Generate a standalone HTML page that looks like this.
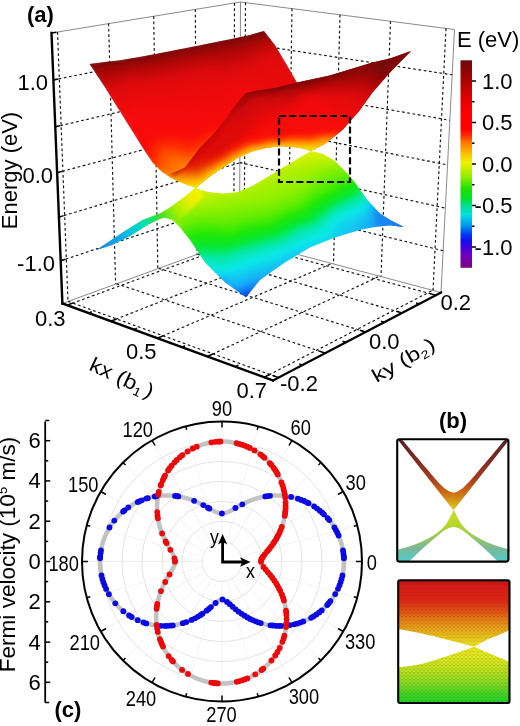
<!DOCTYPE html>
<html><head><meta charset="utf-8"><title>Figure</title>
<style>
html,body{margin:0;padding:0;background:#fff;}
svg{display:block;}
text{font-family:"Liberation Sans",sans-serif;fill:#000;}
.edge{stroke:#8a8a8a;stroke-width:1;fill:none;}
.dash{stroke:#111;stroke-width:1.15;stroke-dasharray:2.7 2.6;fill:none;}
.ax{stroke:#000;stroke-width:2.4;stroke-linecap:square;fill:none;}
.tk{stroke:#000;stroke-width:1.5;fill:none;}
.t21{font-size:22px;}
.t20{font-size:21px;}
.b{font-weight:bold;}

</style></head>
<body>
<svg width="520" height="726" viewBox="0 0 520 726">
<rect width="520" height="726" fill="#fff"/>
<g id="box">
<line x1="51.5" y1="33.0" x2="240.5" y2="2.0" class="edge" />
<line x1="240.5" y1="2.0" x2="454.5" y2="29.5" class="edge" />
<line x1="454.5" y1="29.5" x2="441.0" y2="292.5" class="edge" />
<line x1="441.0" y1="292.5" x2="239.5" y2="239.0" class="edge" />
<line x1="239.5" y1="239.0" x2="62.4" y2="303.5" class="edge" />
<line x1="240.5" y1="2.0" x2="239.5" y2="239.0" class="edge" />
<line x1="57.5" y1="32.0" x2="68.0" y2="301.5" class="dash" />
<line x1="108.6" y1="23.6" x2="115.6" y2="284.1" class="dash" />
<line x1="153.7" y1="16.2" x2="157.8" y2="268.8" class="dash" />
<line x1="195.3" y1="9.4" x2="196.9" y2="254.5" class="dash" />
<line x1="234.5" y1="3.0" x2="233.8" y2="241.1" class="dash" />
<line x1="53.4" y1="79.9" x2="240.3" y2="42.8" class="dash" />
<line x1="55.3" y1="126.8" x2="240.2" y2="83.7" class="dash" />
<line x1="57.1" y1="172.7" x2="240.0" y2="123.9" class="dash" />
<line x1="58.9" y1="217.1" x2="239.8" y2="162.8" class="dash" />
<line x1="60.7" y1="260.8" x2="239.7" y2="201.3" class="dash" />
<line x1="245.5" y1="2.6" x2="244.2" y2="240.3" class="dash" />
<line x1="292.0" y1="8.6" x2="288.2" y2="251.9" class="dash" />
<line x1="340.0" y1="14.8" x2="333.5" y2="264.0" class="dash" />
<line x1="390.5" y1="21.3" x2="381.0" y2="276.6" class="dash" />
<line x1="446.0" y1="28.4" x2="433.0" y2="290.4" class="dash" />
<line x1="240.3" y1="42.6" x2="452.2" y2="74.8" class="dash" />
<line x1="240.2" y1="83.5" x2="449.8" y2="120.3" class="dash" />
<line x1="240.0" y1="123.7" x2="447.5" y2="164.9" class="dash" />
<line x1="239.8" y1="162.6" x2="445.3" y2="208.1" class="dash" />
<line x1="239.7" y1="201.1" x2="443.1" y2="250.7" class="dash" />
<line x1="67.1" y1="305.2" x2="244.1" y2="240.2" class="dash" />
<line x1="110.9" y1="321.2" x2="287.0" y2="251.6" class="dash" />
<line x1="157.4" y1="338.2" x2="331.8" y2="263.5" class="dash" />
<line x1="207.5" y1="356.5" x2="379.5" y2="276.2" class="dash" />
<line x1="264.2" y1="377.3" x2="432.8" y2="290.3" class="dash" />
<line x1="68.1" y1="301.4" x2="278.6" y2="377.6" class="dash" />
<line x1="116.5" y1="283.8" x2="325.3" y2="353.1" class="dash" />
<line x1="158.8" y1="268.4" x2="365.6" y2="332.0" class="dash" />
<line x1="197.6" y1="254.2" x2="402.1" y2="312.9" class="dash" />
<line x1="233.9" y1="241.0" x2="435.9" y2="295.2" class="dash" />
</g>
<defs>
<clipPath id="cLow"><polygon points="96.5,250.0 122.5,232.5 142.5,220.0 160.0,213.5 170.0,207.5 183.0,198.0 190.0,192.5 195.0,188.0 203.0,190.5 208.8,192.0 223.3,193.4 237.7,192.0 252.0,186.0 266.5,177.5 281.0,168.8 295.4,160.2 303.0,155.5 311.0,151.0 322.5,153.5 335.0,161.0 347.5,173.5 355.0,182.5 367.5,200.0 380.0,213.5 390.0,220.0 403.8,227.0 390.0,225.3 375.0,227.0 360.0,230.0 335.0,237.5 310.0,247.5 285.0,262.5 260.0,280.0 246.0,297.5 225.0,282.5 205.0,262.5 190.0,240.0 180.0,227.5 172.5,220.0 165.0,217.5 160.0,218.8 147.5,225.0 130.0,236.0 112.0,245.0"/></clipPath>
<clipPath id="cUp"><polygon points="89.5,64.0 105.0,62.0 118.5,60.4 138.0,57.2 157.0,53.8 176.0,50.0 195.4,46.2 215.0,42.3 233.8,38.5 250.0,35.0 264.0,31.0 275.0,45.0 287.5,66.0 297.0,82.5 329.8,75.5 372.5,62.5 390.0,58.5 411.0,51.0 390.0,72.5 372.5,92.5 360.0,110.0 342.5,130.0 325.0,144.0 311.0,151.0 303.0,148.5 295.4,147.2 281.0,146.3 266.5,148.1 252.1,151.5 237.7,157.9 223.3,167.4 208.8,177.5 202.0,183.0 196.0,188.0 187.5,185.0 175.0,180.0 162.5,172.5 152.5,162.5 142.5,147.5 130.0,127.5 117.5,107.5 105.0,87.5"/></clipPath>
<clipPath id="cFront"><polygon points="297.0,82.5 420.0,45.0 420.0,200.0 160.0,200.0 160.0,178.0 167.5,175.0 185.0,167.5 200.0,147.5 212.5,135.0 225.0,120.0 237.5,102.5 246.0,93.0 257.5,90.5 275.0,88.0"/></clipPath>
<filter id="bl1_5" x="-50%" y="-50%" width="200%" height="200%" color-interpolation-filters="sRGB"><feGaussianBlur stdDeviation="1.5"/></filter>
<filter id="bl2" x="-50%" y="-50%" width="200%" height="200%" color-interpolation-filters="sRGB"><feGaussianBlur stdDeviation="2"/></filter>
<filter id="bl3" x="-50%" y="-50%" width="200%" height="200%" color-interpolation-filters="sRGB"><feGaussianBlur stdDeviation="3"/></filter>
<filter id="bl4" x="-50%" y="-50%" width="200%" height="200%" color-interpolation-filters="sRGB"><feGaussianBlur stdDeviation="4"/></filter>
<filter id="bl5" x="-50%" y="-50%" width="200%" height="200%" color-interpolation-filters="sRGB"><feGaussianBlur stdDeviation="5"/></filter>
<filter id="bl8" x="-50%" y="-50%" width="200%" height="200%" color-interpolation-filters="sRGB"><feGaussianBlur stdDeviation="8"/></filter>
<linearGradient id="gLow" gradientUnits="userSpaceOnUse" x1="194" y1="188" x2="228.4" y2="303">
<stop offset="0" stop-color="#f2f200"/>
<stop offset="0.06" stop-color="#e4f200"/>
<stop offset="0.13" stop-color="#b8f000"/>
<stop offset="0.21" stop-color="#70ea00"/>
<stop offset="0.29" stop-color="#20e010"/>
<stop offset="0.40" stop-color="#00e070"/>
<stop offset="0.53" stop-color="#00e0e0"/>
<stop offset="0.68" stop-color="#10b4f0"/>
<stop offset="0.82" stop-color="#1088f0"/>
<stop offset="1" stop-color="#1060e8"/>
</linearGradient>
<linearGradient id="gWing" gradientUnits="userSpaceOnUse" x1="97" y1="250" x2="196" y2="188">
<stop offset="0" stop-color="#2080f0"/>
<stop offset="0.25" stop-color="#10b0f0"/>
<stop offset="0.45" stop-color="#00e0c0"/>
<stop offset="0.6" stop-color="#30e030"/>
<stop offset="0.75" stop-color="#a0f000"/>
<stop offset="0.9" stop-color="#e8f000"/>
<stop offset="1" stop-color="#f2f200"/>
</linearGradient>
<linearGradient id="gBack" gradientUnits="userSpaceOnUse" x1="176" y1="47" x2="200.6" y2="174.7">
<stop offset="0" stop-color="#800606"/>
<stop offset="0.07" stop-color="#a80a0a"/>
<stop offset="0.18" stop-color="#d81010"/>
<stop offset="0.3" stop-color="#ee1212"/>
<stop offset="0.8" stop-color="#f41414"/>
<stop offset="0.9" stop-color="#f84010"/>
<stop offset="1" stop-color="#fc8010"/>
</linearGradient>
<linearGradient id="gFront" gradientUnits="userSpaceOnUse" x1="300" y1="79" x2="319.3" y2="154.7">
<stop offset="0" stop-color="#7c0606"/>
<stop offset="0.08" stop-color="#a00a0a"/>
<stop offset="0.2" stop-color="#d40e0e"/>
<stop offset="0.32" stop-color="#ee1212"/>
<stop offset="0.62" stop-color="#f41414"/>
<stop offset="0.76" stop-color="#f84a10"/>
<stop offset="0.88" stop-color="#fc9410"/>
<stop offset="0.96" stop-color="#fcd020"/>
<stop offset="1" stop-color="#f8f020"/>
</linearGradient>
</defs>
<g id="lower" clip-path="url(#cLow)">
<g filter="url(#bl2)">
<rect x="309" y="148" width="9.5" height="3.5" fill="#eaf000"/>
<rect x="303" y="151" width="15.5" height="3.5" fill="#dff000"/>
<rect x="318" y="151" width="9.5" height="3.5" fill="#ddf000"/>
<rect x="297" y="154" width="9.5" height="3.5" fill="#d8f000"/>
<rect x="306" y="154" width="27.5" height="3.5" fill="#d2f000"/>
<rect x="291" y="157" width="9.5" height="3.5" fill="#d1f000"/>
<rect x="300" y="157" width="9.5" height="3.5" fill="#ccf000"/>
<rect x="309" y="157" width="9.5" height="3.5" fill="#c7f000"/>
<rect x="318" y="157" width="18.5" height="3.5" fill="#c6f000"/>
<rect x="288" y="160" width="6.5" height="3.5" fill="#ccf000"/>
<rect x="294" y="160" width="6.5" height="3.5" fill="#c8f000"/>
<rect x="300" y="160" width="6.5" height="3.5" fill="#c4f000"/>
<rect x="306" y="160" width="6.5" height="3.5" fill="#c0f000"/>
<rect x="312" y="160" width="9.5" height="3.5" fill="#baf000"/>
<rect x="321" y="160" width="15.5" height="3.5" fill="#b8f000"/>
<rect x="336" y="160" width="3.5" height="3.5" fill="#adf000"/>
<rect x="282" y="163" width="6.5" height="3.5" fill="#c7f000"/>
<rect x="288" y="163" width="9.5" height="3.5" fill="#c2f000"/>
<rect x="297" y="163" width="6.5" height="3.5" fill="#bef000"/>
<rect x="303" y="163" width="6.5" height="3.5" fill="#b9f000"/>
<rect x="309" y="163" width="6.5" height="3.5" fill="#b4f000"/>
<rect x="315" y="163" width="6.5" height="3.5" fill="#aef000"/>
<rect x="321" y="163" width="12.5" height="3.5" fill="#a9f000"/>
<rect x="333" y="163" width="3.5" height="3.5" fill="#a3f000"/>
<rect x="336" y="163" width="3.5" height="3.5" fill="#9af000"/>
<rect x="339" y="163" width="3.5" height="3.5" fill="#92f000"/>
<rect x="276" y="166" width="6.5" height="3.5" fill="#c4f000"/>
<rect x="282" y="166" width="9.5" height="3.5" fill="#bdf000"/>
<rect x="291" y="166" width="6.5" height="3.5" fill="#baf000"/>
<rect x="297" y="166" width="6.5" height="3.5" fill="#b6f000"/>
<rect x="303" y="166" width="6.5" height="3.5" fill="#b1f000"/>
<rect x="309" y="166" width="6.5" height="3.5" fill="#aaf000"/>
<rect x="315" y="166" width="6.5" height="3.5" fill="#a3f000"/>
<rect x="321" y="166" width="6.5" height="3.5" fill="#9df000"/>
<rect x="327" y="166" width="6.5" height="3.5" fill="#99f000"/>
<rect x="333" y="166" width="3.5" height="3.5" fill="#93f000"/>
<rect x="336" y="166" width="3.5" height="3.5" fill="#8bf000"/>
<rect x="339" y="166" width="6.5" height="3.5" fill="#83ef01"/>
<rect x="273" y="169" width="6.5" height="3.5" fill="#c0f000"/>
<rect x="279" y="169" width="6.5" height="3.5" fill="#baf000"/>
<rect x="285" y="169" width="9.5" height="3.5" fill="#b5f000"/>
<rect x="294" y="169" width="6.5" height="3.5" fill="#b1f000"/>
<rect x="300" y="169" width="6.5" height="3.5" fill="#acf000"/>
<rect x="306" y="169" width="6.5" height="3.5" fill="#a5f000"/>
<rect x="312" y="169" width="3.5" height="3.5" fill="#9ef000"/>
<rect x="315" y="169" width="3.5" height="3.5" fill="#9af000"/>
<rect x="318" y="169" width="3.5" height="3.5" fill="#95f000"/>
<rect x="321" y="169" width="3.5" height="3.5" fill="#91f000"/>
<rect x="324" y="169" width="6.5" height="3.5" fill="#8df000"/>
<rect x="330" y="169" width="3.5" height="3.5" fill="#88ef00"/>
<rect x="333" y="169" width="3.5" height="3.5" fill="#83ef01"/>
<rect x="336" y="169" width="3.5" height="3.5" fill="#7def01"/>
<rect x="339" y="169" width="9.5" height="3.5" fill="#76ee01"/>
<rect x="267" y="172" width="6.5" height="3.5" fill="#bff000"/>
<rect x="273" y="172" width="6.5" height="3.5" fill="#b9f000"/>
<rect x="279" y="172" width="6.5" height="3.5" fill="#b4f000"/>
<rect x="285" y="172" width="6.5" height="3.5" fill="#b0f000"/>
<rect x="291" y="172" width="6.5" height="3.5" fill="#acf000"/>
<rect x="297" y="172" width="6.5" height="3.5" fill="#a8f000"/>
<rect x="303" y="172" width="6.5" height="3.5" fill="#a1f000"/>
<rect x="309" y="172" width="3.5" height="3.5" fill="#9af000"/>
<rect x="312" y="172" width="3.5" height="3.5" fill="#96f000"/>
<rect x="315" y="172" width="3.5" height="3.5" fill="#91f000"/>
<rect x="318" y="172" width="3.5" height="3.5" fill="#8bf000"/>
<rect x="321" y="172" width="3.5" height="3.5" fill="#85ef01"/>
<rect x="324" y="172" width="6.5" height="3.5" fill="#80ef01"/>
<rect x="330" y="172" width="3.5" height="3.5" fill="#7aee01"/>
<rect x="333" y="172" width="3.5" height="3.5" fill="#76ee01"/>
<rect x="336" y="172" width="6.5" height="3.5" fill="#71ee02"/>
<rect x="342" y="172" width="6.5" height="3.5" fill="#6cee02"/>
<rect x="348" y="172" width="3.5" height="3.5" fill="#65ed02"/>
<rect x="261" y="175" width="6.5" height="3.5" fill="#bef000"/>
<rect x="267" y="175" width="6.5" height="3.5" fill="#b8f000"/>
<rect x="273" y="175" width="6.5" height="3.5" fill="#b3f000"/>
<rect x="279" y="175" width="6.5" height="3.5" fill="#aff000"/>
<rect x="285" y="175" width="6.5" height="3.5" fill="#abf000"/>
<rect x="291" y="175" width="6.5" height="3.5" fill="#a6f000"/>
<rect x="297" y="175" width="6.5" height="3.5" fill="#a1f000"/>
<rect x="303" y="175" width="3.5" height="3.5" fill="#9bf000"/>
<rect x="306" y="175" width="3.5" height="3.5" fill="#97f000"/>
<rect x="309" y="175" width="3.5" height="3.5" fill="#93f000"/>
<rect x="312" y="175" width="3.5" height="3.5" fill="#8ef000"/>
<rect x="315" y="175" width="3.5" height="3.5" fill="#87ef00"/>
<rect x="318" y="175" width="3.5" height="3.5" fill="#81ef01"/>
<rect x="321" y="175" width="3.5" height="3.5" fill="#7bef01"/>
<rect x="324" y="175" width="3.5" height="3.5" fill="#76ee01"/>
<rect x="327" y="175" width="3.5" height="3.5" fill="#72ee02"/>
<rect x="330" y="175" width="3.5" height="3.5" fill="#6eee02"/>
<rect x="333" y="175" width="3.5" height="3.5" fill="#6aed02"/>
<rect x="336" y="175" width="6.5" height="3.5" fill="#66ed02"/>
<rect x="342" y="175" width="6.5" height="3.5" fill="#60ed02"/>
<rect x="348" y="175" width="3.5" height="3.5" fill="#57ec03"/>
<rect x="351" y="175" width="3.5" height="3.5" fill="#4eeb03"/>
<rect x="258" y="178" width="6.5" height="3.5" fill="#baf000"/>
<rect x="264" y="178" width="6.5" height="3.5" fill="#b5f000"/>
<rect x="270" y="178" width="6.5" height="3.5" fill="#b0f000"/>
<rect x="276" y="178" width="6.5" height="3.5" fill="#abf000"/>
<rect x="282" y="178" width="6.5" height="3.5" fill="#a7f000"/>
<rect x="288" y="178" width="6.5" height="3.5" fill="#a3f000"/>
<rect x="294" y="178" width="6.5" height="3.5" fill="#9ff000"/>
<rect x="300" y="178" width="6.5" height="3.5" fill="#98f000"/>
<rect x="306" y="178" width="3.5" height="3.5" fill="#91f000"/>
<rect x="309" y="178" width="3.5" height="3.5" fill="#8bf000"/>
<rect x="312" y="178" width="3.5" height="3.5" fill="#85ef01"/>
<rect x="315" y="178" width="3.5" height="3.5" fill="#7eef01"/>
<rect x="318" y="178" width="3.5" height="3.5" fill="#78ee01"/>
<rect x="321" y="178" width="3.5" height="3.5" fill="#72ee02"/>
<rect x="324" y="178" width="3.5" height="3.5" fill="#6dee02"/>
<rect x="327" y="178" width="3.5" height="3.5" fill="#68ed02"/>
<rect x="330" y="178" width="3.5" height="3.5" fill="#63ed02"/>
<rect x="333" y="178" width="3.5" height="3.5" fill="#5fed03"/>
<rect x="336" y="178" width="3.5" height="3.5" fill="#5aec03"/>
<rect x="339" y="178" width="3.5" height="3.5" fill="#55ec03"/>
<rect x="342" y="178" width="3.5" height="3.5" fill="#51ec03"/>
<rect x="345" y="178" width="3.5" height="3.5" fill="#4ceb04"/>
<rect x="348" y="178" width="3.5" height="3.5" fill="#45eb04"/>
<rect x="351" y="178" width="3.5" height="3.5" fill="#3cea04"/>
<rect x="354" y="178" width="3.5" height="3.5" fill="#2fe905"/>
<rect x="252" y="181" width="6.5" height="3.5" fill="#b8f000"/>
<rect x="258" y="181" width="6.5" height="3.5" fill="#b3f000"/>
<rect x="264" y="181" width="6.5" height="3.5" fill="#aff000"/>
<rect x="270" y="181" width="6.5" height="3.5" fill="#abf000"/>
<rect x="276" y="181" width="6.5" height="3.5" fill="#a6f000"/>
<rect x="282" y="181" width="6.5" height="3.5" fill="#a2f000"/>
<rect x="288" y="181" width="6.5" height="3.5" fill="#9ef000"/>
<rect x="294" y="181" width="6.5" height="3.5" fill="#99f000"/>
<rect x="300" y="181" width="3.5" height="3.5" fill="#93f000"/>
<rect x="303" y="181" width="3.5" height="3.5" fill="#8ff000"/>
<rect x="306" y="181" width="3.5" height="3.5" fill="#89ef00"/>
<rect x="309" y="181" width="3.5" height="3.5" fill="#83ef01"/>
<rect x="312" y="181" width="3.5" height="3.5" fill="#7cef01"/>
<rect x="315" y="181" width="3.5" height="3.5" fill="#76ee01"/>
<rect x="318" y="181" width="3.5" height="3.5" fill="#6fee02"/>
<rect x="321" y="181" width="3.5" height="3.5" fill="#69ed02"/>
<rect x="324" y="181" width="3.5" height="3.5" fill="#64ed02"/>
<rect x="327" y="181" width="3.5" height="3.5" fill="#5eed03"/>
<rect x="330" y="181" width="3.5" height="3.5" fill="#58ec03"/>
<rect x="333" y="181" width="3.5" height="3.5" fill="#52ec03"/>
<rect x="336" y="181" width="3.5" height="3.5" fill="#4ceb04"/>
<rect x="339" y="181" width="3.5" height="3.5" fill="#46eb04"/>
<rect x="342" y="181" width="3.5" height="3.5" fill="#3fea04"/>
<rect x="345" y="181" width="3.5" height="3.5" fill="#38ea05"/>
<rect x="348" y="181" width="3.5" height="3.5" fill="#30e905"/>
<rect x="351" y="181" width="3.5" height="3.5" fill="#26e905"/>
<rect x="354" y="181" width="3.5" height="3.5" fill="#1be807"/>
<rect x="357" y="181" width="3.5" height="3.5" fill="#17e810"/>
<rect x="192" y="184" width="6.5" height="3.5" fill="#edf000"/>
<rect x="246" y="184" width="6.5" height="3.5" fill="#b7f000"/>
<rect x="252" y="184" width="6.5" height="3.5" fill="#b2f000"/>
<rect x="258" y="184" width="6.5" height="3.5" fill="#adf000"/>
<rect x="264" y="184" width="6.5" height="3.5" fill="#a9f000"/>
<rect x="270" y="184" width="6.5" height="3.5" fill="#a5f000"/>
<rect x="276" y="184" width="9.5" height="3.5" fill="#9ff000"/>
<rect x="285" y="184" width="6.5" height="3.5" fill="#9cf000"/>
<rect x="291" y="184" width="6.5" height="3.5" fill="#97f000"/>
<rect x="297" y="184" width="3.5" height="3.5" fill="#91f000"/>
<rect x="300" y="184" width="3.5" height="3.5" fill="#8cf000"/>
<rect x="303" y="184" width="3.5" height="3.5" fill="#87ef00"/>
<rect x="306" y="184" width="3.5" height="3.5" fill="#80ef01"/>
<rect x="309" y="184" width="3.5" height="3.5" fill="#7aee01"/>
<rect x="312" y="184" width="3.5" height="3.5" fill="#73ee01"/>
<rect x="315" y="184" width="3.5" height="3.5" fill="#6cee02"/>
<rect x="318" y="184" width="3.5" height="3.5" fill="#66ed02"/>
<rect x="321" y="184" width="3.5" height="3.5" fill="#5fed03"/>
<rect x="324" y="184" width="3.5" height="3.5" fill="#59ec03"/>
<rect x="327" y="184" width="3.5" height="3.5" fill="#53ec03"/>
<rect x="330" y="184" width="3.5" height="3.5" fill="#4ceb03"/>
<rect x="333" y="184" width="3.5" height="3.5" fill="#45eb04"/>
<rect x="336" y="184" width="3.5" height="3.5" fill="#3dea04"/>
<rect x="339" y="184" width="3.5" height="3.5" fill="#34ea05"/>
<rect x="342" y="184" width="3.5" height="3.5" fill="#2be905"/>
<rect x="345" y="184" width="3.5" height="3.5" fill="#22e806"/>
<rect x="348" y="184" width="3.5" height="3.5" fill="#1be808"/>
<rect x="351" y="184" width="3.5" height="3.5" fill="#18e80e"/>
<rect x="354" y="184" width="3.5" height="3.5" fill="#14e816"/>
<rect x="357" y="184" width="3.5" height="3.5" fill="#10e81f"/>
<rect x="189" y="187" width="6.5" height="3.5" fill="#e7f000"/>
<rect x="195" y="187" width="6.5" height="3.5" fill="#e0f000"/>
<rect x="201" y="187" width="3.5" height="3.5" fill="#d9f000"/>
<rect x="204" y="187" width="3.5" height="3.5" fill="#d5f000"/>
<rect x="237" y="187" width="6.5" height="3.5" fill="#b9f000"/>
<rect x="243" y="187" width="6.5" height="3.5" fill="#b3f000"/>
<rect x="249" y="187" width="6.5" height="3.5" fill="#aef000"/>
<rect x="255" y="187" width="6.5" height="3.5" fill="#aaf000"/>
<rect x="261" y="187" width="6.5" height="3.5" fill="#a6f000"/>
<rect x="267" y="187" width="6.5" height="3.5" fill="#a2f000"/>
<rect x="273" y="187" width="9.5" height="3.5" fill="#9cf000"/>
<rect x="282" y="187" width="6.5" height="3.5" fill="#99f000"/>
<rect x="288" y="187" width="6.5" height="3.5" fill="#94f000"/>
<rect x="294" y="187" width="3.5" height="3.5" fill="#8ef000"/>
<rect x="297" y="187" width="3.5" height="3.5" fill="#8af000"/>
<rect x="300" y="187" width="3.5" height="3.5" fill="#84ef01"/>
<rect x="303" y="187" width="3.5" height="3.5" fill="#7eef01"/>
<rect x="306" y="187" width="3.5" height="3.5" fill="#78ee01"/>
<rect x="309" y="187" width="3.5" height="3.5" fill="#71ee02"/>
<rect x="312" y="187" width="3.5" height="3.5" fill="#69ed02"/>
<rect x="315" y="187" width="3.5" height="3.5" fill="#62ed02"/>
<rect x="318" y="187" width="3.5" height="3.5" fill="#5bec03"/>
<rect x="321" y="187" width="3.5" height="3.5" fill="#54ec03"/>
<rect x="324" y="187" width="3.5" height="3.5" fill="#4deb03"/>
<rect x="327" y="187" width="3.5" height="3.5" fill="#46eb04"/>
<rect x="330" y="187" width="3.5" height="3.5" fill="#3fea04"/>
<rect x="333" y="187" width="3.5" height="3.5" fill="#35ea05"/>
<rect x="336" y="187" width="3.5" height="3.5" fill="#2be905"/>
<rect x="339" y="187" width="3.5" height="3.5" fill="#20e806"/>
<rect x="342" y="187" width="3.5" height="3.5" fill="#1ae80a"/>
<rect x="345" y="187" width="3.5" height="3.5" fill="#17e810"/>
<rect x="348" y="187" width="3.5" height="3.5" fill="#14e816"/>
<rect x="351" y="187" width="3.5" height="3.5" fill="#11e81d"/>
<rect x="354" y="187" width="3.5" height="3.5" fill="#0de825"/>
<rect x="357" y="187" width="3.5" height="3.5" fill="#09e82e"/>
<rect x="360" y="187" width="3.5" height="3.5" fill="#04e837"/>
<rect x="186" y="190" width="6.5" height="3.5" fill="#e1f000"/>
<rect x="192" y="190" width="3.5" height="3.5" fill="#daf000"/>
<rect x="195" y="190" width="6.5" height="3.5" fill="#d6f000"/>
<rect x="201" y="190" width="6.5" height="3.5" fill="#cff000"/>
<rect x="207" y="190" width="6.5" height="3.5" fill="#c8f000"/>
<rect x="213" y="190" width="6.5" height="3.5" fill="#c2f000"/>
<rect x="219" y="190" width="9.5" height="3.5" fill="#bcf000"/>
<rect x="228" y="190" width="6.5" height="3.5" fill="#b8f000"/>
<rect x="234" y="190" width="6.5" height="3.5" fill="#b4f000"/>
<rect x="240" y="190" width="6.5" height="3.5" fill="#aff000"/>
<rect x="246" y="190" width="6.5" height="3.5" fill="#aaf000"/>
<rect x="252" y="190" width="6.5" height="3.5" fill="#a6f000"/>
<rect x="258" y="190" width="6.5" height="3.5" fill="#a2f000"/>
<rect x="264" y="190" width="9.5" height="3.5" fill="#9df000"/>
<rect x="273" y="190" width="6.5" height="3.5" fill="#99f000"/>
<rect x="279" y="190" width="6.5" height="3.5" fill="#95f000"/>
<rect x="285" y="190" width="6.5" height="3.5" fill="#91f000"/>
<rect x="291" y="190" width="3.5" height="3.5" fill="#8bf000"/>
<rect x="294" y="190" width="3.5" height="3.5" fill="#87ef00"/>
<rect x="297" y="190" width="3.5" height="3.5" fill="#82ef01"/>
<rect x="300" y="190" width="3.5" height="3.5" fill="#7cef01"/>
<rect x="303" y="190" width="3.5" height="3.5" fill="#75ee01"/>
<rect x="306" y="190" width="3.5" height="3.5" fill="#6eee02"/>
<rect x="309" y="190" width="3.5" height="3.5" fill="#67ed02"/>
<rect x="312" y="190" width="3.5" height="3.5" fill="#5eed03"/>
<rect x="315" y="190" width="3.5" height="3.5" fill="#56ec03"/>
<rect x="318" y="190" width="3.5" height="3.5" fill="#4eeb03"/>
<rect x="321" y="190" width="3.5" height="3.5" fill="#47eb04"/>
<rect x="324" y="190" width="3.5" height="3.5" fill="#3fea04"/>
<rect x="327" y="190" width="3.5" height="3.5" fill="#37ea05"/>
<rect x="330" y="190" width="3.5" height="3.5" fill="#2ee905"/>
<rect x="333" y="190" width="3.5" height="3.5" fill="#23e806"/>
<rect x="336" y="190" width="3.5" height="3.5" fill="#1ae809"/>
<rect x="339" y="190" width="3.5" height="3.5" fill="#17e810"/>
<rect x="342" y="190" width="3.5" height="3.5" fill="#14e817"/>
<rect x="345" y="190" width="3.5" height="3.5" fill="#10e81e"/>
<rect x="348" y="190" width="3.5" height="3.5" fill="#0de825"/>
<rect x="351" y="190" width="3.5" height="3.5" fill="#09e82d"/>
<rect x="354" y="190" width="3.5" height="3.5" fill="#06e835"/>
<rect x="357" y="190" width="3.5" height="3.5" fill="#04e848"/>
<rect x="360" y="190" width="3.5" height="3.5" fill="#04e862"/>
<rect x="363" y="190" width="3.5" height="3.5" fill="#04e87a"/>
<rect x="183" y="193" width="6.5" height="3.5" fill="#daf000"/>
<rect x="189" y="193" width="3.5" height="3.5" fill="#d4f000"/>
<rect x="192" y="193" width="6.5" height="3.5" fill="#d0f000"/>
<rect x="198" y="193" width="6.5" height="3.5" fill="#c9f000"/>
<rect x="204" y="193" width="6.5" height="3.5" fill="#c2f000"/>
<rect x="210" y="193" width="6.5" height="3.5" fill="#bcf000"/>
<rect x="216" y="193" width="6.5" height="3.5" fill="#b7f000"/>
<rect x="222" y="193" width="9.5" height="3.5" fill="#b1f000"/>
<rect x="231" y="193" width="6.5" height="3.5" fill="#aef000"/>
<rect x="237" y="193" width="6.5" height="3.5" fill="#aaf000"/>
<rect x="243" y="193" width="6.5" height="3.5" fill="#a6f000"/>
<rect x="249" y="193" width="6.5" height="3.5" fill="#a2f000"/>
<rect x="255" y="193" width="9.5" height="3.5" fill="#9cf000"/>
<rect x="264" y="193" width="9.5" height="3.5" fill="#97f000"/>
<rect x="273" y="193" width="6.5" height="3.5" fill="#94f000"/>
<rect x="279" y="193" width="6.5" height="3.5" fill="#90f000"/>
<rect x="285" y="193" width="6.5" height="3.5" fill="#8af000"/>
<rect x="291" y="193" width="3.5" height="3.5" fill="#83ef01"/>
<rect x="294" y="193" width="3.5" height="3.5" fill="#7eef01"/>
<rect x="297" y="193" width="3.5" height="3.5" fill="#79ee01"/>
<rect x="300" y="193" width="3.5" height="3.5" fill="#73ee02"/>
<rect x="303" y="193" width="3.5" height="3.5" fill="#6cee02"/>
<rect x="306" y="193" width="3.5" height="3.5" fill="#64ed02"/>
<rect x="309" y="193" width="3.5" height="3.5" fill="#5bec03"/>
<rect x="312" y="193" width="3.5" height="3.5" fill="#52ec03"/>
<rect x="315" y="193" width="3.5" height="3.5" fill="#49eb04"/>
<rect x="318" y="193" width="3.5" height="3.5" fill="#3fea04"/>
<rect x="321" y="193" width="3.5" height="3.5" fill="#36ea05"/>
<rect x="324" y="193" width="3.5" height="3.5" fill="#2de905"/>
<rect x="327" y="193" width="3.5" height="3.5" fill="#24e906"/>
<rect x="330" y="193" width="3.5" height="3.5" fill="#1be807"/>
<rect x="333" y="193" width="3.5" height="3.5" fill="#18e80e"/>
<rect x="336" y="193" width="3.5" height="3.5" fill="#14e816"/>
<rect x="339" y="193" width="3.5" height="3.5" fill="#10e81e"/>
<rect x="342" y="193" width="3.5" height="3.5" fill="#0de826"/>
<rect x="345" y="193" width="3.5" height="3.5" fill="#09e82d"/>
<rect x="348" y="193" width="3.5" height="3.5" fill="#06e835"/>
<rect x="351" y="193" width="3.5" height="3.5" fill="#04e844"/>
<rect x="354" y="193" width="3.5" height="3.5" fill="#04e85b"/>
<rect x="357" y="193" width="3.5" height="3.5" fill="#04e873"/>
<rect x="360" y="193" width="3.5" height="3.5" fill="#04e88b"/>
<rect x="363" y="193" width="3.5" height="3.5" fill="#04e89e"/>
<rect x="180" y="196" width="6.5" height="3.5" fill="#d0f000"/>
<rect x="186" y="196" width="6.5" height="3.5" fill="#ccf000"/>
<rect x="192" y="196" width="3.5" height="3.5" fill="#c6f000"/>
<rect x="195" y="196" width="6.5" height="3.5" fill="#c2f000"/>
<rect x="201" y="196" width="6.5" height="3.5" fill="#bcf000"/>
<rect x="207" y="196" width="6.5" height="3.5" fill="#b6f000"/>
<rect x="213" y="196" width="6.5" height="3.5" fill="#b1f000"/>
<rect x="219" y="196" width="6.5" height="3.5" fill="#adf000"/>
<rect x="225" y="196" width="9.5" height="3.5" fill="#a7f000"/>
<rect x="234" y="196" width="6.5" height="3.5" fill="#a4f000"/>
<rect x="240" y="196" width="9.5" height="3.5" fill="#9ff000"/>
<rect x="249" y="196" width="9.5" height="3.5" fill="#9af000"/>
<rect x="258" y="196" width="9.5" height="3.5" fill="#95f000"/>
<rect x="267" y="196" width="6.5" height="3.5" fill="#92f000"/>
<rect x="273" y="196" width="6.5" height="3.5" fill="#8ef000"/>
<rect x="279" y="196" width="6.5" height="3.5" fill="#88ef00"/>
<rect x="285" y="196" width="3.5" height="3.5" fill="#82ef01"/>
<rect x="288" y="196" width="3.5" height="3.5" fill="#7eef01"/>
<rect x="291" y="196" width="3.5" height="3.5" fill="#7aee01"/>
<rect x="294" y="196" width="3.5" height="3.5" fill="#75ee01"/>
<rect x="297" y="196" width="3.5" height="3.5" fill="#70ee02"/>
<rect x="300" y="196" width="3.5" height="3.5" fill="#69ed02"/>
<rect x="303" y="196" width="3.5" height="3.5" fill="#61ed02"/>
<rect x="306" y="196" width="3.5" height="3.5" fill="#58ec03"/>
<rect x="309" y="196" width="3.5" height="3.5" fill="#4eeb03"/>
<rect x="312" y="196" width="3.5" height="3.5" fill="#44eb04"/>
<rect x="315" y="196" width="3.5" height="3.5" fill="#39ea04"/>
<rect x="318" y="196" width="3.5" height="3.5" fill="#2ee905"/>
<rect x="321" y="196" width="3.5" height="3.5" fill="#23e906"/>
<rect x="324" y="196" width="3.5" height="3.5" fill="#1be808"/>
<rect x="327" y="196" width="3.5" height="3.5" fill="#18e80e"/>
<rect x="330" y="196" width="3.5" height="3.5" fill="#15e815"/>
<rect x="333" y="196" width="3.5" height="3.5" fill="#11e81d"/>
<rect x="336" y="196" width="3.5" height="3.5" fill="#0de825"/>
<rect x="339" y="196" width="3.5" height="3.5" fill="#09e82e"/>
<rect x="342" y="196" width="3.5" height="3.5" fill="#05e835"/>
<rect x="345" y="196" width="3.5" height="3.5" fill="#04e846"/>
<rect x="348" y="196" width="3.5" height="3.5" fill="#04e85a"/>
<rect x="351" y="196" width="3.5" height="3.5" fill="#04e86f"/>
<rect x="354" y="196" width="3.5" height="3.5" fill="#04e884"/>
<rect x="357" y="196" width="3.5" height="3.5" fill="#04e899"/>
<rect x="360" y="196" width="3.5" height="3.5" fill="#05e8a6"/>
<rect x="363" y="196" width="3.5" height="3.5" fill="#06e8b2"/>
<rect x="366" y="196" width="3.5" height="3.5" fill="#07e8bd"/>
<rect x="174" y="199" width="12.5" height="3.5" fill="#c5f000"/>
<rect x="186" y="199" width="6.5" height="3.5" fill="#c0f000"/>
<rect x="192" y="199" width="3.5" height="3.5" fill="#bbf000"/>
<rect x="195" y="199" width="6.5" height="3.5" fill="#b7f000"/>
<rect x="201" y="199" width="6.5" height="3.5" fill="#b2f000"/>
<rect x="207" y="199" width="6.5" height="3.5" fill="#adf000"/>
<rect x="213" y="199" width="6.5" height="3.5" fill="#a8f000"/>
<rect x="219" y="199" width="9.5" height="3.5" fill="#a3f000"/>
<rect x="228" y="199" width="9.5" height="3.5" fill="#9df000"/>
<rect x="237" y="199" width="12.5" height="3.5" fill="#99f000"/>
<rect x="249" y="199" width="9.5" height="3.5" fill="#94f000"/>
<rect x="258" y="199" width="6.5" height="3.5" fill="#91f000"/>
<rect x="264" y="199" width="6.5" height="3.5" fill="#8df000"/>
<rect x="270" y="199" width="6.5" height="3.5" fill="#88ef00"/>
<rect x="276" y="199" width="3.5" height="3.5" fill="#83ef01"/>
<rect x="279" y="199" width="6.5" height="3.5" fill="#7fef01"/>
<rect x="285" y="199" width="3.5" height="3.5" fill="#78ee01"/>
<rect x="288" y="199" width="3.5" height="3.5" fill="#74ee01"/>
<rect x="291" y="199" width="3.5" height="3.5" fill="#70ee02"/>
<rect x="294" y="199" width="3.5" height="3.5" fill="#6bed02"/>
<rect x="297" y="199" width="3.5" height="3.5" fill="#65ed02"/>
<rect x="300" y="199" width="3.5" height="3.5" fill="#5eed03"/>
<rect x="303" y="199" width="3.5" height="3.5" fill="#55ec03"/>
<rect x="306" y="199" width="3.5" height="3.5" fill="#4beb04"/>
<rect x="309" y="199" width="3.5" height="3.5" fill="#40ea04"/>
<rect x="312" y="199" width="3.5" height="3.5" fill="#34ea05"/>
<rect x="315" y="199" width="3.5" height="3.5" fill="#28e905"/>
<rect x="318" y="199" width="3.5" height="3.5" fill="#1ce807"/>
<rect x="321" y="199" width="3.5" height="3.5" fill="#18e80e"/>
<rect x="324" y="199" width="3.5" height="3.5" fill="#15e815"/>
<rect x="327" y="199" width="3.5" height="3.5" fill="#11e81c"/>
<rect x="330" y="199" width="3.5" height="3.5" fill="#0ee824"/>
<rect x="333" y="199" width="3.5" height="3.5" fill="#09e82d"/>
<rect x="336" y="199" width="3.5" height="3.5" fill="#05e835"/>
<rect x="339" y="199" width="3.5" height="3.5" fill="#04e849"/>
<rect x="342" y="199" width="3.5" height="3.5" fill="#04e85e"/>
<rect x="345" y="199" width="3.5" height="3.5" fill="#04e872"/>
<rect x="348" y="199" width="3.5" height="3.5" fill="#04e885"/>
<rect x="351" y="199" width="3.5" height="3.5" fill="#04e897"/>
<rect x="354" y="199" width="3.5" height="3.5" fill="#05e8a4"/>
<rect x="357" y="199" width="3.5" height="3.5" fill="#06e8af"/>
<rect x="360" y="199" width="3.5" height="3.5" fill="#07e8bb"/>
<rect x="363" y="199" width="3.5" height="3.5" fill="#07e8c6"/>
<rect x="366" y="199" width="3.5" height="3.5" fill="#08e8cf"/>
<rect x="369" y="199" width="3.5" height="3.5" fill="#09e8d9"/>
<rect x="171" y="202" width="12.5" height="3.5" fill="#b9f000"/>
<rect x="183" y="202" width="6.5" height="3.5" fill="#b6f000"/>
<rect x="189" y="202" width="6.5" height="3.5" fill="#b2f000"/>
<rect x="195" y="202" width="6.5" height="3.5" fill="#adf000"/>
<rect x="201" y="202" width="6.5" height="3.5" fill="#a8f000"/>
<rect x="207" y="202" width="9.5" height="3.5" fill="#a2f000"/>
<rect x="216" y="202" width="9.5" height="3.5" fill="#9cf000"/>
<rect x="225" y="202" width="6.5" height="3.5" fill="#99f000"/>
<rect x="231" y="202" width="12.5" height="3.5" fill="#94f000"/>
<rect x="243" y="202" width="9.5" height="3.5" fill="#90f000"/>
<rect x="252" y="202" width="9.5" height="3.5" fill="#8cf000"/>
<rect x="261" y="202" width="6.5" height="3.5" fill="#88ef00"/>
<rect x="267" y="202" width="6.5" height="3.5" fill="#83ef01"/>
<rect x="273" y="202" width="3.5" height="3.5" fill="#7def01"/>
<rect x="276" y="202" width="3.5" height="3.5" fill="#79ee01"/>
<rect x="279" y="202" width="3.5" height="3.5" fill="#75ee01"/>
<rect x="282" y="202" width="3.5" height="3.5" fill="#71ee02"/>
<rect x="285" y="202" width="3.5" height="3.5" fill="#6dee02"/>
<rect x="288" y="202" width="3.5" height="3.5" fill="#69ed02"/>
<rect x="291" y="202" width="3.5" height="3.5" fill="#64ed02"/>
<rect x="294" y="202" width="3.5" height="3.5" fill="#5fed03"/>
<rect x="297" y="202" width="3.5" height="3.5" fill="#59ec03"/>
<rect x="300" y="202" width="3.5" height="3.5" fill="#51ec03"/>
<rect x="303" y="202" width="3.5" height="3.5" fill="#48eb04"/>
<rect x="306" y="202" width="3.5" height="3.5" fill="#3dea04"/>
<rect x="309" y="202" width="3.5" height="3.5" fill="#30e905"/>
<rect x="312" y="202" width="3.5" height="3.5" fill="#22e806"/>
<rect x="315" y="202" width="3.5" height="3.5" fill="#1ae80a"/>
<rect x="318" y="202" width="3.5" height="3.5" fill="#16e812"/>
<rect x="321" y="202" width="3.5" height="3.5" fill="#12e81a"/>
<rect x="324" y="202" width="3.5" height="3.5" fill="#0fe822"/>
<rect x="327" y="202" width="3.5" height="3.5" fill="#0ae82b"/>
<rect x="330" y="202" width="3.5" height="3.5" fill="#06e833"/>
<rect x="333" y="202" width="3.5" height="3.5" fill="#04e845"/>
<rect x="336" y="202" width="3.5" height="3.5" fill="#04e85f"/>
<rect x="339" y="202" width="3.5" height="3.5" fill="#04e877"/>
<rect x="342" y="202" width="3.5" height="3.5" fill="#04e88b"/>
<rect x="345" y="202" width="3.5" height="3.5" fill="#04e89b"/>
<rect x="348" y="202" width="3.5" height="3.5" fill="#05e8a5"/>
<rect x="351" y="202" width="3.5" height="3.5" fill="#06e8af"/>
<rect x="354" y="202" width="3.5" height="3.5" fill="#06e8ba"/>
<rect x="357" y="202" width="3.5" height="3.5" fill="#07e8c4"/>
<rect x="360" y="202" width="3.5" height="3.5" fill="#08e8ce"/>
<rect x="363" y="202" width="3.5" height="3.5" fill="#09e8d8"/>
<rect x="366" y="202" width="3.5" height="3.5" fill="#09e8e2"/>
<rect x="369" y="202" width="3.5" height="3.5" fill="#0ae7ea"/>
<rect x="372" y="202" width="3.5" height="3.5" fill="#0cdfec"/>
<rect x="165" y="205" width="12.5" height="3.5" fill="#b0f000"/>
<rect x="177" y="205" width="9.5" height="3.5" fill="#abf000"/>
<rect x="186" y="205" width="6.5" height="3.5" fill="#a8f000"/>
<rect x="192" y="205" width="6.5" height="3.5" fill="#a4f000"/>
<rect x="198" y="205" width="6.5" height="3.5" fill="#a0f000"/>
<rect x="204" y="205" width="9.5" height="3.5" fill="#9af000"/>
<rect x="213" y="205" width="9.5" height="3.5" fill="#96f000"/>
<rect x="222" y="205" width="9.5" height="3.5" fill="#92f000"/>
<rect x="231" y="205" width="9.5" height="3.5" fill="#8bf000"/>
<rect x="240" y="205" width="12.5" height="3.5" fill="#88ef00"/>
<rect x="252" y="205" width="9.5" height="3.5" fill="#83ef01"/>
<rect x="261" y="205" width="6.5" height="3.5" fill="#7fef01"/>
<rect x="267" y="205" width="6.5" height="3.5" fill="#7aee01"/>
<rect x="273" y="205" width="3.5" height="3.5" fill="#73ee01"/>
<rect x="276" y="205" width="3.5" height="3.5" fill="#6fee02"/>
<rect x="279" y="205" width="3.5" height="3.5" fill="#6aed02"/>
<rect x="282" y="205" width="3.5" height="3.5" fill="#65ed02"/>
<rect x="285" y="205" width="3.5" height="3.5" fill="#60ed02"/>
<rect x="288" y="205" width="3.5" height="3.5" fill="#5bec03"/>
<rect x="291" y="205" width="3.5" height="3.5" fill="#56ec03"/>
<rect x="294" y="205" width="3.5" height="3.5" fill="#51ec03"/>
<rect x="297" y="205" width="3.5" height="3.5" fill="#4aeb04"/>
<rect x="300" y="205" width="3.5" height="3.5" fill="#42eb04"/>
<rect x="303" y="205" width="3.5" height="3.5" fill="#38ea05"/>
<rect x="306" y="205" width="3.5" height="3.5" fill="#2ce905"/>
<rect x="309" y="205" width="3.5" height="3.5" fill="#1ee806"/>
<rect x="312" y="205" width="3.5" height="3.5" fill="#19e80d"/>
<rect x="315" y="205" width="3.5" height="3.5" fill="#15e815"/>
<rect x="318" y="205" width="3.5" height="3.5" fill="#11e81e"/>
<rect x="321" y="205" width="3.5" height="3.5" fill="#0ce827"/>
<rect x="324" y="205" width="3.5" height="3.5" fill="#08e830"/>
<rect x="327" y="205" width="3.5" height="3.5" fill="#04e83b"/>
<rect x="330" y="205" width="3.5" height="3.5" fill="#04e856"/>
<rect x="333" y="205" width="3.5" height="3.5" fill="#04e871"/>
<rect x="336" y="205" width="3.5" height="3.5" fill="#04e88b"/>
<rect x="339" y="205" width="3.5" height="3.5" fill="#04e89e"/>
<rect x="342" y="205" width="3.5" height="3.5" fill="#05e8a9"/>
<rect x="345" y="205" width="3.5" height="3.5" fill="#06e8b3"/>
<rect x="348" y="205" width="3.5" height="3.5" fill="#07e8bc"/>
<rect x="351" y="205" width="3.5" height="3.5" fill="#07e8c5"/>
<rect x="354" y="205" width="3.5" height="3.5" fill="#08e8ce"/>
<rect x="357" y="205" width="3.5" height="3.5" fill="#09e8d7"/>
<rect x="360" y="205" width="3.5" height="3.5" fill="#09e8e0"/>
<rect x="363" y="205" width="3.5" height="3.5" fill="#0ae8ea"/>
<rect x="366" y="205" width="3.5" height="3.5" fill="#0ce1ec"/>
<rect x="369" y="205" width="3.5" height="3.5" fill="#0ddaed"/>
<rect x="372" y="205" width="3.5" height="3.5" fill="#0fd1ef"/>
<rect x="375" y="205" width="3.5" height="3.5" fill="#11c8f1"/>
<rect x="162" y="208" width="12.5" height="3.5" fill="#a7f000"/>
<rect x="174" y="208" width="6.5" height="3.5" fill="#a3f000"/>
<rect x="180" y="208" width="9.5" height="3.5" fill="#9df000"/>
<rect x="189" y="208" width="6.5" height="3.5" fill="#9bf000"/>
<rect x="195" y="208" width="9.5" height="3.5" fill="#95f000"/>
<rect x="204" y="208" width="9.5" height="3.5" fill="#91f000"/>
<rect x="213" y="208" width="9.5" height="3.5" fill="#8ef000"/>
<rect x="222" y="208" width="6.5" height="3.5" fill="#8bf000"/>
<rect x="228" y="208" width="6.5" height="3.5" fill="#86ef00"/>
<rect x="234" y="208" width="9.5" height="3.5" fill="#81ef01"/>
<rect x="243" y="208" width="12.5" height="3.5" fill="#7def01"/>
<rect x="255" y="208" width="6.5" height="3.5" fill="#7aee01"/>
<rect x="261" y="208" width="6.5" height="3.5" fill="#76ee01"/>
<rect x="267" y="208" width="3.5" height="3.5" fill="#71ee02"/>
<rect x="270" y="208" width="3.5" height="3.5" fill="#6dee02"/>
<rect x="273" y="208" width="3.5" height="3.5" fill="#68ed02"/>
<rect x="276" y="208" width="3.5" height="3.5" fill="#63ed02"/>
<rect x="279" y="208" width="3.5" height="3.5" fill="#5ded03"/>
<rect x="282" y="208" width="3.5" height="3.5" fill="#58ec03"/>
<rect x="285" y="208" width="3.5" height="3.5" fill="#52ec03"/>
<rect x="288" y="208" width="3.5" height="3.5" fill="#4ceb04"/>
<rect x="291" y="208" width="3.5" height="3.5" fill="#46eb04"/>
<rect x="294" y="208" width="3.5" height="3.5" fill="#40ea04"/>
<rect x="297" y="208" width="3.5" height="3.5" fill="#39ea04"/>
<rect x="300" y="208" width="3.5" height="3.5" fill="#32e905"/>
<rect x="303" y="208" width="3.5" height="3.5" fill="#27e905"/>
<rect x="306" y="208" width="3.5" height="3.5" fill="#1be807"/>
<rect x="309" y="208" width="3.5" height="3.5" fill="#17e810"/>
<rect x="312" y="208" width="3.5" height="3.5" fill="#13e818"/>
<rect x="315" y="208" width="3.5" height="3.5" fill="#0fe821"/>
<rect x="318" y="208" width="3.5" height="3.5" fill="#0be82a"/>
<rect x="321" y="208" width="3.5" height="3.5" fill="#06e834"/>
<rect x="324" y="208" width="3.5" height="3.5" fill="#04e847"/>
<rect x="327" y="208" width="3.5" height="3.5" fill="#04e863"/>
<rect x="330" y="208" width="3.5" height="3.5" fill="#04e87f"/>
<rect x="333" y="208" width="3.5" height="3.5" fill="#04e899"/>
<rect x="336" y="208" width="3.5" height="3.5" fill="#05e8a8"/>
<rect x="339" y="208" width="3.5" height="3.5" fill="#06e8b5"/>
<rect x="342" y="208" width="3.5" height="3.5" fill="#07e8c0"/>
<rect x="345" y="208" width="3.5" height="3.5" fill="#08e8c8"/>
<rect x="348" y="208" width="3.5" height="3.5" fill="#08e8d0"/>
<rect x="351" y="208" width="3.5" height="3.5" fill="#09e8d8"/>
<rect x="354" y="208" width="3.5" height="3.5" fill="#09e8e0"/>
<rect x="357" y="208" width="3.5" height="3.5" fill="#0ae8e8"/>
<rect x="360" y="208" width="3.5" height="3.5" fill="#0be3eb"/>
<rect x="363" y="208" width="3.5" height="3.5" fill="#0ddded"/>
<rect x="366" y="208" width="3.5" height="3.5" fill="#0ed5ee"/>
<rect x="369" y="208" width="3.5" height="3.5" fill="#10cef0"/>
<rect x="372" y="208" width="3.5" height="3.5" fill="#12c5f2"/>
<rect x="375" y="208" width="3.5" height="3.5" fill="#14bbf4"/>
<rect x="378" y="208" width="3.5" height="3.5" fill="#16b2f6"/>
<rect x="153" y="211" width="6.5" height="3.5" fill="#a6f000"/>
<rect x="159" y="211" width="12.5" height="3.5" fill="#a1f000"/>
<rect x="171" y="211" width="3.5" height="3.5" fill="#9ef000"/>
<rect x="174" y="211" width="3.5" height="3.5" fill="#9af000"/>
<rect x="177" y="211" width="9.5" height="3.5" fill="#94f000"/>
<rect x="186" y="211" width="6.5" height="3.5" fill="#92f000"/>
<rect x="192" y="211" width="6.5" height="3.5" fill="#8ef000"/>
<rect x="198" y="211" width="9.5" height="3.5" fill="#88ef00"/>
<rect x="207" y="211" width="12.5" height="3.5" fill="#85ef01"/>
<rect x="219" y="211" width="9.5" height="3.5" fill="#81ef01"/>
<rect x="228" y="211" width="6.5" height="3.5" fill="#7eef01"/>
<rect x="234" y="211" width="9.5" height="3.5" fill="#78ee01"/>
<rect x="243" y="211" width="9.5" height="3.5" fill="#73ee01"/>
<rect x="252" y="211" width="9.5" height="3.5" fill="#6fee02"/>
<rect x="261" y="211" width="6.5" height="3.5" fill="#6ced02"/>
<rect x="267" y="211" width="3.5" height="3.5" fill="#66ed02"/>
<rect x="270" y="211" width="3.5" height="3.5" fill="#61ed02"/>
<rect x="273" y="211" width="3.5" height="3.5" fill="#5cec03"/>
<rect x="276" y="211" width="3.5" height="3.5" fill="#56ec03"/>
<rect x="279" y="211" width="3.5" height="3.5" fill="#4fec03"/>
<rect x="282" y="211" width="3.5" height="3.5" fill="#48eb04"/>
<rect x="285" y="211" width="3.5" height="3.5" fill="#41eb04"/>
<rect x="288" y="211" width="3.5" height="3.5" fill="#3aea04"/>
<rect x="291" y="211" width="3.5" height="3.5" fill="#33ea05"/>
<rect x="294" y="211" width="3.5" height="3.5" fill="#2ce905"/>
<rect x="297" y="211" width="3.5" height="3.5" fill="#25e906"/>
<rect x="300" y="211" width="3.5" height="3.5" fill="#1de806"/>
<rect x="303" y="211" width="3.5" height="3.5" fill="#19e80b"/>
<rect x="306" y="211" width="3.5" height="3.5" fill="#16e813"/>
<rect x="309" y="211" width="3.5" height="3.5" fill="#12e81b"/>
<rect x="312" y="211" width="3.5" height="3.5" fill="#0de824"/>
<rect x="315" y="211" width="3.5" height="3.5" fill="#09e82d"/>
<rect x="318" y="211" width="3.5" height="3.5" fill="#05e837"/>
<rect x="321" y="211" width="3.5" height="3.5" fill="#04e851"/>
<rect x="324" y="211" width="3.5" height="3.5" fill="#04e86d"/>
<rect x="327" y="211" width="3.5" height="3.5" fill="#04e889"/>
<rect x="330" y="211" width="3.5" height="3.5" fill="#05e8a0"/>
<rect x="333" y="211" width="3.5" height="3.5" fill="#06e8b0"/>
<rect x="336" y="211" width="3.5" height="3.5" fill="#07e8be"/>
<rect x="339" y="211" width="3.5" height="3.5" fill="#08e8ca"/>
<rect x="342" y="211" width="3.5" height="3.5" fill="#08e8d3"/>
<rect x="345" y="211" width="3.5" height="3.5" fill="#09e8db"/>
<rect x="348" y="211" width="3.5" height="3.5" fill="#09e8e2"/>
<rect x="351" y="211" width="3.5" height="3.5" fill="#0ae8e9"/>
<rect x="354" y="211" width="3.5" height="3.5" fill="#0be4eb"/>
<rect x="357" y="211" width="3.5" height="3.5" fill="#0cdfec"/>
<rect x="360" y="211" width="3.5" height="3.5" fill="#0dd9ed"/>
<rect x="363" y="211" width="3.5" height="3.5" fill="#0fd2ef"/>
<rect x="366" y="211" width="3.5" height="3.5" fill="#10cbf0"/>
<rect x="369" y="211" width="3.5" height="3.5" fill="#12c3f2"/>
<rect x="372" y="211" width="3.5" height="3.5" fill="#14baf4"/>
<rect x="375" y="211" width="3.5" height="3.5" fill="#16b1f6"/>
<rect x="378" y="211" width="3.5" height="3.5" fill="#18a6f8"/>
<rect x="381" y="211" width="3.5" height="3.5" fill="#1499f7"/>
<rect x="147" y="214" width="9.5" height="3.5" fill="#a0f000"/>
<rect x="156" y="214" width="15.5" height="3.5" fill="#9cf000"/>
<rect x="171" y="214" width="3.5" height="3.5" fill="#99f000"/>
<rect x="174" y="214" width="3.5" height="3.5" fill="#94f000"/>
<rect x="177" y="214" width="3.5" height="3.5" fill="#8ef000"/>
<rect x="180" y="214" width="6.5" height="3.5" fill="#8af000"/>
<rect x="186" y="214" width="6.5" height="3.5" fill="#86ef01"/>
<rect x="192" y="214" width="6.5" height="3.5" fill="#81ef01"/>
<rect x="198" y="214" width="15.5" height="3.5" fill="#7aef01"/>
<rect x="213" y="214" width="15.5" height="3.5" fill="#78ee01"/>
<rect x="228" y="214" width="6.5" height="3.5" fill="#75ee01"/>
<rect x="234" y="214" width="6.5" height="3.5" fill="#70ee02"/>
<rect x="240" y="214" width="6.5" height="3.5" fill="#6cee02"/>
<rect x="246" y="214" width="9.5" height="3.5" fill="#67ed02"/>
<rect x="255" y="214" width="9.5" height="3.5" fill="#62ed02"/>
<rect x="264" y="214" width="3.5" height="3.5" fill="#5dec03"/>
<rect x="267" y="214" width="3.5" height="3.5" fill="#59ec03"/>
<rect x="270" y="214" width="3.5" height="3.5" fill="#54ec03"/>
<rect x="273" y="214" width="3.5" height="3.5" fill="#4eeb03"/>
<rect x="276" y="214" width="3.5" height="3.5" fill="#47eb04"/>
<rect x="279" y="214" width="3.5" height="3.5" fill="#3fea04"/>
<rect x="282" y="214" width="3.5" height="3.5" fill="#36ea05"/>
<rect x="285" y="214" width="3.5" height="3.5" fill="#2ee905"/>
<rect x="288" y="214" width="3.5" height="3.5" fill="#25e906"/>
<rect x="291" y="214" width="3.5" height="3.5" fill="#1de806"/>
<rect x="294" y="214" width="3.5" height="3.5" fill="#1ae80a"/>
<rect x="297" y="214" width="3.5" height="3.5" fill="#18e80e"/>
<rect x="300" y="214" width="3.5" height="3.5" fill="#16e813"/>
<rect x="303" y="214" width="3.5" height="3.5" fill="#13e819"/>
<rect x="306" y="214" width="3.5" height="3.5" fill="#0fe820"/>
<rect x="309" y="214" width="3.5" height="3.5" fill="#0be829"/>
<rect x="312" y="214" width="3.5" height="3.5" fill="#07e831"/>
<rect x="315" y="214" width="3.5" height="3.5" fill="#04e83e"/>
<rect x="318" y="214" width="3.5" height="3.5" fill="#04e859"/>
<rect x="321" y="214" width="3.5" height="3.5" fill="#04e874"/>
<rect x="324" y="214" width="3.5" height="3.5" fill="#04e890"/>
<rect x="327" y="214" width="3.5" height="3.5" fill="#05e8a5"/>
<rect x="330" y="214" width="3.5" height="3.5" fill="#06e8b5"/>
<rect x="333" y="214" width="3.5" height="3.5" fill="#07e8c4"/>
<rect x="336" y="214" width="3.5" height="3.5" fill="#08e8d1"/>
<rect x="339" y="214" width="3.5" height="3.5" fill="#09e8dc"/>
<rect x="342" y="214" width="3.5" height="3.5" fill="#0ae8e4"/>
<rect x="345" y="214" width="3.5" height="3.5" fill="#0ae7ea"/>
<rect x="348" y="214" width="3.5" height="3.5" fill="#0be3eb"/>
<rect x="351" y="214" width="3.5" height="3.5" fill="#0cdfec"/>
<rect x="354" y="214" width="3.5" height="3.5" fill="#0ddaed"/>
<rect x="357" y="214" width="3.5" height="3.5" fill="#0ed5ee"/>
<rect x="360" y="214" width="3.5" height="3.5" fill="#0fd0ef"/>
<rect x="363" y="214" width="3.5" height="3.5" fill="#11caf1"/>
<rect x="366" y="214" width="3.5" height="3.5" fill="#12c3f2"/>
<rect x="369" y="214" width="3.5" height="3.5" fill="#14bbf4"/>
<rect x="372" y="214" width="3.5" height="3.5" fill="#16b3f6"/>
<rect x="375" y="214" width="3.5" height="3.5" fill="#18a9f8"/>
<rect x="378" y="214" width="3.5" height="3.5" fill="#159af7"/>
<rect x="381" y="214" width="3.5" height="3.5" fill="#128cf6"/>
<rect x="384" y="214" width="3.5" height="3.5" fill="#0f80f5"/>
<rect x="387" y="214" width="3.5" height="3.5" fill="#0c76f4"/>
<rect x="138" y="217" width="9.5" height="3.5" fill="#9bf000"/>
<rect x="147" y="217" width="27.5" height="3.5" fill="#96f000"/>
<rect x="174" y="217" width="3.5" height="3.5" fill="#91f000"/>
<rect x="177" y="217" width="3.5" height="3.5" fill="#89f000"/>
<rect x="180" y="217" width="3.5" height="3.5" fill="#83ef01"/>
<rect x="183" y="217" width="3.5" height="3.5" fill="#7eef01"/>
<rect x="186" y="217" width="6.5" height="3.5" fill="#7aef01"/>
<rect x="192" y="217" width="6.5" height="3.5" fill="#74ee01"/>
<rect x="198" y="217" width="30.5" height="3.5" fill="#6eee02"/>
<rect x="228" y="217" width="6.5" height="3.5" fill="#6bed02"/>
<rect x="234" y="217" width="6.5" height="3.5" fill="#67ed02"/>
<rect x="240" y="217" width="6.5" height="3.5" fill="#61ed02"/>
<rect x="246" y="217" width="6.5" height="3.5" fill="#5cec03"/>
<rect x="252" y="217" width="6.5" height="3.5" fill="#58ec03"/>
<rect x="258" y="217" width="6.5" height="3.5" fill="#54ec03"/>
<rect x="264" y="217" width="3.5" height="3.5" fill="#50ec03"/>
<rect x="267" y="217" width="3.5" height="3.5" fill="#4ceb04"/>
<rect x="270" y="217" width="3.5" height="3.5" fill="#46eb04"/>
<rect x="273" y="217" width="3.5" height="3.5" fill="#3fea04"/>
<rect x="276" y="217" width="3.5" height="3.5" fill="#36ea05"/>
<rect x="279" y="217" width="3.5" height="3.5" fill="#2ce905"/>
<rect x="282" y="217" width="3.5" height="3.5" fill="#22e806"/>
<rect x="285" y="217" width="3.5" height="3.5" fill="#1be808"/>
<rect x="288" y="217" width="3.5" height="3.5" fill="#18e80d"/>
<rect x="291" y="217" width="3.5" height="3.5" fill="#16e813"/>
<rect x="294" y="217" width="3.5" height="3.5" fill="#14e818"/>
<rect x="297" y="217" width="3.5" height="3.5" fill="#11e81d"/>
<rect x="300" y="217" width="3.5" height="3.5" fill="#0fe822"/>
<rect x="303" y="217" width="3.5" height="3.5" fill="#0ce828"/>
<rect x="306" y="217" width="3.5" height="3.5" fill="#08e82f"/>
<rect x="309" y="217" width="3.5" height="3.5" fill="#05e836"/>
<rect x="312" y="217" width="3.5" height="3.5" fill="#04e84a"/>
<rect x="315" y="217" width="3.5" height="3.5" fill="#04e862"/>
<rect x="318" y="217" width="3.5" height="3.5" fill="#04e87b"/>
<rect x="321" y="217" width="3.5" height="3.5" fill="#04e896"/>
<rect x="324" y="217" width="3.5" height="3.5" fill="#05e8a7"/>
<rect x="327" y="217" width="3.5" height="3.5" fill="#06e8b8"/>
<rect x="330" y="217" width="3.5" height="3.5" fill="#08e8c8"/>
<rect x="333" y="217" width="3.5" height="3.5" fill="#09e8d7"/>
<rect x="336" y="217" width="3.5" height="3.5" fill="#09e8e2"/>
<rect x="339" y="217" width="3.5" height="3.5" fill="#0ae7ea"/>
<rect x="342" y="217" width="3.5" height="3.5" fill="#0be2eb"/>
<rect x="345" y="217" width="3.5" height="3.5" fill="#0cdeec"/>
<rect x="348" y="217" width="3.5" height="3.5" fill="#0ddaed"/>
<rect x="351" y="217" width="3.5" height="3.5" fill="#0ed6ee"/>
<rect x="354" y="217" width="3.5" height="3.5" fill="#0fd2ef"/>
<rect x="357" y="217" width="3.5" height="3.5" fill="#10cef0"/>
<rect x="360" y="217" width="3.5" height="3.5" fill="#11c9f1"/>
<rect x="363" y="217" width="3.5" height="3.5" fill="#12c3f2"/>
<rect x="366" y="217" width="3.5" height="3.5" fill="#13bdf3"/>
<rect x="369" y="217" width="3.5" height="3.5" fill="#15b6f5"/>
<rect x="372" y="217" width="3.5" height="3.5" fill="#17adf7"/>
<rect x="375" y="217" width="3.5" height="3.5" fill="#17a2f8"/>
<rect x="378" y="217" width="3.5" height="3.5" fill="#1393f6"/>
<rect x="381" y="217" width="3.5" height="3.5" fill="#1085f5"/>
<rect x="384" y="217" width="3.5" height="3.5" fill="#0d79f4"/>
<rect x="387" y="217" width="3.5" height="3.5" fill="#0a6df3"/>
<rect x="390" y="217" width="3.5" height="3.5" fill="#0864f3"/>
<rect x="135" y="220" width="12.5" height="3.5" fill="#93f000"/>
<rect x="147" y="220" width="15.5" height="3.5" fill="#8ff000"/>
<rect x="168" y="220" width="6.5" height="3.5" fill="#94f000"/>
<rect x="174" y="220" width="3.5" height="3.5" fill="#8cf000"/>
<rect x="177" y="220" width="3.5" height="3.5" fill="#83ef01"/>
<rect x="180" y="220" width="3.5" height="3.5" fill="#7bef01"/>
<rect x="183" y="220" width="3.5" height="3.5" fill="#75ee01"/>
<rect x="186" y="220" width="3.5" height="3.5" fill="#6fee02"/>
<rect x="189" y="220" width="6.5" height="3.5" fill="#6bed02"/>
<rect x="195" y="220" width="9.5" height="3.5" fill="#63ed02"/>
<rect x="204" y="220" width="30.5" height="3.5" fill="#63ed02"/>
<rect x="234" y="220" width="3.5" height="3.5" fill="#5cec03"/>
<rect x="237" y="220" width="6.5" height="3.5" fill="#58ec03"/>
<rect x="243" y="220" width="6.5" height="3.5" fill="#51ec03"/>
<rect x="249" y="220" width="6.5" height="3.5" fill="#4beb04"/>
<rect x="255" y="220" width="6.5" height="3.5" fill="#47eb04"/>
<rect x="261" y="220" width="6.5" height="3.5" fill="#43eb04"/>
<rect x="267" y="220" width="3.5" height="3.5" fill="#3cea04"/>
<rect x="270" y="220" width="3.5" height="3.5" fill="#36ea05"/>
<rect x="273" y="220" width="3.5" height="3.5" fill="#2de905"/>
<rect x="276" y="220" width="3.5" height="3.5" fill="#23e806"/>
<rect x="279" y="220" width="3.5" height="3.5" fill="#1be808"/>
<rect x="282" y="220" width="3.5" height="3.5" fill="#18e80e"/>
<rect x="285" y="220" width="3.5" height="3.5" fill="#15e814"/>
<rect x="288" y="220" width="3.5" height="3.5" fill="#12e81b"/>
<rect x="291" y="220" width="3.5" height="3.5" fill="#0fe821"/>
<rect x="294" y="220" width="3.5" height="3.5" fill="#0ce826"/>
<rect x="297" y="220" width="3.5" height="3.5" fill="#0ae82c"/>
<rect x="300" y="220" width="3.5" height="3.5" fill="#07e832"/>
<rect x="303" y="220" width="3.5" height="3.5" fill="#04e837"/>
<rect x="306" y="220" width="3.5" height="3.5" fill="#04e848"/>
<rect x="309" y="220" width="3.5" height="3.5" fill="#04e85b"/>
<rect x="312" y="220" width="3.5" height="3.5" fill="#04e86f"/>
<rect x="315" y="220" width="3.5" height="3.5" fill="#04e885"/>
<rect x="318" y="220" width="3.5" height="3.5" fill="#04e89b"/>
<rect x="321" y="220" width="3.5" height="3.5" fill="#05e8aa"/>
<rect x="324" y="220" width="3.5" height="3.5" fill="#06e8b9"/>
<rect x="327" y="220" width="3.5" height="3.5" fill="#08e8c9"/>
<rect x="330" y="220" width="3.5" height="3.5" fill="#09e8d8"/>
<rect x="333" y="220" width="3.5" height="3.5" fill="#0ae8e6"/>
<rect x="336" y="220" width="3.5" height="3.5" fill="#0be4eb"/>
<rect x="339" y="220" width="3.5" height="3.5" fill="#0cdfec"/>
<rect x="342" y="220" width="3.5" height="3.5" fill="#0ddaed"/>
<rect x="345" y="220" width="6.5" height="3.5" fill="#0ed6ee"/>
<rect x="351" y="220" width="3.5" height="3.5" fill="#0fcfef"/>
<rect x="354" y="220" width="3.5" height="3.5" fill="#10cbf0"/>
<rect x="357" y="220" width="3.5" height="3.5" fill="#11c7f1"/>
<rect x="360" y="220" width="3.5" height="3.5" fill="#12c3f2"/>
<rect x="363" y="220" width="3.5" height="3.5" fill="#13bef3"/>
<rect x="366" y="220" width="3.5" height="3.5" fill="#15b8f5"/>
<rect x="369" y="220" width="3.5" height="3.5" fill="#16b1f6"/>
<rect x="372" y="220" width="3.5" height="3.5" fill="#18aaf8"/>
<rect x="375" y="220" width="3.5" height="3.5" fill="#169ef7"/>
<rect x="378" y="220" width="3.5" height="3.5" fill="#1290f6"/>
<rect x="381" y="220" width="3.5" height="3.5" fill="#0f82f5"/>
<rect x="384" y="220" width="3.5" height="3.5" fill="#0c76f4"/>
<rect x="387" y="220" width="3.5" height="3.5" fill="#0a6bf3"/>
<rect x="390" y="220" width="3.5" height="3.5" fill="#0861f3"/>
<rect x="393" y="220" width="3.5" height="3.5" fill="#0558f2"/>
<rect x="396" y="220" width="3.5" height="3.5" fill="#034ff1"/>
<rect x="129" y="223" width="9.5" height="3.5" fill="#8af000"/>
<rect x="138" y="223" width="18.5" height="3.5" fill="#85ef01"/>
<rect x="174" y="223" width="3.5" height="3.5" fill="#82ef01"/>
<rect x="177" y="223" width="3.5" height="3.5" fill="#7aee01"/>
<rect x="180" y="223" width="3.5" height="3.5" fill="#72ee02"/>
<rect x="183" y="223" width="3.5" height="3.5" fill="#6aed02"/>
<rect x="186" y="223" width="3.5" height="3.5" fill="#64ed02"/>
<rect x="189" y="223" width="3.5" height="3.5" fill="#5fed03"/>
<rect x="192" y="223" width="6.5" height="3.5" fill="#5aec03"/>
<rect x="198" y="223" width="36.5" height="3.5" fill="#55ec03"/>
<rect x="234" y="223" width="3.5" height="3.5" fill="#50ec03"/>
<rect x="237" y="223" width="3.5" height="3.5" fill="#4ceb04"/>
<rect x="240" y="223" width="3.5" height="3.5" fill="#47eb04"/>
<rect x="243" y="223" width="3.5" height="3.5" fill="#43eb04"/>
<rect x="246" y="223" width="6.5" height="3.5" fill="#3eea04"/>
<rect x="252" y="223" width="6.5" height="3.5" fill="#38ea05"/>
<rect x="258" y="223" width="6.5" height="3.5" fill="#33ea05"/>
<rect x="264" y="223" width="6.5" height="3.5" fill="#2de905"/>
<rect x="270" y="223" width="3.5" height="3.5" fill="#23e806"/>
<rect x="273" y="223" width="3.5" height="3.5" fill="#1be808"/>
<rect x="276" y="223" width="3.5" height="3.5" fill="#18e80e"/>
<rect x="279" y="223" width="3.5" height="3.5" fill="#15e814"/>
<rect x="282" y="223" width="3.5" height="3.5" fill="#12e81b"/>
<rect x="285" y="223" width="3.5" height="3.5" fill="#0fe821"/>
<rect x="288" y="223" width="3.5" height="3.5" fill="#0ce828"/>
<rect x="291" y="223" width="3.5" height="3.5" fill="#08e82f"/>
<rect x="294" y="223" width="3.5" height="3.5" fill="#05e835"/>
<rect x="297" y="223" width="3.5" height="3.5" fill="#04e843"/>
<rect x="300" y="223" width="3.5" height="3.5" fill="#04e853"/>
<rect x="303" y="223" width="3.5" height="3.5" fill="#04e862"/>
<rect x="306" y="223" width="3.5" height="3.5" fill="#04e871"/>
<rect x="309" y="223" width="3.5" height="3.5" fill="#04e881"/>
<rect x="312" y="223" width="3.5" height="3.5" fill="#04e893"/>
<rect x="315" y="223" width="3.5" height="3.5" fill="#05e8a1"/>
<rect x="318" y="223" width="3.5" height="3.5" fill="#06e8ad"/>
<rect x="321" y="223" width="3.5" height="3.5" fill="#07e8bb"/>
<rect x="324" y="223" width="3.5" height="3.5" fill="#08e8c8"/>
<rect x="327" y="223" width="3.5" height="3.5" fill="#09e8d6"/>
<rect x="330" y="223" width="3.5" height="3.5" fill="#0ae8e4"/>
<rect x="333" y="223" width="3.5" height="3.5" fill="#0be4eb"/>
<rect x="336" y="223" width="3.5" height="3.5" fill="#0cddec"/>
<rect x="339" y="223" width="3.5" height="3.5" fill="#0dd8ed"/>
<rect x="342" y="223" width="3.5" height="3.5" fill="#0ed4ee"/>
<rect x="345" y="223" width="6.5" height="3.5" fill="#0fd0ef"/>
<rect x="351" y="223" width="6.5" height="3.5" fill="#11c9f1"/>
<rect x="357" y="223" width="3.5" height="3.5" fill="#12c2f2"/>
<rect x="360" y="223" width="3.5" height="3.5" fill="#13bef3"/>
<rect x="363" y="223" width="3.5" height="3.5" fill="#14b9f4"/>
<rect x="366" y="223" width="3.5" height="3.5" fill="#15b4f5"/>
<rect x="369" y="223" width="3.5" height="3.5" fill="#17aef7"/>
<rect x="372" y="223" width="3.5" height="3.5" fill="#18a8f8"/>
<rect x="375" y="223" width="3.5" height="3.5" fill="#159bf7"/>
<rect x="378" y="223" width="3.5" height="3.5" fill="#128ef6"/>
<rect x="381" y="223" width="3.5" height="3.5" fill="#0f81f5"/>
<rect x="384" y="223" width="3.5" height="3.5" fill="#0c75f4"/>
<rect x="387" y="223" width="3.5" height="3.5" fill="#0a6bf3"/>
<rect x="390" y="223" width="3.5" height="3.5" fill="#0760f2"/>
<rect x="393" y="223" width="3.5" height="3.5" fill="#0554f2"/>
<rect x="396" y="223" width="3.5" height="3.5" fill="#0249f1"/>
<rect x="399" y="223" width="3.5" height="3.5" fill="#003ff0"/>
<rect x="402" y="223" width="3.5" height="3.5" fill="#0239f0"/>
<rect x="126" y="226" width="9.5" height="3.5" fill="#7eef01"/>
<rect x="135" y="226" width="15.5" height="3.5" fill="#79ee01"/>
<rect x="177" y="226" width="3.5" height="3.5" fill="#6dee02"/>
<rect x="180" y="226" width="3.5" height="3.5" fill="#65ed02"/>
<rect x="183" y="226" width="3.5" height="3.5" fill="#5eed03"/>
<rect x="186" y="226" width="3.5" height="3.5" fill="#57ec03"/>
<rect x="189" y="226" width="3.5" height="3.5" fill="#51ec03"/>
<rect x="192" y="226" width="6.5" height="3.5" fill="#4ceb04"/>
<rect x="198" y="226" width="21.5" height="3.5" fill="#45eb04"/>
<rect x="219" y="226" width="15.5" height="3.5" fill="#4beb04"/>
<rect x="234" y="226" width="3.5" height="3.5" fill="#42eb04"/>
<rect x="237" y="226" width="3.5" height="3.5" fill="#3dea04"/>
<rect x="240" y="226" width="3.5" height="3.5" fill="#37ea05"/>
<rect x="243" y="226" width="3.5" height="3.5" fill="#32ea05"/>
<rect x="246" y="226" width="3.5" height="3.5" fill="#2de905"/>
<rect x="249" y="226" width="3.5" height="3.5" fill="#28e905"/>
<rect x="252" y="226" width="6.5" height="3.5" fill="#24e906"/>
<rect x="258" y="226" width="9.5" height="3.5" fill="#1ce807"/>
<rect x="267" y="226" width="3.5" height="3.5" fill="#1ae80b"/>
<rect x="270" y="226" width="3.5" height="3.5" fill="#18e80f"/>
<rect x="273" y="226" width="3.5" height="3.5" fill="#15e814"/>
<rect x="276" y="226" width="3.5" height="3.5" fill="#12e81a"/>
<rect x="279" y="226" width="3.5" height="3.5" fill="#0fe821"/>
<rect x="282" y="226" width="3.5" height="3.5" fill="#0ce828"/>
<rect x="285" y="226" width="3.5" height="3.5" fill="#08e82f"/>
<rect x="288" y="226" width="3.5" height="3.5" fill="#05e836"/>
<rect x="291" y="226" width="3.5" height="3.5" fill="#04e847"/>
<rect x="294" y="226" width="3.5" height="3.5" fill="#04e85b"/>
<rect x="297" y="226" width="3.5" height="3.5" fill="#04e86e"/>
<rect x="300" y="226" width="3.5" height="3.5" fill="#04e87e"/>
<rect x="303" y="226" width="3.5" height="3.5" fill="#04e88b"/>
<rect x="306" y="226" width="3.5" height="3.5" fill="#04e898"/>
<rect x="309" y="226" width="3.5" height="3.5" fill="#05e8a0"/>
<rect x="312" y="226" width="3.5" height="3.5" fill="#05e8aa"/>
<rect x="315" y="226" width="3.5" height="3.5" fill="#06e8b4"/>
<rect x="318" y="226" width="3.5" height="3.5" fill="#07e8be"/>
<rect x="321" y="226" width="3.5" height="3.5" fill="#08e8ca"/>
<rect x="324" y="226" width="3.5" height="3.5" fill="#08e8d5"/>
<rect x="327" y="226" width="3.5" height="3.5" fill="#09e8e1"/>
<rect x="330" y="226" width="3.5" height="3.5" fill="#0ae6ea"/>
<rect x="333" y="226" width="3.5" height="3.5" fill="#0cdfec"/>
<rect x="336" y="226" width="3.5" height="3.5" fill="#0dd9ed"/>
<rect x="339" y="226" width="3.5" height="3.5" fill="#0ed4ee"/>
<rect x="342" y="226" width="6.5" height="3.5" fill="#0fcfef"/>
<rect x="348" y="226" width="6.5" height="3.5" fill="#11c8f1"/>
<rect x="354" y="226" width="6.5" height="3.5" fill="#12c1f2"/>
<rect x="360" y="226" width="3.5" height="3.5" fill="#14baf4"/>
<rect x="363" y="226" width="3.5" height="3.5" fill="#15b5f5"/>
<rect x="366" y="226" width="3.5" height="3.5" fill="#16b0f6"/>
<rect x="369" y="226" width="3.5" height="3.5" fill="#17abf7"/>
<rect x="372" y="226" width="3.5" height="3.5" fill="#17a3f8"/>
<rect x="375" y="226" width="3.5" height="3.5" fill="#1498f7"/>
<rect x="378" y="226" width="3.5" height="3.5" fill="#118bf6"/>
<rect x="381" y="226" width="3.5" height="3.5" fill="#0e7ff5"/>
<rect x="384" y="226" width="3.5" height="3.5" fill="#0c73f4"/>
<rect x="387" y="226" width="3.5" height="3.5" fill="#0969f3"/>
<rect x="390" y="226" width="3.5" height="3.5" fill="#075df2"/>
<rect x="393" y="226" width="3.5" height="3.5" fill="#0450f1"/>
<rect x="396" y="226" width="3.5" height="3.5" fill="#0144f0"/>
<rect x="399" y="226" width="3.5" height="3.5" fill="#023bf0"/>
<rect x="402" y="226" width="3.5" height="3.5" fill="#0434f0"/>
<rect x="405" y="226" width="3.5" height="3.5" fill="#062ef0"/>
<rect x="120" y="229" width="9.5" height="3.5" fill="#73ee02"/>
<rect x="129" y="229" width="9.5" height="3.5" fill="#6eee02"/>
<rect x="138" y="229" width="6.5" height="3.5" fill="#6bed02"/>
<rect x="180" y="229" width="3.5" height="3.5" fill="#56ec03"/>
<rect x="183" y="229" width="3.5" height="3.5" fill="#4feb03"/>
<rect x="186" y="229" width="3.5" height="3.5" fill="#48eb04"/>
<rect x="189" y="229" width="3.5" height="3.5" fill="#42eb04"/>
<rect x="192" y="229" width="3.5" height="3.5" fill="#3dea04"/>
<rect x="195" y="229" width="6.5" height="3.5" fill="#39ea05"/>
<rect x="201" y="229" width="15.5" height="3.5" fill="#35ea05"/>
<rect x="216" y="229" width="6.5" height="3.5" fill="#39ea04"/>
<rect x="222" y="229" width="9.5" height="3.5" fill="#3eea04"/>
<rect x="231" y="229" width="3.5" height="3.5" fill="#39ea05"/>
<rect x="234" y="229" width="3.5" height="3.5" fill="#33ea05"/>
<rect x="237" y="229" width="3.5" height="3.5" fill="#2ce905"/>
<rect x="240" y="229" width="3.5" height="3.5" fill="#25e906"/>
<rect x="243" y="229" width="3.5" height="3.5" fill="#1fe806"/>
<rect x="246" y="229" width="6.5" height="3.5" fill="#1be808"/>
<rect x="252" y="229" width="6.5" height="3.5" fill="#19e80d"/>
<rect x="258" y="229" width="6.5" height="3.5" fill="#16e812"/>
<rect x="264" y="229" width="6.5" height="3.5" fill="#14e816"/>
<rect x="270" y="229" width="3.5" height="3.5" fill="#11e81d"/>
<rect x="273" y="229" width="3.5" height="3.5" fill="#0ee822"/>
<rect x="276" y="229" width="3.5" height="3.5" fill="#0ce828"/>
<rect x="279" y="229" width="3.5" height="3.5" fill="#08e82f"/>
<rect x="282" y="229" width="3.5" height="3.5" fill="#05e835"/>
<rect x="285" y="229" width="3.5" height="3.5" fill="#04e845"/>
<rect x="288" y="229" width="3.5" height="3.5" fill="#04e859"/>
<rect x="291" y="229" width="3.5" height="3.5" fill="#04e86e"/>
<rect x="294" y="229" width="3.5" height="3.5" fill="#04e882"/>
<rect x="297" y="229" width="3.5" height="3.5" fill="#04e895"/>
<rect x="300" y="229" width="3.5" height="3.5" fill="#05e8a0"/>
<rect x="303" y="229" width="3.5" height="3.5" fill="#05e8a7"/>
<rect x="306" y="229" width="3.5" height="3.5" fill="#06e8ae"/>
<rect x="309" y="229" width="3.5" height="3.5" fill="#06e8b5"/>
<rect x="312" y="229" width="3.5" height="3.5" fill="#07e8bc"/>
<rect x="315" y="229" width="3.5" height="3.5" fill="#07e8c5"/>
<rect x="318" y="229" width="3.5" height="3.5" fill="#08e8ce"/>
<rect x="321" y="229" width="3.5" height="3.5" fill="#09e8d7"/>
<rect x="324" y="229" width="3.5" height="3.5" fill="#09e8e0"/>
<rect x="327" y="229" width="3.5" height="3.5" fill="#0ae8ea"/>
<rect x="330" y="229" width="3.5" height="3.5" fill="#0be2eb"/>
<rect x="333" y="229" width="3.5" height="3.5" fill="#0ddbed"/>
<rect x="336" y="229" width="3.5" height="3.5" fill="#0ed6ee"/>
<rect x="339" y="229" width="3.5" height="3.5" fill="#0fd1ef"/>
<rect x="342" y="229" width="3.5" height="3.5" fill="#10ccf0"/>
<rect x="345" y="229" width="3.5" height="3.5" fill="#11c8f1"/>
<rect x="348" y="229" width="3.5" height="3.5" fill="#12c4f2"/>
<rect x="351" y="229" width="6.5" height="3.5" fill="#13c0f3"/>
<rect x="357" y="229" width="3.5" height="3.5" fill="#14b9f4"/>
<rect x="360" y="229" width="3.5" height="3.5" fill="#15b5f5"/>
<rect x="363" y="229" width="3.5" height="3.5" fill="#16b1f6"/>
<rect x="366" y="229" width="3.5" height="3.5" fill="#17acf7"/>
<rect x="369" y="229" width="3.5" height="3.5" fill="#18a6f8"/>
<rect x="117" y="232" width="9.5" height="3.5" fill="#65ed02"/>
<rect x="126" y="232" width="9.5" height="3.5" fill="#60ed02"/>
<rect x="135" y="232" width="6.5" height="3.5" fill="#5eed03"/>
<rect x="180" y="232" width="3.5" height="3.5" fill="#45eb04"/>
<rect x="183" y="232" width="3.5" height="3.5" fill="#3eea04"/>
<rect x="186" y="232" width="3.5" height="3.5" fill="#37ea05"/>
<rect x="189" y="232" width="3.5" height="3.5" fill="#31e905"/>
<rect x="192" y="232" width="3.5" height="3.5" fill="#2ce905"/>
<rect x="195" y="232" width="6.5" height="3.5" fill="#28e905"/>
<rect x="201" y="232" width="15.5" height="3.5" fill="#23e806"/>
<rect x="216" y="232" width="6.5" height="3.5" fill="#28e905"/>
<rect x="222" y="232" width="9.5" height="3.5" fill="#2de905"/>
<rect x="231" y="232" width="3.5" height="3.5" fill="#28e905"/>
<rect x="234" y="232" width="3.5" height="3.5" fill="#21e806"/>
<rect x="237" y="232" width="3.5" height="3.5" fill="#1be808"/>
<rect x="240" y="232" width="3.5" height="3.5" fill="#19e80c"/>
<rect x="243" y="232" width="3.5" height="3.5" fill="#17e810"/>
<rect x="246" y="232" width="6.5" height="3.5" fill="#16e814"/>
<rect x="252" y="232" width="6.5" height="3.5" fill="#13e81a"/>
<rect x="258" y="232" width="6.5" height="3.5" fill="#10e81f"/>
<rect x="264" y="232" width="6.5" height="3.5" fill="#0de825"/>
<rect x="270" y="232" width="3.5" height="3.5" fill="#0ae82c"/>
<rect x="273" y="232" width="3.5" height="3.5" fill="#07e831"/>
<rect x="276" y="232" width="3.5" height="3.5" fill="#05e837"/>
<rect x="279" y="232" width="3.5" height="3.5" fill="#04e845"/>
<rect x="282" y="232" width="3.5" height="3.5" fill="#04e857"/>
<rect x="285" y="232" width="3.5" height="3.5" fill="#04e86a"/>
<rect x="288" y="232" width="3.5" height="3.5" fill="#04e87e"/>
<rect x="291" y="232" width="3.5" height="3.5" fill="#04e892"/>
<rect x="294" y="232" width="3.5" height="3.5" fill="#05e8a0"/>
<rect x="297" y="232" width="3.5" height="3.5" fill="#05e8ab"/>
<rect x="300" y="232" width="3.5" height="3.5" fill="#06e8b4"/>
<rect x="303" y="232" width="3.5" height="3.5" fill="#07e8bb"/>
<rect x="306" y="232" width="3.5" height="3.5" fill="#07e8c1"/>
<rect x="309" y="232" width="3.5" height="3.5" fill="#07e8c7"/>
<rect x="312" y="232" width="3.5" height="3.5" fill="#08e8cd"/>
<rect x="315" y="232" width="3.5" height="3.5" fill="#08e8d4"/>
<rect x="318" y="232" width="3.5" height="3.5" fill="#09e8db"/>
<rect x="321" y="232" width="3.5" height="3.5" fill="#09e8e3"/>
<rect x="324" y="232" width="3.5" height="3.5" fill="#0ae8ea"/>
<rect x="327" y="232" width="3.5" height="3.5" fill="#0be3eb"/>
<rect x="330" y="232" width="3.5" height="3.5" fill="#0cddec"/>
<rect x="333" y="232" width="3.5" height="3.5" fill="#0dd8ed"/>
<rect x="336" y="232" width="3.5" height="3.5" fill="#0fd3ef"/>
<rect x="339" y="232" width="3.5" height="3.5" fill="#10cef0"/>
<rect x="342" y="232" width="3.5" height="3.5" fill="#11c9f1"/>
<rect x="345" y="232" width="3.5" height="3.5" fill="#12c4f2"/>
<rect x="348" y="232" width="3.5" height="3.5" fill="#13c0f3"/>
<rect x="351" y="232" width="3.5" height="3.5" fill="#14bcf4"/>
<rect x="354" y="232" width="6.5" height="3.5" fill="#14b8f4"/>
<rect x="111" y="235" width="6.5" height="3.5" fill="#5cec03"/>
<rect x="117" y="235" width="6.5" height="3.5" fill="#58ec03"/>
<rect x="123" y="235" width="9.5" height="3.5" fill="#53ec03"/>
<rect x="132" y="235" width="3.5" height="3.5" fill="#50ec03"/>
<rect x="183" y="235" width="3.5" height="3.5" fill="#2be905"/>
<rect x="186" y="235" width="3.5" height="3.5" fill="#24e906"/>
<rect x="189" y="235" width="6.5" height="3.5" fill="#1ee806"/>
<rect x="195" y="235" width="39.5" height="3.5" fill="#1ae80b"/>
<rect x="234" y="235" width="3.5" height="3.5" fill="#18e80f"/>
<rect x="237" y="235" width="3.5" height="3.5" fill="#15e814"/>
<rect x="240" y="235" width="3.5" height="3.5" fill="#13e818"/>
<rect x="243" y="235" width="3.5" height="3.5" fill="#11e81c"/>
<rect x="246" y="235" width="3.5" height="3.5" fill="#0fe820"/>
<rect x="249" y="235" width="6.5" height="3.5" fill="#0ee824"/>
<rect x="255" y="235" width="6.5" height="3.5" fill="#0be82a"/>
<rect x="261" y="235" width="3.5" height="3.5" fill="#08e830"/>
<rect x="264" y="235" width="3.5" height="3.5" fill="#06e834"/>
<rect x="267" y="235" width="3.5" height="3.5" fill="#04e838"/>
<rect x="270" y="235" width="3.5" height="3.5" fill="#04e843"/>
<rect x="273" y="235" width="3.5" height="3.5" fill="#04e84f"/>
<rect x="276" y="235" width="3.5" height="3.5" fill="#04e85d"/>
<rect x="279" y="235" width="3.5" height="3.5" fill="#04e86d"/>
<rect x="282" y="235" width="3.5" height="3.5" fill="#04e87d"/>
<rect x="285" y="235" width="3.5" height="3.5" fill="#04e88f"/>
<rect x="288" y="235" width="3.5" height="3.5" fill="#04e89d"/>
<rect x="291" y="235" width="3.5" height="3.5" fill="#05e8a9"/>
<rect x="294" y="235" width="3.5" height="3.5" fill="#06e8b3"/>
<rect x="297" y="235" width="3.5" height="3.5" fill="#07e8bd"/>
<rect x="300" y="235" width="3.5" height="3.5" fill="#07e8c5"/>
<rect x="303" y="235" width="3.5" height="3.5" fill="#08e8cc"/>
<rect x="306" y="235" width="3.5" height="3.5" fill="#08e8d2"/>
<rect x="309" y="235" width="3.5" height="3.5" fill="#09e8d7"/>
<rect x="312" y="235" width="3.5" height="3.5" fill="#09e8dd"/>
<rect x="315" y="235" width="3.5" height="3.5" fill="#09e8e2"/>
<rect x="318" y="235" width="6.5" height="3.5" fill="#0ae8e8"/>
<rect x="324" y="235" width="3.5" height="3.5" fill="#0ce1ec"/>
<rect x="327" y="235" width="3.5" height="3.5" fill="#0cddec"/>
<rect x="330" y="235" width="3.5" height="3.5" fill="#0dd9ed"/>
<rect x="333" y="235" width="3.5" height="3.5" fill="#0ed5ee"/>
<rect x="336" y="235" width="3.5" height="3.5" fill="#0fd0ef"/>
<rect x="339" y="235" width="3.5" height="3.5" fill="#11caf1"/>
<rect x="342" y="235" width="3.5" height="3.5" fill="#12c5f2"/>
<rect x="345" y="235" width="3.5" height="3.5" fill="#13c0f3"/>
<rect x="108" y="238" width="6.5" height="3.5" fill="#4fec03"/>
<rect x="114" y="238" width="6.5" height="3.5" fill="#4beb04"/>
<rect x="120" y="238" width="6.5" height="3.5" fill="#47eb04"/>
<rect x="126" y="238" width="3.5" height="3.5" fill="#43eb04"/>
<rect x="186" y="238" width="6.5" height="3.5" fill="#19e80c"/>
<rect x="192" y="238" width="6.5" height="3.5" fill="#16e812"/>
<rect x="198" y="238" width="36.5" height="3.5" fill="#14e816"/>
<rect x="234" y="238" width="3.5" height="3.5" fill="#11e81c"/>
<rect x="237" y="238" width="3.5" height="3.5" fill="#0fe821"/>
<rect x="240" y="238" width="3.5" height="3.5" fill="#0de826"/>
<rect x="243" y="238" width="3.5" height="3.5" fill="#0be82a"/>
<rect x="246" y="238" width="6.5" height="3.5" fill="#09e82e"/>
<rect x="252" y="238" width="6.5" height="3.5" fill="#06e835"/>
<rect x="258" y="238" width="3.5" height="3.5" fill="#04e842"/>
<rect x="261" y="238" width="3.5" height="3.5" fill="#04e84c"/>
<rect x="264" y="238" width="3.5" height="3.5" fill="#04e857"/>
<rect x="267" y="238" width="3.5" height="3.5" fill="#04e863"/>
<rect x="270" y="238" width="3.5" height="3.5" fill="#04e86e"/>
<rect x="273" y="238" width="3.5" height="3.5" fill="#04e879"/>
<rect x="276" y="238" width="3.5" height="3.5" fill="#04e885"/>
<rect x="279" y="238" width="3.5" height="3.5" fill="#04e893"/>
<rect x="282" y="238" width="3.5" height="3.5" fill="#04e89e"/>
<rect x="285" y="238" width="3.5" height="3.5" fill="#05e8a8"/>
<rect x="288" y="238" width="3.5" height="3.5" fill="#06e8b2"/>
<rect x="291" y="238" width="3.5" height="3.5" fill="#07e8bc"/>
<rect x="294" y="238" width="3.5" height="3.5" fill="#07e8c5"/>
<rect x="297" y="238" width="3.5" height="3.5" fill="#08e8ce"/>
<rect x="300" y="238" width="3.5" height="3.5" fill="#08e8d5"/>
<rect x="303" y="238" width="3.5" height="3.5" fill="#09e8db"/>
<rect x="306" y="238" width="3.5" height="3.5" fill="#09e8e1"/>
<rect x="309" y="238" width="3.5" height="3.5" fill="#0ae8e6"/>
<rect x="312" y="238" width="3.5" height="3.5" fill="#0ae8ea"/>
<rect x="315" y="238" width="6.5" height="3.5" fill="#0be4eb"/>
<rect x="321" y="238" width="6.5" height="3.5" fill="#0cddec"/>
<rect x="327" y="238" width="3.5" height="3.5" fill="#0ed7ee"/>
<rect x="330" y="238" width="6.5" height="3.5" fill="#0fd3ef"/>
<rect x="336" y="238" width="3.5" height="3.5" fill="#10cbf0"/>
<rect x="102" y="241" width="6.5" height="3.5" fill="#44eb04"/>
<rect x="108" y="241" width="6.5" height="3.5" fill="#3fea04"/>
<rect x="114" y="241" width="6.5" height="3.5" fill="#3bea04"/>
<rect x="120" y="241" width="3.5" height="3.5" fill="#37ea05"/>
<rect x="189" y="241" width="6.5" height="3.5" fill="#12e81a"/>
<rect x="195" y="241" width="9.5" height="3.5" fill="#0fe821"/>
<rect x="204" y="241" width="30.5" height="3.5" fill="#0fe821"/>
<rect x="234" y="241" width="3.5" height="3.5" fill="#0be82a"/>
<rect x="237" y="241" width="3.5" height="3.5" fill="#08e82f"/>
<rect x="240" y="241" width="3.5" height="3.5" fill="#06e834"/>
<rect x="243" y="241" width="3.5" height="3.5" fill="#04e838"/>
<rect x="246" y="241" width="3.5" height="3.5" fill="#04e843"/>
<rect x="249" y="241" width="3.5" height="3.5" fill="#04e84d"/>
<rect x="252" y="241" width="3.5" height="3.5" fill="#04e856"/>
<rect x="255" y="241" width="3.5" height="3.5" fill="#04e860"/>
<rect x="258" y="241" width="3.5" height="3.5" fill="#04e86a"/>
<rect x="261" y="241" width="3.5" height="3.5" fill="#04e875"/>
<rect x="264" y="241" width="3.5" height="3.5" fill="#04e880"/>
<rect x="267" y="241" width="3.5" height="3.5" fill="#04e88c"/>
<rect x="270" y="241" width="3.5" height="3.5" fill="#04e897"/>
<rect x="273" y="241" width="3.5" height="3.5" fill="#04e89d"/>
<rect x="276" y="241" width="3.5" height="3.5" fill="#05e8a4"/>
<rect x="279" y="241" width="3.5" height="3.5" fill="#05e8ab"/>
<rect x="282" y="241" width="3.5" height="3.5" fill="#06e8b3"/>
<rect x="285" y="241" width="3.5" height="3.5" fill="#07e8bc"/>
<rect x="288" y="241" width="3.5" height="3.5" fill="#07e8c4"/>
<rect x="291" y="241" width="3.5" height="3.5" fill="#08e8cd"/>
<rect x="294" y="241" width="3.5" height="3.5" fill="#09e8d6"/>
<rect x="297" y="241" width="3.5" height="3.5" fill="#09e8dd"/>
<rect x="300" y="241" width="3.5" height="3.5" fill="#0ae8e4"/>
<rect x="303" y="241" width="6.5" height="3.5" fill="#0ae8ea"/>
<rect x="309" y="241" width="6.5" height="3.5" fill="#0be1eb"/>
<rect x="315" y="241" width="6.5" height="3.5" fill="#0ddbed"/>
<rect x="321" y="241" width="6.5" height="3.5" fill="#0ed5ee"/>
<rect x="327" y="241" width="3.5" height="3.5" fill="#0fd0ef"/>
<rect x="99" y="244" width="6.5" height="3.5" fill="#37ea05"/>
<rect x="105" y="244" width="6.5" height="3.5" fill="#32ea05"/>
<rect x="111" y="244" width="6.5" height="3.5" fill="#2de905"/>
<rect x="189" y="244" width="6.5" height="3.5" fill="#0de826"/>
<rect x="195" y="244" width="9.5" height="3.5" fill="#09e82d"/>
<rect x="204" y="244" width="27.5" height="3.5" fill="#09e82e"/>
<rect x="231" y="244" width="3.5" height="3.5" fill="#06e835"/>
<rect x="234" y="244" width="3.5" height="3.5" fill="#04e83b"/>
<rect x="237" y="244" width="3.5" height="3.5" fill="#04e849"/>
<rect x="240" y="244" width="3.5" height="3.5" fill="#04e855"/>
<rect x="243" y="244" width="3.5" height="3.5" fill="#04e860"/>
<rect x="246" y="244" width="3.5" height="3.5" fill="#04e86a"/>
<rect x="249" y="244" width="3.5" height="3.5" fill="#04e874"/>
<rect x="252" y="244" width="3.5" height="3.5" fill="#04e87d"/>
<rect x="255" y="244" width="3.5" height="3.5" fill="#04e887"/>
<rect x="258" y="244" width="3.5" height="3.5" fill="#04e890"/>
<rect x="261" y="244" width="3.5" height="3.5" fill="#04e89a"/>
<rect x="264" y="244" width="3.5" height="3.5" fill="#05e8a0"/>
<rect x="267" y="244" width="3.5" height="3.5" fill="#05e8a7"/>
<rect x="270" y="244" width="3.5" height="3.5" fill="#06e8ad"/>
<rect x="273" y="244" width="3.5" height="3.5" fill="#06e8b3"/>
<rect x="276" y="244" width="3.5" height="3.5" fill="#06e8b9"/>
<rect x="279" y="244" width="3.5" height="3.5" fill="#07e8bf"/>
<rect x="282" y="244" width="3.5" height="3.5" fill="#07e8c6"/>
<rect x="285" y="244" width="3.5" height="3.5" fill="#08e8ce"/>
<rect x="288" y="244" width="3.5" height="3.5" fill="#09e8d6"/>
<rect x="291" y="244" width="3.5" height="3.5" fill="#09e8de"/>
<rect x="294" y="244" width="3.5" height="3.5" fill="#0ae8e5"/>
<rect x="297" y="244" width="3.5" height="3.5" fill="#0ae7ea"/>
<rect x="300" y="244" width="6.5" height="3.5" fill="#0be2eb"/>
<rect x="306" y="244" width="6.5" height="3.5" fill="#0ddbed"/>
<rect x="312" y="244" width="6.5" height="3.5" fill="#0ed5ee"/>
<rect x="318" y="244" width="6.5" height="3.5" fill="#0fd0ef"/>
<rect x="93" y="247" width="6.5" height="3.5" fill="#2ce905"/>
<rect x="99" y="247" width="6.5" height="3.5" fill="#27e905"/>
<rect x="105" y="247" width="6.5" height="3.5" fill="#22e806"/>
<rect x="192" y="247" width="6.5" height="3.5" fill="#06e835"/>
<rect x="198" y="247" width="3.5" height="3.5" fill="#04e83b"/>
<rect x="201" y="247" width="24.5" height="3.5" fill="#04e842"/>
<rect x="225" y="247" width="3.5" height="3.5" fill="#04e845"/>
<rect x="228" y="247" width="3.5" height="3.5" fill="#04e84c"/>
<rect x="231" y="247" width="3.5" height="3.5" fill="#04e857"/>
<rect x="234" y="247" width="3.5" height="3.5" fill="#04e864"/>
<rect x="237" y="247" width="3.5" height="3.5" fill="#04e872"/>
<rect x="240" y="247" width="3.5" height="3.5" fill="#04e87e"/>
<rect x="243" y="247" width="3.5" height="3.5" fill="#04e888"/>
<rect x="246" y="247" width="3.5" height="3.5" fill="#04e890"/>
<rect x="249" y="247" width="3.5" height="3.5" fill="#04e899"/>
<rect x="252" y="247" width="3.5" height="3.5" fill="#04e89e"/>
<rect x="255" y="247" width="3.5" height="3.5" fill="#05e8a4"/>
<rect x="258" y="247" width="3.5" height="3.5" fill="#05e8a9"/>
<rect x="261" y="247" width="3.5" height="3.5" fill="#06e8af"/>
<rect x="264" y="247" width="3.5" height="3.5" fill="#06e8b5"/>
<rect x="267" y="247" width="3.5" height="3.5" fill="#07e8bb"/>
<rect x="270" y="247" width="3.5" height="3.5" fill="#07e8c1"/>
<rect x="273" y="247" width="3.5" height="3.5" fill="#07e8c6"/>
<rect x="276" y="247" width="3.5" height="3.5" fill="#08e8cc"/>
<rect x="279" y="247" width="3.5" height="3.5" fill="#08e8d2"/>
<rect x="282" y="247" width="3.5" height="3.5" fill="#09e8d8"/>
<rect x="285" y="247" width="3.5" height="3.5" fill="#09e8df"/>
<rect x="288" y="247" width="3.5" height="3.5" fill="#0ae8e6"/>
<rect x="291" y="247" width="3.5" height="3.5" fill="#0be6eb"/>
<rect x="294" y="247" width="3.5" height="3.5" fill="#0ce1ec"/>
<rect x="297" y="247" width="3.5" height="3.5" fill="#0cddec"/>
<rect x="300" y="247" width="3.5" height="3.5" fill="#0dd9ed"/>
<rect x="303" y="247" width="6.5" height="3.5" fill="#0ed5ee"/>
<rect x="309" y="247" width="6.5" height="3.5" fill="#0fcfef"/>
<rect x="93" y="250" width="9.5" height="3.5" fill="#1be807"/>
<rect x="195" y="250" width="3.5" height="3.5" fill="#04e858"/>
<rect x="198" y="250" width="3.5" height="3.5" fill="#04e85e"/>
<rect x="201" y="250" width="24.5" height="3.5" fill="#04e866"/>
<rect x="225" y="250" width="3.5" height="3.5" fill="#04e86a"/>
<rect x="228" y="250" width="3.5" height="3.5" fill="#04e872"/>
<rect x="231" y="250" width="3.5" height="3.5" fill="#04e87c"/>
<rect x="234" y="250" width="3.5" height="3.5" fill="#04e88a"/>
<rect x="237" y="250" width="3.5" height="3.5" fill="#04e897"/>
<rect x="240" y="250" width="3.5" height="3.5" fill="#04e89f"/>
<rect x="243" y="250" width="3.5" height="3.5" fill="#05e8a4"/>
<rect x="246" y="250" width="3.5" height="3.5" fill="#05e8a9"/>
<rect x="249" y="250" width="3.5" height="3.5" fill="#06e8ae"/>
<rect x="252" y="250" width="3.5" height="3.5" fill="#06e8b3"/>
<rect x="255" y="250" width="3.5" height="3.5" fill="#06e8b8"/>
<rect x="258" y="250" width="3.5" height="3.5" fill="#07e8be"/>
<rect x="261" y="250" width="3.5" height="3.5" fill="#07e8c3"/>
<rect x="264" y="250" width="3.5" height="3.5" fill="#08e8c8"/>
<rect x="267" y="250" width="3.5" height="3.5" fill="#08e8cd"/>
<rect x="270" y="250" width="3.5" height="3.5" fill="#08e8d2"/>
<rect x="273" y="250" width="3.5" height="3.5" fill="#09e8d7"/>
<rect x="276" y="250" width="3.5" height="3.5" fill="#09e8dd"/>
<rect x="279" y="250" width="3.5" height="3.5" fill="#09e8e2"/>
<rect x="282" y="250" width="6.5" height="3.5" fill="#0ae8e8"/>
<rect x="288" y="250" width="3.5" height="3.5" fill="#0ce0ec"/>
<rect x="291" y="250" width="3.5" height="3.5" fill="#0ddbed"/>
<rect x="294" y="250" width="3.5" height="3.5" fill="#0ed7ee"/>
<rect x="297" y="250" width="3.5" height="3.5" fill="#0fd3ef"/>
<rect x="300" y="250" width="6.5" height="3.5" fill="#0fcfef"/>
<rect x="306" y="250" width="3.5" height="3.5" fill="#11c9f1"/>
<rect x="195" y="253" width="3.5" height="3.5" fill="#04e87b"/>
<rect x="198" y="253" width="3.5" height="3.5" fill="#04e881"/>
<rect x="201" y="253" width="24.5" height="3.5" fill="#04e888"/>
<rect x="225" y="253" width="3.5" height="3.5" fill="#04e88c"/>
<rect x="228" y="253" width="3.5" height="3.5" fill="#04e894"/>
<rect x="231" y="253" width="3.5" height="3.5" fill="#04e89c"/>
<rect x="234" y="253" width="3.5" height="3.5" fill="#05e8a4"/>
<rect x="237" y="253" width="3.5" height="3.5" fill="#05e8ab"/>
<rect x="240" y="253" width="3.5" height="3.5" fill="#06e8b2"/>
<rect x="243" y="253" width="3.5" height="3.5" fill="#06e8b8"/>
<rect x="246" y="253" width="3.5" height="3.5" fill="#07e8bd"/>
<rect x="249" y="253" width="3.5" height="3.5" fill="#07e8c1"/>
<rect x="252" y="253" width="3.5" height="3.5" fill="#07e8c6"/>
<rect x="255" y="253" width="3.5" height="3.5" fill="#08e8cb"/>
<rect x="258" y="253" width="3.5" height="3.5" fill="#08e8d0"/>
<rect x="261" y="253" width="3.5" height="3.5" fill="#08e8d5"/>
<rect x="264" y="253" width="3.5" height="3.5" fill="#09e8d9"/>
<rect x="267" y="253" width="3.5" height="3.5" fill="#09e8de"/>
<rect x="270" y="253" width="3.5" height="3.5" fill="#09e8e2"/>
<rect x="273" y="253" width="6.5" height="3.5" fill="#0ae8e7"/>
<rect x="279" y="253" width="3.5" height="3.5" fill="#0be3eb"/>
<rect x="282" y="253" width="3.5" height="3.5" fill="#0cdeec"/>
<rect x="285" y="253" width="3.5" height="3.5" fill="#0ddaed"/>
<rect x="288" y="253" width="3.5" height="3.5" fill="#0ed6ee"/>
<rect x="291" y="253" width="3.5" height="3.5" fill="#0fd1ef"/>
<rect x="294" y="253" width="6.5" height="3.5" fill="#10cdf0"/>
<rect x="300" y="253" width="3.5" height="3.5" fill="#11c6f1"/>
<rect x="198" y="256" width="6.5" height="3.5" fill="#05e89f"/>
<rect x="204" y="256" width="12.5" height="3.5" fill="#05e8a4"/>
<rect x="216" y="256" width="9.5" height="3.5" fill="#05e89f"/>
<rect x="225" y="256" width="3.5" height="3.5" fill="#05e8a4"/>
<rect x="228" y="256" width="3.5" height="3.5" fill="#05e8a9"/>
<rect x="231" y="256" width="3.5" height="3.5" fill="#06e8af"/>
<rect x="234" y="256" width="3.5" height="3.5" fill="#06e8b6"/>
<rect x="237" y="256" width="3.5" height="3.5" fill="#07e8bd"/>
<rect x="240" y="256" width="3.5" height="3.5" fill="#07e8c3"/>
<rect x="243" y="256" width="3.5" height="3.5" fill="#08e8c9"/>
<rect x="246" y="256" width="3.5" height="3.5" fill="#08e8ce"/>
<rect x="249" y="256" width="3.5" height="3.5" fill="#08e8d3"/>
<rect x="252" y="256" width="3.5" height="3.5" fill="#09e8d8"/>
<rect x="255" y="256" width="3.5" height="3.5" fill="#09e8dd"/>
<rect x="258" y="256" width="3.5" height="3.5" fill="#09e8e1"/>
<rect x="261" y="256" width="3.5" height="3.5" fill="#0ae8e5"/>
<rect x="264" y="256" width="6.5" height="3.5" fill="#0ae8e9"/>
<rect x="270" y="256" width="6.5" height="3.5" fill="#0be3eb"/>
<rect x="276" y="256" width="3.5" height="3.5" fill="#0cddec"/>
<rect x="279" y="256" width="3.5" height="3.5" fill="#0dd9ed"/>
<rect x="282" y="256" width="3.5" height="3.5" fill="#0ed4ee"/>
<rect x="285" y="256" width="3.5" height="3.5" fill="#0fd0ef"/>
<rect x="288" y="256" width="3.5" height="3.5" fill="#10ccf0"/>
<rect x="291" y="256" width="3.5" height="3.5" fill="#11c8f1"/>
<rect x="294" y="256" width="3.5" height="3.5" fill="#12c4f2"/>
<rect x="297" y="256" width="3.5" height="3.5" fill="#13c0f3"/>
<rect x="201" y="259" width="12.5" height="3.5" fill="#06e8b8"/>
<rect x="213" y="259" width="12.5" height="3.5" fill="#06e8b1"/>
<rect x="225" y="259" width="3.5" height="3.5" fill="#06e8b6"/>
<rect x="228" y="259" width="3.5" height="3.5" fill="#07e8ba"/>
<rect x="231" y="259" width="3.5" height="3.5" fill="#07e8c0"/>
<rect x="234" y="259" width="3.5" height="3.5" fill="#07e8c6"/>
<rect x="237" y="259" width="3.5" height="3.5" fill="#08e8cc"/>
<rect x="240" y="259" width="3.5" height="3.5" fill="#08e8d3"/>
<rect x="243" y="259" width="3.5" height="3.5" fill="#09e8d8"/>
<rect x="246" y="259" width="3.5" height="3.5" fill="#09e8dd"/>
<rect x="249" y="259" width="3.5" height="3.5" fill="#09e8e3"/>
<rect x="252" y="259" width="6.5" height="3.5" fill="#0ae8e7"/>
<rect x="258" y="259" width="6.5" height="3.5" fill="#0be3eb"/>
<rect x="264" y="259" width="6.5" height="3.5" fill="#0cdeec"/>
<rect x="270" y="259" width="6.5" height="3.5" fill="#0ddaed"/>
<rect x="276" y="259" width="3.5" height="3.5" fill="#0fd3ef"/>
<rect x="279" y="259" width="3.5" height="3.5" fill="#0fcfef"/>
<rect x="282" y="259" width="3.5" height="3.5" fill="#10cbf0"/>
<rect x="285" y="259" width="3.5" height="3.5" fill="#11c7f1"/>
<rect x="288" y="259" width="3.5" height="3.5" fill="#12c3f2"/>
<rect x="291" y="259" width="3.5" height="3.5" fill="#13bff3"/>
<rect x="201" y="262" width="9.5" height="3.5" fill="#08e8cb"/>
<rect x="210" y="262" width="6.5" height="3.5" fill="#07e8c6"/>
<rect x="216" y="262" width="9.5" height="3.5" fill="#07e8c1"/>
<rect x="225" y="262" width="3.5" height="3.5" fill="#07e8c7"/>
<rect x="228" y="262" width="3.5" height="3.5" fill="#08e8cb"/>
<rect x="231" y="262" width="3.5" height="3.5" fill="#08e8d0"/>
<rect x="234" y="262" width="3.5" height="3.5" fill="#09e8d6"/>
<rect x="237" y="262" width="3.5" height="3.5" fill="#09e8db"/>
<rect x="240" y="262" width="3.5" height="3.5" fill="#09e8e1"/>
<rect x="243" y="262" width="3.5" height="3.5" fill="#0ae8e6"/>
<rect x="246" y="262" width="3.5" height="3.5" fill="#0ae7ea"/>
<rect x="249" y="262" width="6.5" height="3.5" fill="#0be3eb"/>
<rect x="255" y="262" width="6.5" height="3.5" fill="#0ddced"/>
<rect x="261" y="262" width="6.5" height="3.5" fill="#0ed7ee"/>
<rect x="267" y="262" width="6.5" height="3.5" fill="#0fd3ef"/>
<rect x="273" y="262" width="3.5" height="3.5" fill="#10cef0"/>
<rect x="276" y="262" width="3.5" height="3.5" fill="#11caf1"/>
<rect x="279" y="262" width="3.5" height="3.5" fill="#11c6f1"/>
<rect x="282" y="262" width="3.5" height="3.5" fill="#12c2f2"/>
<rect x="285" y="262" width="3.5" height="3.5" fill="#13bdf3"/>
<rect x="204" y="265" width="6.5" height="3.5" fill="#09e8db"/>
<rect x="210" y="265" width="3.5" height="3.5" fill="#09e8d6"/>
<rect x="213" y="265" width="12.5" height="3.5" fill="#08e8d0"/>
<rect x="225" y="265" width="3.5" height="3.5" fill="#09e8d7"/>
<rect x="228" y="265" width="3.5" height="3.5" fill="#09e8dc"/>
<rect x="231" y="265" width="3.5" height="3.5" fill="#09e8e0"/>
<rect x="234" y="265" width="3.5" height="3.5" fill="#0ae8e4"/>
<rect x="237" y="265" width="6.5" height="3.5" fill="#0ae8e9"/>
<rect x="243" y="265" width="3.5" height="3.5" fill="#0ce1ec"/>
<rect x="246" y="265" width="6.5" height="3.5" fill="#0cddec"/>
<rect x="252" y="265" width="6.5" height="3.5" fill="#0ed6ee"/>
<rect x="258" y="265" width="6.5" height="3.5" fill="#0fd0ef"/>
<rect x="264" y="265" width="6.5" height="3.5" fill="#10cbf0"/>
<rect x="270" y="265" width="6.5" height="3.5" fill="#11c7f1"/>
<rect x="276" y="265" width="3.5" height="3.5" fill="#12c1f2"/>
<rect x="279" y="265" width="3.5" height="3.5" fill="#13bdf3"/>
<rect x="282" y="265" width="3.5" height="3.5" fill="#14b9f4"/>
<rect x="207" y="268" width="6.5" height="3.5" fill="#0ae8ea"/>
<rect x="213" y="268" width="12.5" height="3.5" fill="#09e8e1"/>
<rect x="225" y="268" width="6.5" height="3.5" fill="#0ae8e9"/>
<rect x="231" y="268" width="6.5" height="3.5" fill="#0be4eb"/>
<rect x="237" y="268" width="3.5" height="3.5" fill="#0cdfec"/>
<rect x="240" y="268" width="6.5" height="3.5" fill="#0ddbed"/>
<rect x="246" y="268" width="3.5" height="3.5" fill="#0ed4ee"/>
<rect x="249" y="268" width="6.5" height="3.5" fill="#0fd0ef"/>
<rect x="255" y="268" width="6.5" height="3.5" fill="#11c9f1"/>
<rect x="261" y="268" width="6.5" height="3.5" fill="#12c4f2"/>
<rect x="267" y="268" width="6.5" height="3.5" fill="#13c0f3"/>
<rect x="273" y="268" width="3.5" height="3.5" fill="#14bbf4"/>
<rect x="276" y="268" width="3.5" height="3.5" fill="#15b7f5"/>
<rect x="210" y="271" width="21.5" height="3.5" fill="#0cdfec"/>
<rect x="231" y="271" width="6.5" height="3.5" fill="#0dd9ed"/>
<rect x="237" y="271" width="6.5" height="3.5" fill="#0ed5ee"/>
<rect x="243" y="271" width="3.5" height="3.5" fill="#10cff0"/>
<rect x="246" y="271" width="3.5" height="3.5" fill="#10cbf0"/>
<rect x="249" y="271" width="3.5" height="3.5" fill="#11c7f1"/>
<rect x="252" y="271" width="6.5" height="3.5" fill="#12c3f2"/>
<rect x="258" y="271" width="6.5" height="3.5" fill="#13bdf3"/>
<rect x="264" y="271" width="6.5" height="3.5" fill="#15b8f5"/>
<rect x="270" y="271" width="6.5" height="3.5" fill="#16b3f6"/>
<rect x="213" y="274" width="27.5" height="3.5" fill="#10ccf0"/>
<rect x="240" y="274" width="6.5" height="3.5" fill="#11c9f1"/>
<rect x="246" y="274" width="3.5" height="3.5" fill="#12c2f2"/>
<rect x="249" y="274" width="3.5" height="3.5" fill="#13bef3"/>
<rect x="252" y="274" width="3.5" height="3.5" fill="#14baf4"/>
<rect x="255" y="274" width="6.5" height="3.5" fill="#15b6f5"/>
<rect x="261" y="274" width="6.5" height="3.5" fill="#16b0f6"/>
<rect x="267" y="274" width="6.5" height="3.5" fill="#17abf7"/>
<rect x="216" y="277" width="15.5" height="3.5" fill="#14bcf4"/>
<rect x="231" y="277" width="9.5" height="3.5" fill="#12c5f2"/>
<rect x="240" y="277" width="3.5" height="3.5" fill="#13c0f3"/>
<rect x="243" y="277" width="3.5" height="3.5" fill="#14bcf4"/>
<rect x="246" y="277" width="3.5" height="3.5" fill="#15b8f5"/>
<rect x="249" y="277" width="3.5" height="3.5" fill="#15b4f5"/>
<rect x="252" y="277" width="3.5" height="3.5" fill="#16b0f6"/>
<rect x="255" y="277" width="6.5" height="3.5" fill="#17acf7"/>
<rect x="261" y="277" width="3.5" height="3.5" fill="#17a4f8"/>
<rect x="264" y="277" width="3.5" height="3.5" fill="#169ff7"/>
<rect x="219" y="280" width="9.5" height="3.5" fill="#17acf7"/>
<rect x="228" y="280" width="3.5" height="3.5" fill="#15b6f5"/>
<rect x="231" y="280" width="9.5" height="3.5" fill="#14bcf4"/>
<rect x="240" y="280" width="3.5" height="3.5" fill="#15b6f5"/>
<rect x="243" y="280" width="3.5" height="3.5" fill="#16b2f6"/>
<rect x="246" y="280" width="3.5" height="3.5" fill="#17aef7"/>
<rect x="249" y="280" width="3.5" height="3.5" fill="#18a9f8"/>
<rect x="252" y="280" width="3.5" height="3.5" fill="#17a3f8"/>
<rect x="255" y="280" width="3.5" height="3.5" fill="#159cf7"/>
<rect x="258" y="280" width="3.5" height="3.5" fill="#1496f7"/>
<rect x="261" y="280" width="3.5" height="3.5" fill="#1290f6"/>
<rect x="222" y="283" width="3.5" height="3.5" fill="#1599f7"/>
<rect x="225" y="283" width="3.5" height="3.5" fill="#17a2f8"/>
<rect x="228" y="283" width="3.5" height="3.5" fill="#17adf7"/>
<rect x="231" y="283" width="9.5" height="3.5" fill="#16b3f6"/>
<rect x="240" y="283" width="3.5" height="3.5" fill="#17acf7"/>
<rect x="243" y="283" width="3.5" height="3.5" fill="#18a6f8"/>
<rect x="246" y="283" width="3.5" height="3.5" fill="#169ef7"/>
<rect x="249" y="283" width="3.5" height="3.5" fill="#1496f7"/>
<rect x="252" y="283" width="3.5" height="3.5" fill="#128ef6"/>
<rect x="255" y="283" width="3.5" height="3.5" fill="#1087f5"/>
<rect x="258" y="283" width="3.5" height="3.5" fill="#0f81f5"/>
<rect x="228" y="286" width="3.5" height="3.5" fill="#169ef7"/>
<rect x="231" y="286" width="6.5" height="3.5" fill="#18a7f8"/>
<rect x="237" y="286" width="3.5" height="3.5" fill="#16a1f7"/>
<rect x="240" y="286" width="3.5" height="3.5" fill="#1599f7"/>
<rect x="243" y="286" width="3.5" height="3.5" fill="#1290f6"/>
<rect x="246" y="286" width="3.5" height="3.5" fill="#1087f5"/>
<rect x="249" y="286" width="3.5" height="3.5" fill="#0f7ff5"/>
<rect x="252" y="286" width="3.5" height="3.5" fill="#0d78f4"/>
<rect x="255" y="286" width="3.5" height="3.5" fill="#0b72f4"/>
<rect x="231" y="289" width="6.5" height="3.5" fill="#128ef6"/>
<rect x="237" y="289" width="3.5" height="3.5" fill="#1188f6"/>
<rect x="240" y="289" width="3.5" height="3.5" fill="#0f80f5"/>
<rect x="243" y="289" width="3.5" height="3.5" fill="#0d78f4"/>
<rect x="246" y="289" width="3.5" height="3.5" fill="#0b6ff4"/>
<rect x="249" y="289" width="3.5" height="3.5" fill="#0968f3"/>
<rect x="252" y="289" width="3.5" height="3.5" fill="#0861f3"/>
<rect x="234" y="292" width="3.5" height="3.5" fill="#0b72f4"/>
<rect x="237" y="292" width="3.5" height="3.5" fill="#0a6df3"/>
<rect x="240" y="292" width="3.5" height="3.5" fill="#0966f3"/>
<rect x="243" y="292" width="3.5" height="3.5" fill="#075ef2"/>
<rect x="246" y="292" width="3.5" height="3.5" fill="#0556f2"/>
<rect x="249" y="292" width="3.5" height="3.5" fill="#044ff1"/>
<rect x="240" y="295" width="3.5" height="3.5" fill="#024bf1"/>
<rect x="243" y="295" width="3.5" height="3.5" fill="#0143f0"/>
<rect x="246" y="295" width="6.5" height="3.5" fill="#013df0"/>
<rect x="243" y="298" width="3.5" height="3.5" fill="#0532f0"/>
<rect x="246" y="298" width="3.5" height="3.5" fill="#062ef0"/>
</g>
<polygon points="90.0,250.0 122.5,230.0 142.5,218.0 160.0,211.0 170.0,205.0 183.0,196.0 190.0,190.0 196.0,186.0 204.0,196.0 186.0,214.0 176.0,221.0 165.0,220.0 160.0,221.0 147.5,228.0 130.0,239.0 100.0,256.0" fill="url(#gWing)" filter="url(#bl1_5)"/>
<polygon points="372,200 410,222 410,234 378,232" fill="#1888f0" filter="url(#bl5)"/>
<polygon points="388,214 412,226 396,231" fill="#2078ee" filter="url(#bl3)"/>
</g>
<g id="upper" clip-path="url(#cUp)">
<g filter="url(#bl2)">
<rect x="257" y="28" width="6.5" height="3.5" fill="#6d0a0a"/>
<rect x="263" y="28" width="3.5" height="3.5" fill="#710a0a"/>
<rect x="248" y="31" width="6.5" height="3.5" fill="#730909"/>
<rect x="254" y="31" width="6.5" height="3.5" fill="#790909"/>
<rect x="260" y="31" width="6.5" height="3.5" fill="#7d0909"/>
<rect x="266" y="31" width="3.5" height="3.5" fill="#830909"/>
<rect x="233" y="34" width="6.5" height="3.5" fill="#720a0a"/>
<rect x="239" y="34" width="6.5" height="3.5" fill="#770909"/>
<rect x="245" y="34" width="3.5" height="3.5" fill="#7d0909"/>
<rect x="248" y="34" width="6.5" height="3.5" fill="#810909"/>
<rect x="254" y="34" width="6.5" height="3.5" fill="#870808"/>
<rect x="260" y="34" width="6.5" height="3.5" fill="#8d0808"/>
<rect x="266" y="34" width="6.5" height="3.5" fill="#920808"/>
<rect x="218" y="37" width="6.5" height="3.5" fill="#740909"/>
<rect x="224" y="37" width="6.5" height="3.5" fill="#780909"/>
<rect x="230" y="37" width="6.5" height="3.5" fill="#7c0909"/>
<rect x="236" y="37" width="6.5" height="3.5" fill="#810909"/>
<rect x="242" y="37" width="3.5" height="3.5" fill="#870808"/>
<rect x="245" y="37" width="6.5" height="3.5" fill="#8b0808"/>
<rect x="251" y="37" width="6.5" height="3.5" fill="#920808"/>
<rect x="257" y="37" width="6.5" height="3.5" fill="#990707"/>
<rect x="263" y="37" width="6.5" height="3.5" fill="#9f0707"/>
<rect x="269" y="37" width="6.5" height="3.5" fill="#a40707"/>
<rect x="203" y="40" width="6.5" height="3.5" fill="#740909"/>
<rect x="209" y="40" width="6.5" height="3.5" fill="#790909"/>
<rect x="215" y="40" width="6.5" height="3.5" fill="#7e0909"/>
<rect x="221" y="40" width="6.5" height="3.5" fill="#820909"/>
<rect x="227" y="40" width="6.5" height="3.5" fill="#870808"/>
<rect x="233" y="40" width="6.5" height="3.5" fill="#8b0808"/>
<rect x="239" y="40" width="3.5" height="3.5" fill="#900808"/>
<rect x="242" y="40" width="6.5" height="3.5" fill="#940808"/>
<rect x="248" y="40" width="3.5" height="3.5" fill="#9b0707"/>
<rect x="251" y="40" width="3.5" height="3.5" fill="#9f0707"/>
<rect x="254" y="40" width="3.5" height="3.5" fill="#a30707"/>
<rect x="257" y="40" width="3.5" height="3.5" fill="#a70707"/>
<rect x="260" y="40" width="6.5" height="3.5" fill="#ab0606"/>
<rect x="266" y="40" width="9.5" height="3.5" fill="#b10606"/>
<rect x="188" y="43" width="6.5" height="3.5" fill="#750909"/>
<rect x="194" y="43" width="6.5" height="3.5" fill="#790909"/>
<rect x="200" y="43" width="6.5" height="3.5" fill="#7e0909"/>
<rect x="206" y="43" width="6.5" height="3.5" fill="#830909"/>
<rect x="212" y="43" width="6.5" height="3.5" fill="#880808"/>
<rect x="218" y="43" width="6.5" height="3.5" fill="#8c0808"/>
<rect x="224" y="43" width="6.5" height="3.5" fill="#910808"/>
<rect x="230" y="43" width="6.5" height="3.5" fill="#950808"/>
<rect x="236" y="43" width="6.5" height="3.5" fill="#9a0707"/>
<rect x="242" y="43" width="3.5" height="3.5" fill="#a00707"/>
<rect x="245" y="43" width="6.5" height="3.5" fill="#a40707"/>
<rect x="251" y="43" width="3.5" height="3.5" fill="#ac0606"/>
<rect x="254" y="43" width="6.5" height="3.5" fill="#b00606"/>
<rect x="260" y="43" width="6.5" height="3.5" fill="#b60707"/>
<rect x="266" y="43" width="12.5" height="3.5" fill="#bc0708"/>
<rect x="173" y="46" width="6.5" height="3.5" fill="#760909"/>
<rect x="179" y="46" width="6.5" height="3.5" fill="#7b0909"/>
<rect x="185" y="46" width="6.5" height="3.5" fill="#800909"/>
<rect x="191" y="46" width="6.5" height="3.5" fill="#840909"/>
<rect x="197" y="46" width="6.5" height="3.5" fill="#880808"/>
<rect x="203" y="46" width="6.5" height="3.5" fill="#8d0808"/>
<rect x="209" y="46" width="6.5" height="3.5" fill="#920808"/>
<rect x="215" y="46" width="6.5" height="3.5" fill="#960707"/>
<rect x="221" y="46" width="6.5" height="3.5" fill="#9a0707"/>
<rect x="227" y="46" width="6.5" height="3.5" fill="#9f0707"/>
<rect x="233" y="46" width="6.5" height="3.5" fill="#a30707"/>
<rect x="239" y="46" width="6.5" height="3.5" fill="#a80606"/>
<rect x="245" y="46" width="6.5" height="3.5" fill="#af0606"/>
<rect x="251" y="46" width="6.5" height="3.5" fill="#b60707"/>
<rect x="257" y="46" width="6.5" height="3.5" fill="#bd0708"/>
<rect x="263" y="46" width="9.5" height="3.5" fill="#c40809"/>
<rect x="272" y="46" width="9.5" height="3.5" fill="#c60809"/>
<rect x="413" y="46" width="3.5" height="3.5" fill="#9c0707"/>
<rect x="158" y="49" width="6.5" height="3.5" fill="#750909"/>
<rect x="164" y="49" width="6.5" height="3.5" fill="#7a0909"/>
<rect x="170" y="49" width="6.5" height="3.5" fill="#800909"/>
<rect x="176" y="49" width="6.5" height="3.5" fill="#850808"/>
<rect x="182" y="49" width="6.5" height="3.5" fill="#8a0808"/>
<rect x="188" y="49" width="6.5" height="3.5" fill="#8f0808"/>
<rect x="194" y="49" width="6.5" height="3.5" fill="#930808"/>
<rect x="200" y="49" width="6.5" height="3.5" fill="#980707"/>
<rect x="206" y="49" width="6.5" height="3.5" fill="#9c0707"/>
<rect x="212" y="49" width="6.5" height="3.5" fill="#a00707"/>
<rect x="218" y="49" width="6.5" height="3.5" fill="#a40707"/>
<rect x="224" y="49" width="6.5" height="3.5" fill="#a80606"/>
<rect x="230" y="49" width="6.5" height="3.5" fill="#ac0606"/>
<rect x="236" y="49" width="6.5" height="3.5" fill="#b00606"/>
<rect x="242" y="49" width="6.5" height="3.5" fill="#b50607"/>
<rect x="248" y="49" width="6.5" height="3.5" fill="#bb0708"/>
<rect x="254" y="49" width="6.5" height="3.5" fill="#c20808"/>
<rect x="260" y="49" width="6.5" height="3.5" fill="#c80809"/>
<rect x="266" y="49" width="15.5" height="3.5" fill="#cf090a"/>
<rect x="404" y="49" width="12.5" height="3.5" fill="#a40707"/>
<rect x="143" y="52" width="6.5" height="3.5" fill="#750909"/>
<rect x="149" y="52" width="6.5" height="3.5" fill="#7a0909"/>
<rect x="155" y="52" width="6.5" height="3.5" fill="#7f0909"/>
<rect x="161" y="52" width="6.5" height="3.5" fill="#840909"/>
<rect x="167" y="52" width="6.5" height="3.5" fill="#8a0808"/>
<rect x="173" y="52" width="6.5" height="3.5" fill="#8f0808"/>
<rect x="179" y="52" width="6.5" height="3.5" fill="#940808"/>
<rect x="185" y="52" width="6.5" height="3.5" fill="#990707"/>
<rect x="191" y="52" width="6.5" height="3.5" fill="#9e0707"/>
<rect x="197" y="52" width="6.5" height="3.5" fill="#a20707"/>
<rect x="203" y="52" width="6.5" height="3.5" fill="#a60707"/>
<rect x="209" y="52" width="9.5" height="3.5" fill="#ab0606"/>
<rect x="218" y="52" width="9.5" height="3.5" fill="#b00606"/>
<rect x="227" y="52" width="9.5" height="3.5" fill="#b50607"/>
<rect x="236" y="52" width="6.5" height="3.5" fill="#b80707"/>
<rect x="242" y="52" width="6.5" height="3.5" fill="#bd0708"/>
<rect x="248" y="52" width="6.5" height="3.5" fill="#c30809"/>
<rect x="254" y="52" width="3.5" height="3.5" fill="#c90809"/>
<rect x="257" y="52" width="6.5" height="3.5" fill="#cd090a"/>
<rect x="263" y="52" width="6.5" height="3.5" fill="#d2090b"/>
<rect x="269" y="52" width="15.5" height="3.5" fill="#d6090b"/>
<rect x="395" y="52" width="18.5" height="3.5" fill="#ac0606"/>
<rect x="125" y="55" width="6.5" height="3.5" fill="#760909"/>
<rect x="131" y="55" width="6.5" height="3.5" fill="#7a0909"/>
<rect x="137" y="55" width="6.5" height="3.5" fill="#7e0909"/>
<rect x="143" y="55" width="6.5" height="3.5" fill="#820909"/>
<rect x="149" y="55" width="6.5" height="3.5" fill="#870808"/>
<rect x="155" y="55" width="6.5" height="3.5" fill="#8b0808"/>
<rect x="161" y="55" width="6.5" height="3.5" fill="#910808"/>
<rect x="167" y="55" width="6.5" height="3.5" fill="#960707"/>
<rect x="173" y="55" width="6.5" height="3.5" fill="#9c0707"/>
<rect x="179" y="55" width="6.5" height="3.5" fill="#a10707"/>
<rect x="185" y="55" width="6.5" height="3.5" fill="#a60707"/>
<rect x="191" y="55" width="6.5" height="3.5" fill="#ab0606"/>
<rect x="197" y="55" width="9.5" height="3.5" fill="#b00606"/>
<rect x="206" y="55" width="12.5" height="3.5" fill="#b40607"/>
<rect x="218" y="55" width="9.5" height="3.5" fill="#b80707"/>
<rect x="227" y="55" width="9.5" height="3.5" fill="#bc0708"/>
<rect x="236" y="55" width="6.5" height="3.5" fill="#bf0708"/>
<rect x="242" y="55" width="6.5" height="3.5" fill="#c40809"/>
<rect x="248" y="55" width="6.5" height="3.5" fill="#ca080a"/>
<rect x="254" y="55" width="6.5" height="3.5" fill="#d0090a"/>
<rect x="260" y="55" width="6.5" height="3.5" fill="#d6090b"/>
<rect x="266" y="55" width="18.5" height="3.5" fill="#dd0a0c"/>
<rect x="386" y="55" width="24.5" height="3.5" fill="#b30606"/>
<rect x="101" y="58" width="12.5" height="3.5" fill="#770909"/>
<rect x="113" y="58" width="9.5" height="3.5" fill="#7c0909"/>
<rect x="122" y="58" width="6.5" height="3.5" fill="#800909"/>
<rect x="128" y="58" width="6.5" height="3.5" fill="#850808"/>
<rect x="134" y="58" width="6.5" height="3.5" fill="#890808"/>
<rect x="140" y="58" width="6.5" height="3.5" fill="#8d0808"/>
<rect x="146" y="58" width="6.5" height="3.5" fill="#910808"/>
<rect x="152" y="58" width="6.5" height="3.5" fill="#960707"/>
<rect x="158" y="58" width="6.5" height="3.5" fill="#9b0707"/>
<rect x="164" y="58" width="6.5" height="3.5" fill="#a00707"/>
<rect x="170" y="58" width="6.5" height="3.5" fill="#a50707"/>
<rect x="176" y="58" width="6.5" height="3.5" fill="#aa0606"/>
<rect x="182" y="58" width="6.5" height="3.5" fill="#af0606"/>
<rect x="188" y="58" width="6.5" height="3.5" fill="#b30606"/>
<rect x="194" y="58" width="9.5" height="3.5" fill="#b80707"/>
<rect x="203" y="58" width="15.5" height="3.5" fill="#bd0708"/>
<rect x="218" y="58" width="12.5" height="3.5" fill="#c00708"/>
<rect x="230" y="58" width="9.5" height="3.5" fill="#c40809"/>
<rect x="239" y="58" width="6.5" height="3.5" fill="#c90809"/>
<rect x="245" y="58" width="6.5" height="3.5" fill="#ce090a"/>
<rect x="251" y="58" width="6.5" height="3.5" fill="#d4090b"/>
<rect x="257" y="58" width="6.5" height="3.5" fill="#d90a0c"/>
<rect x="263" y="58" width="24.5" height="3.5" fill="#df0a0c"/>
<rect x="371" y="58" width="36.5" height="3.5" fill="#b90707"/>
<rect x="86" y="61" width="9.5" height="3.5" fill="#7c0909"/>
<rect x="95" y="61" width="9.5" height="3.5" fill="#800909"/>
<rect x="104" y="61" width="9.5" height="3.5" fill="#840909"/>
<rect x="113" y="61" width="6.5" height="3.5" fill="#870808"/>
<rect x="119" y="61" width="6.5" height="3.5" fill="#8b0808"/>
<rect x="125" y="61" width="6.5" height="3.5" fill="#900808"/>
<rect x="131" y="61" width="9.5" height="3.5" fill="#970707"/>
<rect x="140" y="61" width="6.5" height="3.5" fill="#9a0707"/>
<rect x="146" y="61" width="6.5" height="3.5" fill="#9e0707"/>
<rect x="152" y="61" width="6.5" height="3.5" fill="#a30707"/>
<rect x="158" y="61" width="6.5" height="3.5" fill="#a70606"/>
<rect x="164" y="61" width="6.5" height="3.5" fill="#ac0606"/>
<rect x="170" y="61" width="6.5" height="3.5" fill="#b10606"/>
<rect x="176" y="61" width="6.5" height="3.5" fill="#b50607"/>
<rect x="182" y="61" width="9.5" height="3.5" fill="#ba0707"/>
<rect x="191" y="61" width="9.5" height="3.5" fill="#c00708"/>
<rect x="200" y="61" width="12.5" height="3.5" fill="#c30809"/>
<rect x="212" y="61" width="18.5" height="3.5" fill="#c70809"/>
<rect x="230" y="61" width="9.5" height="3.5" fill="#cb080a"/>
<rect x="239" y="61" width="6.5" height="3.5" fill="#d0090a"/>
<rect x="245" y="61" width="6.5" height="3.5" fill="#d5090b"/>
<rect x="251" y="61" width="9.5" height="3.5" fill="#dc0a0c"/>
<rect x="260" y="61" width="30.5" height="3.5" fill="#e10a0c"/>
<rect x="362" y="61" width="42.5" height="3.5" fill="#c00708"/>
<rect x="86" y="64" width="6.5" height="3.5" fill="#840808"/>
<rect x="92" y="64" width="6.5" height="3.5" fill="#880808"/>
<rect x="98" y="64" width="9.5" height="3.5" fill="#8d0808"/>
<rect x="107" y="64" width="6.5" height="3.5" fill="#900808"/>
<rect x="113" y="64" width="6.5" height="3.5" fill="#940808"/>
<rect x="119" y="64" width="6.5" height="3.5" fill="#980707"/>
<rect x="125" y="64" width="6.5" height="3.5" fill="#9e0707"/>
<rect x="131" y="64" width="6.5" height="3.5" fill="#a20707"/>
<rect x="137" y="64" width="9.5" height="3.5" fill="#a70606"/>
<rect x="146" y="64" width="6.5" height="3.5" fill="#ab0606"/>
<rect x="152" y="64" width="6.5" height="3.5" fill="#af0606"/>
<rect x="158" y="64" width="6.5" height="3.5" fill="#b30606"/>
<rect x="164" y="64" width="9.5" height="3.5" fill="#b80707"/>
<rect x="173" y="64" width="6.5" height="3.5" fill="#bc0708"/>
<rect x="179" y="64" width="9.5" height="3.5" fill="#c10808"/>
<rect x="188" y="64" width="9.5" height="3.5" fill="#c70809"/>
<rect x="197" y="64" width="12.5" height="3.5" fill="#cb080a"/>
<rect x="209" y="64" width="18.5" height="3.5" fill="#ce090a"/>
<rect x="227" y="64" width="12.5" height="3.5" fill="#d2090b"/>
<rect x="239" y="64" width="6.5" height="3.5" fill="#d6090b"/>
<rect x="245" y="64" width="9.5" height="3.5" fill="#dc0a0c"/>
<rect x="254" y="64" width="15.5" height="3.5" fill="#e10a0c"/>
<rect x="269" y="64" width="21.5" height="3.5" fill="#e30a0c"/>
<rect x="353" y="64" width="48.5" height="3.5" fill="#c60809"/>
<rect x="89" y="67" width="6.5" height="3.5" fill="#910808"/>
<rect x="95" y="67" width="6.5" height="3.5" fill="#950808"/>
<rect x="101" y="67" width="9.5" height="3.5" fill="#9b0707"/>
<rect x="110" y="67" width="6.5" height="3.5" fill="#9e0707"/>
<rect x="116" y="67" width="6.5" height="3.5" fill="#a30707"/>
<rect x="122" y="67" width="6.5" height="3.5" fill="#a80606"/>
<rect x="128" y="67" width="6.5" height="3.5" fill="#ad0606"/>
<rect x="134" y="67" width="9.5" height="3.5" fill="#b20606"/>
<rect x="143" y="67" width="9.5" height="3.5" fill="#b60707"/>
<rect x="152" y="67" width="9.5" height="3.5" fill="#bb0707"/>
<rect x="161" y="67" width="6.5" height="3.5" fill="#be0708"/>
<rect x="167" y="67" width="9.5" height="3.5" fill="#c30809"/>
<rect x="176" y="67" width="9.5" height="3.5" fill="#c80809"/>
<rect x="185" y="67" width="9.5" height="3.5" fill="#cd090a"/>
<rect x="194" y="67" width="12.5" height="3.5" fill="#d1090b"/>
<rect x="206" y="67" width="21.5" height="3.5" fill="#d5090b"/>
<rect x="227" y="67" width="9.5" height="3.5" fill="#d90a0c"/>
<rect x="236" y="67" width="15.5" height="3.5" fill="#dd0a0c"/>
<rect x="251" y="67" width="15.5" height="3.5" fill="#e20a0c"/>
<rect x="266" y="67" width="27.5" height="3.5" fill="#e50a0c"/>
<rect x="341" y="67" width="21.5" height="3.5" fill="#ce090a"/>
<rect x="362" y="67" width="36.5" height="3.5" fill="#cb080a"/>
<rect x="92" y="70" width="6.5" height="3.5" fill="#9e0707"/>
<rect x="98" y="70" width="6.5" height="3.5" fill="#a20707"/>
<rect x="104" y="70" width="6.5" height="3.5" fill="#a60707"/>
<rect x="110" y="70" width="6.5" height="3.5" fill="#aa0606"/>
<rect x="116" y="70" width="6.5" height="3.5" fill="#af0606"/>
<rect x="122" y="70" width="6.5" height="3.5" fill="#b40607"/>
<rect x="128" y="70" width="9.5" height="3.5" fill="#ba0707"/>
<rect x="137" y="70" width="9.5" height="3.5" fill="#bd0708"/>
<rect x="146" y="70" width="9.5" height="3.5" fill="#c10808"/>
<rect x="155" y="70" width="9.5" height="3.5" fill="#c50809"/>
<rect x="164" y="70" width="9.5" height="3.5" fill="#ca080a"/>
<rect x="173" y="70" width="9.5" height="3.5" fill="#ce090a"/>
<rect x="182" y="70" width="9.5" height="3.5" fill="#d3090b"/>
<rect x="191" y="70" width="12.5" height="3.5" fill="#d70a0b"/>
<rect x="203" y="70" width="27.5" height="3.5" fill="#dc0a0c"/>
<rect x="230" y="70" width="18.5" height="3.5" fill="#df0a0c"/>
<rect x="248" y="70" width="24.5" height="3.5" fill="#e30a0c"/>
<rect x="272" y="70" width="21.5" height="3.5" fill="#e60a0c"/>
<rect x="332" y="70" width="24.5" height="3.5" fill="#d5090b"/>
<rect x="356" y="70" width="39.5" height="3.5" fill="#d1090a"/>
<rect x="92" y="73" width="6.5" height="3.5" fill="#a80606"/>
<rect x="98" y="73" width="6.5" height="3.5" fill="#ad0606"/>
<rect x="104" y="73" width="6.5" height="3.5" fill="#b10606"/>
<rect x="110" y="73" width="6.5" height="3.5" fill="#b50607"/>
<rect x="116" y="73" width="6.5" height="3.5" fill="#b90707"/>
<rect x="122" y="73" width="6.5" height="3.5" fill="#bd0708"/>
<rect x="128" y="73" width="9.5" height="3.5" fill="#c30809"/>
<rect x="137" y="73" width="12.5" height="3.5" fill="#c60809"/>
<rect x="149" y="73" width="9.5" height="3.5" fill="#cb080a"/>
<rect x="158" y="73" width="9.5" height="3.5" fill="#d0090a"/>
<rect x="167" y="73" width="9.5" height="3.5" fill="#d3090b"/>
<rect x="176" y="73" width="9.5" height="3.5" fill="#d70a0b"/>
<rect x="185" y="73" width="15.5" height="3.5" fill="#dc0a0c"/>
<rect x="200" y="73" width="33.5" height="3.5" fill="#df0a0c"/>
<rect x="233" y="73" width="36.5" height="3.5" fill="#e40a0c"/>
<rect x="269" y="73" width="27.5" height="3.5" fill="#e70a0c"/>
<rect x="320" y="73" width="24.5" height="3.5" fill="#dc0a0c"/>
<rect x="344" y="73" width="48.5" height="3.5" fill="#d70a0b"/>
<rect x="95" y="76" width="9.5" height="3.5" fill="#b60707"/>
<rect x="104" y="76" width="6.5" height="3.5" fill="#b90707"/>
<rect x="110" y="76" width="6.5" height="3.5" fill="#bd0708"/>
<rect x="116" y="76" width="6.5" height="3.5" fill="#c20808"/>
<rect x="122" y="76" width="6.5" height="3.5" fill="#c60809"/>
<rect x="128" y="76" width="9.5" height="3.5" fill="#cc090a"/>
<rect x="137" y="76" width="12.5" height="3.5" fill="#cf090a"/>
<rect x="149" y="76" width="9.5" height="3.5" fill="#d3090b"/>
<rect x="158" y="76" width="9.5" height="3.5" fill="#d70a0b"/>
<rect x="167" y="76" width="18.5" height="3.5" fill="#dc0a0c"/>
<rect x="185" y="76" width="27.5" height="3.5" fill="#e00a0c"/>
<rect x="212" y="76" width="24.5" height="3.5" fill="#e30a0c"/>
<rect x="236" y="76" width="63.5" height="3.5" fill="#e60a0c"/>
<rect x="305" y="76" width="33.5" height="3.5" fill="#df0a0c"/>
<rect x="338" y="76" width="51.5" height="3.5" fill="#dc0a0c"/>
<rect x="98" y="79" width="6.5" height="3.5" fill="#bd0708"/>
<rect x="104" y="79" width="6.5" height="3.5" fill="#c10808"/>
<rect x="110" y="79" width="6.5" height="3.5" fill="#c60809"/>
<rect x="116" y="79" width="6.5" height="3.5" fill="#ca080a"/>
<rect x="122" y="79" width="6.5" height="3.5" fill="#cf090a"/>
<rect x="128" y="79" width="12.5" height="3.5" fill="#d4090b"/>
<rect x="140" y="79" width="15.5" height="3.5" fill="#d80a0c"/>
<rect x="155" y="79" width="24.5" height="3.5" fill="#de0a0c"/>
<rect x="179" y="79" width="27.5" height="3.5" fill="#e20a0c"/>
<rect x="206" y="79" width="27.5" height="3.5" fill="#e50a0c"/>
<rect x="233" y="79" width="63.5" height="3.5" fill="#e70a0c"/>
<rect x="296" y="79" width="33.5" height="3.5" fill="#e20a0c"/>
<rect x="329" y="79" width="57.5" height="3.5" fill="#df0a0c"/>
<rect x="98" y="82" width="6.5" height="3.5" fill="#c50809"/>
<rect x="104" y="82" width="6.5" height="3.5" fill="#c90809"/>
<rect x="110" y="82" width="6.5" height="3.5" fill="#cd090a"/>
<rect x="116" y="82" width="6.5" height="3.5" fill="#d2090b"/>
<rect x="122" y="82" width="6.5" height="3.5" fill="#d70a0b"/>
<rect x="128" y="82" width="24.5" height="3.5" fill="#dd0a0c"/>
<rect x="152" y="82" width="27.5" height="3.5" fill="#e10a0c"/>
<rect x="179" y="82" width="33.5" height="3.5" fill="#e50a0c"/>
<rect x="212" y="82" width="21.5" height="3.5" fill="#e80a0c"/>
<rect x="233" y="82" width="30.5" height="3.5" fill="#eb0a0c"/>
<rect x="263" y="82" width="51.5" height="3.5" fill="#e70a0c"/>
<rect x="314" y="82" width="69.5" height="3.5" fill="#e20a0c"/>
<rect x="101" y="85" width="6.5" height="3.5" fill="#ce090a"/>
<rect x="107" y="85" width="6.5" height="3.5" fill="#d2090b"/>
<rect x="113" y="85" width="6.5" height="3.5" fill="#d70a0b"/>
<rect x="119" y="85" width="9.5" height="3.5" fill="#dd0a0c"/>
<rect x="128" y="85" width="33.5" height="3.5" fill="#e10a0c"/>
<rect x="161" y="85" width="30.5" height="3.5" fill="#e40a0c"/>
<rect x="191" y="85" width="33.5" height="3.5" fill="#e80a0c"/>
<rect x="224" y="85" width="45.5" height="3.5" fill="#ed0a0c"/>
<rect x="269" y="85" width="114.5" height="3.5" fill="#e50a0c"/>
<rect x="104" y="88" width="6.5" height="3.5" fill="#d70a0b"/>
<rect x="110" y="88" width="9.5" height="3.5" fill="#dd0a0c"/>
<rect x="119" y="88" width="15.5" height="3.5" fill="#e10a0c"/>
<rect x="134" y="88" width="39.5" height="3.5" fill="#e40a0c"/>
<rect x="173" y="88" width="36.5" height="3.5" fill="#e80a0c"/>
<rect x="209" y="88" width="24.5" height="3.5" fill="#ec0a0c"/>
<rect x="233" y="88" width="24.5" height="3.5" fill="#ef0a0c"/>
<rect x="257" y="88" width="48.5" height="3.5" fill="#e90a0c"/>
<rect x="305" y="88" width="75.5" height="3.5" fill="#e70a0c"/>
<rect x="104" y="91" width="9.5" height="3.5" fill="#dd0a0c"/>
<rect x="113" y="91" width="15.5" height="3.5" fill="#e20a0c"/>
<rect x="128" y="91" width="36.5" height="3.5" fill="#e60a0c"/>
<rect x="164" y="91" width="36.5" height="3.5" fill="#e90a0c"/>
<rect x="200" y="91" width="30.5" height="3.5" fill="#ed0a0c"/>
<rect x="230" y="91" width="30.5" height="3.5" fill="#f00a0c"/>
<rect x="260" y="91" width="117.5" height="3.5" fill="#e90a0c"/>
<rect x="107" y="94" width="12.5" height="3.5" fill="#e10a0c"/>
<rect x="119" y="94" width="18.5" height="3.5" fill="#e60a0c"/>
<rect x="137" y="94" width="45.5" height="3.5" fill="#e90a0c"/>
<rect x="182" y="94" width="39.5" height="3.5" fill="#ed0a0c"/>
<rect x="221" y="94" width="45.5" height="3.5" fill="#f20a0c"/>
<rect x="266" y="94" width="108.5" height="3.5" fill="#eb0a0c"/>
<rect x="107" y="97" width="15.5" height="3.5" fill="#e50a0c"/>
<rect x="122" y="97" width="24.5" height="3.5" fill="#e90a0c"/>
<rect x="146" y="97" width="51.5" height="3.5" fill="#ec0a0c"/>
<rect x="197" y="97" width="174.5" height="3.5" fill="#ed0a0c"/>
<rect x="110" y="100" width="15.5" height="3.5" fill="#e80a0c"/>
<rect x="125" y="100" width="42.5" height="3.5" fill="#ec0a0c"/>
<rect x="167" y="100" width="42.5" height="3.5" fill="#ef0a0c"/>
<rect x="209" y="100" width="162.5" height="3.5" fill="#ef0a0c"/>
<rect x="113" y="103" width="18.5" height="3.5" fill="#eb0a0c"/>
<rect x="131" y="103" width="51.5" height="3.5" fill="#ef0a0c"/>
<rect x="182" y="103" width="186.5" height="3.5" fill="#f20a0c"/>
<rect x="113" y="106" width="18.5" height="3.5" fill="#ec0a0c"/>
<rect x="131" y="106" width="66.5" height="3.5" fill="#f10a0c"/>
<rect x="197" y="106" width="168.5" height="3.5" fill="#f20a0c"/>
<rect x="116" y="109" width="15.5" height="3.5" fill="#ef0a0c"/>
<rect x="131" y="109" width="231.5" height="3.5" fill="#f40b0b"/>
<rect x="119" y="112" width="75.5" height="3.5" fill="#f30a0b"/>
<rect x="194" y="112" width="168.5" height="3.5" fill="#f40b0b"/>
<rect x="119" y="115" width="84.5" height="3.5" fill="#f40b0b"/>
<rect x="203" y="115" width="156.5" height="3.5" fill="#f40b0a"/>
<rect x="122" y="118" width="87.5" height="3.5" fill="#f40b0a"/>
<rect x="209" y="118" width="147.5" height="3.5" fill="#f50b0a"/>
<rect x="122" y="121" width="90.5" height="3.5" fill="#f50b0a"/>
<rect x="212" y="121" width="141.5" height="3.5" fill="#f60b09"/>
<rect x="125" y="124" width="90.5" height="3.5" fill="#f60b0a"/>
<rect x="215" y="124" width="135.5" height="3.5" fill="#f70c09"/>
<rect x="128" y="127" width="78.5" height="3.5" fill="#f60b09"/>
<rect x="206" y="127" width="9.5" height="3.5" fill="#f80c08"/>
<rect x="215" y="127" width="33.5" height="3.5" fill="#f90f07"/>
<rect x="248" y="127" width="90.5" height="3.5" fill="#f70c08"/>
<rect x="338" y="127" width="9.5" height="3.5" fill="#f91107"/>
<rect x="128" y="130" width="78.5" height="3.5" fill="#f70c09"/>
<rect x="206" y="130" width="3.5" height="3.5" fill="#f91107"/>
<rect x="209" y="130" width="6.5" height="3.5" fill="#fa1506"/>
<rect x="215" y="130" width="36.5" height="3.5" fill="#fb1905"/>
<rect x="251" y="130" width="18.5" height="3.5" fill="#fa1406"/>
<rect x="269" y="130" width="51.5" height="3.5" fill="#f90f07"/>
<rect x="320" y="130" width="12.5" height="3.5" fill="#fa1606"/>
<rect x="332" y="130" width="12.5" height="3.5" fill="#fb1a05"/>
<rect x="131" y="133" width="69.5" height="3.5" fill="#f80c08"/>
<rect x="200" y="133" width="3.5" height="3.5" fill="#f91107"/>
<rect x="203" y="133" width="3.5" height="3.5" fill="#fa1506"/>
<rect x="206" y="133" width="6.5" height="3.5" fill="#fb1a05"/>
<rect x="212" y="133" width="54.5" height="3.5" fill="#fc2203"/>
<rect x="266" y="133" width="54.5" height="3.5" fill="#fb1a05"/>
<rect x="320" y="133" width="12.5" height="3.5" fill="#fc2103"/>
<rect x="332" y="133" width="9.5" height="3.5" fill="#fd2502"/>
<rect x="134" y="136" width="21.5" height="3.5" fill="#f70c09"/>
<rect x="155" y="136" width="6.5" height="3.5" fill="#f91007"/>
<rect x="161" y="136" width="15.5" height="3.5" fill="#fa1406"/>
<rect x="176" y="136" width="21.5" height="3.5" fill="#f80e08"/>
<rect x="197" y="136" width="6.5" height="3.5" fill="#fa1706"/>
<rect x="203" y="136" width="3.5" height="3.5" fill="#fc1e04"/>
<rect x="206" y="136" width="3.5" height="3.5" fill="#fc2203"/>
<rect x="209" y="136" width="6.5" height="3.5" fill="#fd2602"/>
<rect x="215" y="136" width="54.5" height="3.5" fill="#fe2c01"/>
<rect x="269" y="136" width="48.5" height="3.5" fill="#fd2502"/>
<rect x="317" y="136" width="12.5" height="3.5" fill="#fe2b01"/>
<rect x="329" y="136" width="9.5" height="3.5" fill="#ff2f00"/>
<rect x="134" y="139" width="18.5" height="3.5" fill="#f70c09"/>
<rect x="152" y="139" width="3.5" height="3.5" fill="#f91306"/>
<rect x="155" y="139" width="3.5" height="3.5" fill="#fa1705"/>
<rect x="158" y="139" width="24.5" height="3.5" fill="#fb1e04"/>
<rect x="182" y="139" width="12.5" height="3.5" fill="#fa1706"/>
<rect x="194" y="139" width="6.5" height="3.5" fill="#fb1c04"/>
<rect x="200" y="139" width="3.5" height="3.5" fill="#fc2303"/>
<rect x="203" y="139" width="6.5" height="3.5" fill="#fd2702"/>
<rect x="209" y="139" width="6.5" height="3.5" fill="#ff2e00"/>
<rect x="215" y="139" width="3.5" height="3.5" fill="#ff3500"/>
<rect x="218" y="139" width="9.5" height="3.5" fill="#ff3b00"/>
<rect x="227" y="139" width="21.5" height="3.5" fill="#ff3c00"/>
<rect x="248" y="139" width="12.5" height="3.5" fill="#ff3800"/>
<rect x="260" y="139" width="15.5" height="3.5" fill="#ff3300"/>
<rect x="275" y="139" width="30.5" height="3.5" fill="#ff3000"/>
<rect x="305" y="139" width="9.5" height="3.5" fill="#ff3600"/>
<rect x="314" y="139" width="6.5" height="3.5" fill="#ff3900"/>
<rect x="320" y="139" width="6.5" height="3.5" fill="#ff3d00"/>
<rect x="326" y="139" width="6.5" height="3.5" fill="#ff4100"/>
<rect x="332" y="139" width="3.5" height="3.5" fill="#ff4500"/>
<rect x="137" y="142" width="12.5" height="3.5" fill="#f70c09"/>
<rect x="149" y="142" width="3.5" height="3.5" fill="#f91207"/>
<rect x="152" y="142" width="3.5" height="3.5" fill="#fa1805"/>
<rect x="155" y="142" width="3.5" height="3.5" fill="#fb1e04"/>
<rect x="158" y="142" width="6.5" height="3.5" fill="#fc2203"/>
<rect x="164" y="142" width="12.5" height="3.5" fill="#fd2702"/>
<rect x="176" y="142" width="6.5" height="3.5" fill="#fc2303"/>
<rect x="182" y="142" width="12.5" height="3.5" fill="#fc1f04"/>
<rect x="194" y="142" width="6.5" height="3.5" fill="#fd2503"/>
<rect x="200" y="142" width="6.5" height="3.5" fill="#fe2c01"/>
<rect x="206" y="142" width="3.5" height="3.5" fill="#ff3500"/>
<rect x="209" y="142" width="3.5" height="3.5" fill="#ff3c00"/>
<rect x="212" y="142" width="3.5" height="3.5" fill="#ff4200"/>
<rect x="215" y="142" width="3.5" height="3.5" fill="#ff4600"/>
<rect x="218" y="142" width="6.5" height="3.5" fill="#ff4a00"/>
<rect x="224" y="142" width="36.5" height="3.5" fill="#ff5000"/>
<rect x="260" y="142" width="15.5" height="3.5" fill="#ff4900"/>
<rect x="275" y="142" width="27.5" height="3.5" fill="#ff4700"/>
<rect x="302" y="142" width="9.5" height="3.5" fill="#ff4c00"/>
<rect x="311" y="142" width="9.5" height="3.5" fill="#ff5000"/>
<rect x="320" y="142" width="6.5" height="3.5" fill="#ff5400"/>
<rect x="326" y="142" width="3.5" height="3.5" fill="#ff5800"/>
<rect x="137" y="145" width="12.5" height="3.5" fill="#f70c09"/>
<rect x="149" y="145" width="3.5" height="3.5" fill="#fa1506"/>
<rect x="152" y="145" width="3.5" height="3.5" fill="#fb1c04"/>
<rect x="155" y="145" width="3.5" height="3.5" fill="#fc2303"/>
<rect x="158" y="145" width="3.5" height="3.5" fill="#fe2902"/>
<rect x="161" y="145" width="18.5" height="3.5" fill="#ff2f00"/>
<rect x="179" y="145" width="15.5" height="3.5" fill="#fd2702"/>
<rect x="194" y="145" width="6.5" height="3.5" fill="#fe2d01"/>
<rect x="200" y="145" width="3.5" height="3.5" fill="#ff3800"/>
<rect x="203" y="145" width="3.5" height="3.5" fill="#ff3f00"/>
<rect x="206" y="145" width="3.5" height="3.5" fill="#ff4600"/>
<rect x="209" y="145" width="3.5" height="3.5" fill="#ff4d00"/>
<rect x="212" y="145" width="3.5" height="3.5" fill="#ff5300"/>
<rect x="215" y="145" width="3.5" height="3.5" fill="#ff5800"/>
<rect x="218" y="145" width="6.5" height="3.5" fill="#ff5c00"/>
<rect x="224" y="145" width="9.5" height="3.5" fill="#ff6300"/>
<rect x="233" y="145" width="27.5" height="3.5" fill="#ff6400"/>
<rect x="260" y="145" width="51.5" height="3.5" fill="#ff5e00"/>
<rect x="311" y="145" width="9.5" height="3.5" fill="#ff6800"/>
<rect x="320" y="145" width="6.5" height="3.5" fill="#ff6b00"/>
<rect x="140" y="148" width="6.5" height="3.5" fill="#f70c08"/>
<rect x="146" y="148" width="3.5" height="3.5" fill="#f91107"/>
<rect x="149" y="148" width="3.5" height="3.5" fill="#fa1805"/>
<rect x="152" y="148" width="3.5" height="3.5" fill="#fc2004"/>
<rect x="155" y="148" width="3.5" height="3.5" fill="#fd2802"/>
<rect x="158" y="148" width="3.5" height="3.5" fill="#ff2f00"/>
<rect x="161" y="148" width="3.5" height="3.5" fill="#ff3700"/>
<rect x="164" y="148" width="12.5" height="3.5" fill="#ff3f00"/>
<rect x="176" y="148" width="3.5" height="3.5" fill="#ff3700"/>
<rect x="179" y="148" width="6.5" height="3.5" fill="#ff3300"/>
<rect x="185" y="148" width="6.5" height="3.5" fill="#ff2f00"/>
<rect x="191" y="148" width="3.5" height="3.5" fill="#ff3400"/>
<rect x="194" y="148" width="3.5" height="3.5" fill="#ff3a00"/>
<rect x="197" y="148" width="3.5" height="3.5" fill="#ff4100"/>
<rect x="200" y="148" width="3.5" height="3.5" fill="#ff4800"/>
<rect x="203" y="148" width="3.5" height="3.5" fill="#ff5000"/>
<rect x="206" y="148" width="3.5" height="3.5" fill="#ff5700"/>
<rect x="209" y="148" width="3.5" height="3.5" fill="#ff5e00"/>
<rect x="212" y="148" width="3.5" height="3.5" fill="#ff6400"/>
<rect x="215" y="148" width="3.5" height="3.5" fill="#ff6900"/>
<rect x="218" y="148" width="3.5" height="3.5" fill="#ff6d00"/>
<rect x="221" y="148" width="12.5" height="3.5" fill="#ff7200"/>
<rect x="233" y="148" width="48.5" height="3.5" fill="#ff7500"/>
<rect x="284" y="148" width="24.5" height="3.5" fill="#ff7400"/>
<rect x="308" y="148" width="12.5" height="3.5" fill="#ff7800"/>
<rect x="143" y="151" width="3.5" height="3.5" fill="#f90f07"/>
<rect x="146" y="151" width="3.5" height="3.5" fill="#fa1506"/>
<rect x="149" y="151" width="3.5" height="3.5" fill="#fb1c04"/>
<rect x="152" y="151" width="3.5" height="3.5" fill="#fd2403"/>
<rect x="155" y="151" width="3.5" height="3.5" fill="#fe2c01"/>
<rect x="158" y="151" width="3.5" height="3.5" fill="#ff3700"/>
<rect x="161" y="151" width="3.5" height="3.5" fill="#ff4400"/>
<rect x="164" y="151" width="15.5" height="3.5" fill="#ff4c00"/>
<rect x="179" y="151" width="6.5" height="3.5" fill="#ff4300"/>
<rect x="185" y="151" width="6.5" height="3.5" fill="#ff3e00"/>
<rect x="191" y="151" width="3.5" height="3.5" fill="#ff4400"/>
<rect x="194" y="151" width="3.5" height="3.5" fill="#ff4a00"/>
<rect x="197" y="151" width="3.5" height="3.5" fill="#ff5100"/>
<rect x="200" y="151" width="3.5" height="3.5" fill="#ff5900"/>
<rect x="203" y="151" width="3.5" height="3.5" fill="#ff6100"/>
<rect x="206" y="151" width="3.5" height="3.5" fill="#ff6800"/>
<rect x="209" y="151" width="3.5" height="3.5" fill="#ff6f00"/>
<rect x="212" y="151" width="6.5" height="3.5" fill="#ff7300"/>
<rect x="218" y="151" width="6.5" height="3.5" fill="#ff7900"/>
<rect x="224" y="151" width="9.5" height="3.5" fill="#ff7f00"/>
<rect x="233" y="151" width="27.5" height="3.5" fill="#ff8200"/>
<rect x="305" y="151" width="9.5" height="3.5" fill="#ff8500"/>
<rect x="143" y="154" width="3.5" height="3.5" fill="#fa1406"/>
<rect x="146" y="154" width="3.5" height="3.5" fill="#fb1905"/>
<rect x="149" y="154" width="3.5" height="3.5" fill="#fc1f04"/>
<rect x="152" y="154" width="3.5" height="3.5" fill="#fd2702"/>
<rect x="155" y="154" width="3.5" height="3.5" fill="#ff2f00"/>
<rect x="158" y="154" width="3.5" height="3.5" fill="#ff3e00"/>
<rect x="161" y="154" width="3.5" height="3.5" fill="#ff4c00"/>
<rect x="164" y="154" width="6.5" height="3.5" fill="#ff5300"/>
<rect x="170" y="154" width="9.5" height="3.5" fill="#ff5800"/>
<rect x="179" y="154" width="6.5" height="3.5" fill="#ff5300"/>
<rect x="185" y="154" width="6.5" height="3.5" fill="#ff4e00"/>
<rect x="191" y="154" width="3.5" height="3.5" fill="#ff5500"/>
<rect x="194" y="154" width="3.5" height="3.5" fill="#ff5b00"/>
<rect x="197" y="154" width="3.5" height="3.5" fill="#ff6300"/>
<rect x="200" y="154" width="3.5" height="3.5" fill="#ff6a00"/>
<rect x="203" y="154" width="3.5" height="3.5" fill="#ff7100"/>
<rect x="206" y="154" width="3.5" height="3.5" fill="#ff7600"/>
<rect x="209" y="154" width="3.5" height="3.5" fill="#ff7a00"/>
<rect x="212" y="154" width="6.5" height="3.5" fill="#ff7e00"/>
<rect x="218" y="154" width="6.5" height="3.5" fill="#ff8400"/>
<rect x="224" y="154" width="9.5" height="3.5" fill="#ff8a00"/>
<rect x="233" y="154" width="18.5" height="3.5" fill="#ff8e00"/>
<rect x="146" y="157" width="3.5" height="3.5" fill="#fc1f04"/>
<rect x="149" y="157" width="3.5" height="3.5" fill="#fd2403"/>
<rect x="152" y="157" width="3.5" height="3.5" fill="#fe2a01"/>
<rect x="155" y="157" width="3.5" height="3.5" fill="#ff3300"/>
<rect x="158" y="157" width="3.5" height="3.5" fill="#ff4200"/>
<rect x="161" y="157" width="3.5" height="3.5" fill="#ff4e00"/>
<rect x="164" y="157" width="3.5" height="3.5" fill="#ff5700"/>
<rect x="167" y="157" width="3.5" height="3.5" fill="#ff5c00"/>
<rect x="170" y="157" width="21.5" height="3.5" fill="#ff6100"/>
<rect x="191" y="157" width="3.5" height="3.5" fill="#ff6700"/>
<rect x="194" y="157" width="3.5" height="3.5" fill="#ff6d00"/>
<rect x="197" y="157" width="3.5" height="3.5" fill="#ff7300"/>
<rect x="200" y="157" width="3.5" height="3.5" fill="#ff7700"/>
<rect x="203" y="157" width="3.5" height="3.5" fill="#ff7c00"/>
<rect x="206" y="157" width="3.5" height="3.5" fill="#ff8100"/>
<rect x="209" y="157" width="3.5" height="3.5" fill="#ff8500"/>
<rect x="212" y="157" width="6.5" height="3.5" fill="#ff8900"/>
<rect x="218" y="157" width="6.5" height="3.5" fill="#ff8f00"/>
<rect x="224" y="157" width="9.5" height="3.5" fill="#ff9600"/>
<rect x="233" y="157" width="12.5" height="3.5" fill="#ff9a00"/>
<rect x="149" y="160" width="3.5" height="3.5" fill="#fe2a01"/>
<rect x="152" y="160" width="3.5" height="3.5" fill="#ff2f00"/>
<rect x="155" y="160" width="3.5" height="3.5" fill="#ff3900"/>
<rect x="158" y="160" width="3.5" height="3.5" fill="#ff4400"/>
<rect x="161" y="160" width="3.5" height="3.5" fill="#ff4f00"/>
<rect x="164" y="160" width="3.5" height="3.5" fill="#ff5800"/>
<rect x="167" y="160" width="3.5" height="3.5" fill="#ff6000"/>
<rect x="170" y="160" width="3.5" height="3.5" fill="#ff6700"/>
<rect x="173" y="160" width="15.5" height="3.5" fill="#ff6e00"/>
<rect x="188" y="160" width="6.5" height="3.5" fill="#ff7200"/>
<rect x="194" y="160" width="3.5" height="3.5" fill="#ff7a00"/>
<rect x="197" y="160" width="3.5" height="3.5" fill="#ff7e00"/>
<rect x="200" y="160" width="3.5" height="3.5" fill="#ff8300"/>
<rect x="203" y="160" width="3.5" height="3.5" fill="#ff8700"/>
<rect x="206" y="160" width="3.5" height="3.5" fill="#ff8c00"/>
<rect x="209" y="160" width="3.5" height="3.5" fill="#ff9000"/>
<rect x="212" y="160" width="3.5" height="3.5" fill="#ff9400"/>
<rect x="215" y="160" width="6.5" height="3.5" fill="#ff9800"/>
<rect x="221" y="160" width="6.5" height="3.5" fill="#ff9e00"/>
<rect x="227" y="160" width="9.5" height="3.5" fill="#ffa300"/>
<rect x="236" y="160" width="3.5" height="3.5" fill="#ffa600"/>
<rect x="149" y="163" width="3.5" height="3.5" fill="#ff3200"/>
<rect x="152" y="163" width="3.5" height="3.5" fill="#ff3a00"/>
<rect x="155" y="163" width="3.5" height="3.5" fill="#ff4200"/>
<rect x="158" y="163" width="3.5" height="3.5" fill="#ff4a00"/>
<rect x="161" y="163" width="3.5" height="3.5" fill="#ff5300"/>
<rect x="164" y="163" width="3.5" height="3.5" fill="#ff5b00"/>
<rect x="167" y="163" width="3.5" height="3.5" fill="#ff6200"/>
<rect x="170" y="163" width="3.5" height="3.5" fill="#ff6a00"/>
<rect x="173" y="163" width="6.5" height="3.5" fill="#ff7100"/>
<rect x="179" y="163" width="6.5" height="3.5" fill="#ff7600"/>
<rect x="185" y="163" width="6.5" height="3.5" fill="#ff7a00"/>
<rect x="191" y="163" width="3.5" height="3.5" fill="#ff8100"/>
<rect x="194" y="163" width="3.5" height="3.5" fill="#ff8500"/>
<rect x="197" y="163" width="3.5" height="3.5" fill="#ff8a00"/>
<rect x="200" y="163" width="3.5" height="3.5" fill="#ff8f00"/>
<rect x="203" y="163" width="3.5" height="3.5" fill="#ff9300"/>
<rect x="206" y="163" width="3.5" height="3.5" fill="#ff9800"/>
<rect x="209" y="163" width="3.5" height="3.5" fill="#ff9c00"/>
<rect x="212" y="163" width="3.5" height="3.5" fill="#ffa000"/>
<rect x="215" y="163" width="6.5" height="3.5" fill="#ffa400"/>
<rect x="221" y="163" width="6.5" height="3.5" fill="#ffaa00"/>
<rect x="227" y="163" width="6.5" height="3.5" fill="#ffae00"/>
<rect x="152" y="166" width="3.5" height="3.5" fill="#ff4a00"/>
<rect x="155" y="166" width="3.5" height="3.5" fill="#ff5100"/>
<rect x="158" y="166" width="3.5" height="3.5" fill="#ff5600"/>
<rect x="161" y="166" width="3.5" height="3.5" fill="#ff5d00"/>
<rect x="164" y="166" width="3.5" height="3.5" fill="#ff6300"/>
<rect x="167" y="166" width="3.5" height="3.5" fill="#ff6700"/>
<rect x="170" y="166" width="3.5" height="3.5" fill="#ff6d00"/>
<rect x="173" y="166" width="3.5" height="3.5" fill="#ff7300"/>
<rect x="176" y="166" width="3.5" height="3.5" fill="#ff7800"/>
<rect x="179" y="166" width="3.5" height="3.5" fill="#ff7c00"/>
<rect x="182" y="166" width="3.5" height="3.5" fill="#ff8000"/>
<rect x="185" y="166" width="3.5" height="3.5" fill="#ff8400"/>
<rect x="188" y="166" width="3.5" height="3.5" fill="#ff8800"/>
<rect x="191" y="166" width="3.5" height="3.5" fill="#ff8c00"/>
<rect x="194" y="166" width="3.5" height="3.5" fill="#ff9100"/>
<rect x="197" y="166" width="3.5" height="3.5" fill="#ff9600"/>
<rect x="200" y="166" width="3.5" height="3.5" fill="#ff9b00"/>
<rect x="203" y="166" width="3.5" height="3.5" fill="#ffa000"/>
<rect x="206" y="166" width="3.5" height="3.5" fill="#ffa400"/>
<rect x="209" y="166" width="3.5" height="3.5" fill="#ffa800"/>
<rect x="212" y="166" width="3.5" height="3.5" fill="#ffac00"/>
<rect x="215" y="166" width="6.5" height="3.5" fill="#ffb000"/>
<rect x="221" y="166" width="6.5" height="3.5" fill="#feb500"/>
<rect x="227" y="166" width="3.5" height="3.5" fill="#fdba00"/>
<rect x="155" y="169" width="3.5" height="3.5" fill="#ff6600"/>
<rect x="158" y="169" width="3.5" height="3.5" fill="#ff6c00"/>
<rect x="161" y="169" width="12.5" height="3.5" fill="#ff7200"/>
<rect x="173" y="169" width="3.5" height="3.5" fill="#ff7800"/>
<rect x="176" y="169" width="3.5" height="3.5" fill="#ff7f00"/>
<rect x="179" y="169" width="3.5" height="3.5" fill="#ff8500"/>
<rect x="182" y="169" width="3.5" height="3.5" fill="#ff8a00"/>
<rect x="185" y="169" width="3.5" height="3.5" fill="#ff8f00"/>
<rect x="188" y="169" width="3.5" height="3.5" fill="#ff9400"/>
<rect x="191" y="169" width="3.5" height="3.5" fill="#ff9900"/>
<rect x="194" y="169" width="3.5" height="3.5" fill="#ff9e00"/>
<rect x="197" y="169" width="3.5" height="3.5" fill="#ffa300"/>
<rect x="200" y="169" width="3.5" height="3.5" fill="#ffa800"/>
<rect x="203" y="169" width="3.5" height="3.5" fill="#ffad00"/>
<rect x="206" y="169" width="3.5" height="3.5" fill="#ffb100"/>
<rect x="209" y="169" width="6.5" height="3.5" fill="#feb500"/>
<rect x="215" y="169" width="6.5" height="3.5" fill="#fcbc00"/>
<rect x="221" y="169" width="3.5" height="3.5" fill="#fbc100"/>
<rect x="158" y="172" width="6.5" height="3.5" fill="#ff7e00"/>
<rect x="164" y="172" width="6.5" height="3.5" fill="#ff8300"/>
<rect x="170" y="172" width="3.5" height="3.5" fill="#ff7f00"/>
<rect x="173" y="172" width="3.5" height="3.5" fill="#ff8400"/>
<rect x="176" y="172" width="3.5" height="3.5" fill="#ff8a00"/>
<rect x="179" y="172" width="3.5" height="3.5" fill="#ff9000"/>
<rect x="182" y="172" width="3.5" height="3.5" fill="#ff9500"/>
<rect x="185" y="172" width="3.5" height="3.5" fill="#ff9b00"/>
<rect x="188" y="172" width="3.5" height="3.5" fill="#ffa000"/>
<rect x="191" y="172" width="3.5" height="3.5" fill="#ffa600"/>
<rect x="194" y="172" width="3.5" height="3.5" fill="#ffab00"/>
<rect x="197" y="172" width="3.5" height="3.5" fill="#ffb000"/>
<rect x="200" y="172" width="3.5" height="3.5" fill="#feb500"/>
<rect x="203" y="172" width="3.5" height="3.5" fill="#fdb900"/>
<rect x="206" y="172" width="3.5" height="3.5" fill="#fcbd00"/>
<rect x="209" y="172" width="3.5" height="3.5" fill="#fbc100"/>
<rect x="212" y="172" width="6.5" height="3.5" fill="#fac500"/>
<rect x="218" y="172" width="3.5" height="3.5" fill="#f9cb00"/>
<rect x="164" y="175" width="6.5" height="3.5" fill="#ff9800"/>
<rect x="170" y="175" width="6.5" height="3.5" fill="#ff9400"/>
<rect x="176" y="175" width="3.5" height="3.5" fill="#ff9800"/>
<rect x="179" y="175" width="3.5" height="3.5" fill="#ff9d00"/>
<rect x="182" y="175" width="3.5" height="3.5" fill="#ffa300"/>
<rect x="185" y="175" width="3.5" height="3.5" fill="#ffa800"/>
<rect x="188" y="175" width="3.5" height="3.5" fill="#ffae00"/>
<rect x="191" y="175" width="3.5" height="3.5" fill="#feb300"/>
<rect x="194" y="175" width="3.5" height="3.5" fill="#fdb800"/>
<rect x="197" y="175" width="3.5" height="3.5" fill="#fcbd00"/>
<rect x="200" y="175" width="3.5" height="3.5" fill="#fbc200"/>
<rect x="203" y="175" width="3.5" height="3.5" fill="#fac600"/>
<rect x="206" y="175" width="3.5" height="3.5" fill="#f9ca00"/>
<rect x="209" y="175" width="6.5" height="3.5" fill="#f8ce00"/>
<rect x="167" y="178" width="15.5" height="3.5" fill="#ffa700"/>
<rect x="182" y="178" width="3.5" height="3.5" fill="#ffb200"/>
<rect x="185" y="178" width="3.5" height="3.5" fill="#feb600"/>
<rect x="188" y="178" width="3.5" height="3.5" fill="#fcbb00"/>
<rect x="191" y="178" width="3.5" height="3.5" fill="#fbc100"/>
<rect x="194" y="178" width="3.5" height="3.5" fill="#fac600"/>
<rect x="197" y="178" width="3.5" height="3.5" fill="#f9cb00"/>
<rect x="200" y="178" width="3.5" height="3.5" fill="#f8cf00"/>
<rect x="203" y="178" width="6.5" height="3.5" fill="#f7d400"/>
<rect x="209" y="178" width="3.5" height="3.5" fill="#f5db00"/>
<rect x="173" y="181" width="6.5" height="3.5" fill="#fdb900"/>
<rect x="179" y="181" width="6.5" height="3.5" fill="#fcbd00"/>
<rect x="185" y="181" width="3.5" height="3.5" fill="#fac500"/>
<rect x="188" y="181" width="3.5" height="3.5" fill="#f9ca00"/>
<rect x="191" y="181" width="3.5" height="3.5" fill="#f8cf00"/>
<rect x="194" y="181" width="3.5" height="3.5" fill="#f6d400"/>
<rect x="197" y="181" width="3.5" height="3.5" fill="#f5d900"/>
<rect x="200" y="181" width="3.5" height="3.5" fill="#f4dd00"/>
<rect x="203" y="181" width="3.5" height="3.5" fill="#f3e100"/>
<rect x="182" y="184" width="6.5" height="3.5" fill="#f8d000"/>
<rect x="188" y="184" width="3.5" height="3.5" fill="#f6d800"/>
<rect x="191" y="184" width="3.5" height="3.5" fill="#f4de00"/>
<rect x="194" y="184" width="3.5" height="3.5" fill="#f3e300"/>
<rect x="197" y="184" width="6.5" height="3.5" fill="#f2e800"/>
<rect x="188" y="187" width="3.5" height="3.5" fill="#f2e700"/>
<rect x="191" y="187" width="6.5" height="3.5" fill="#f1ed00"/>
<rect x="197" y="187" width="3.5" height="3.5" fill="#e9f000"/>
</g>
<polyline points="86,62 105,59.5 118.5,58 138,54.8 157,51.4 176,47.6 195.4,43.8 215,39.9 233.8,36.1 250,32.6 266,28.5" fill="none" stroke="#700808" stroke-width="6" opacity="0.75" filter="url(#bl2)"/>
<g clip-path="url(#cFront)"><g filter="url(#bl2)">
<rect x="407" y="48" width="9.5" height="3.5" fill="#7a0909"/>
<rect x="398" y="51" width="6.5" height="3.5" fill="#7a0909"/>
<rect x="404" y="51" width="9.5" height="3.5" fill="#7f0909"/>
<rect x="389" y="54" width="6.5" height="3.5" fill="#7a0909"/>
<rect x="395" y="54" width="9.5" height="3.5" fill="#800909"/>
<rect x="404" y="54" width="6.5" height="3.5" fill="#830909"/>
<rect x="377" y="57" width="9.5" height="3.5" fill="#760909"/>
<rect x="386" y="57" width="6.5" height="3.5" fill="#7b0909"/>
<rect x="392" y="57" width="6.5" height="3.5" fill="#800909"/>
<rect x="398" y="57" width="6.5" height="3.5" fill="#840909"/>
<rect x="404" y="57" width="3.5" height="3.5" fill="#880808"/>
<rect x="365" y="60" width="24.5" height="3.5" fill="#7a0909"/>
<rect x="389" y="60" width="6.5" height="3.5" fill="#7f0909"/>
<rect x="395" y="60" width="6.5" height="3.5" fill="#850808"/>
<rect x="401" y="60" width="3.5" height="3.5" fill="#8a0808"/>
<rect x="356" y="63" width="6.5" height="3.5" fill="#790909"/>
<rect x="362" y="63" width="15.5" height="3.5" fill="#810909"/>
<rect x="377" y="63" width="9.5" height="3.5" fill="#770909"/>
<rect x="386" y="63" width="3.5" height="3.5" fill="#7c0909"/>
<rect x="389" y="63" width="3.5" height="3.5" fill="#800909"/>
<rect x="392" y="63" width="6.5" height="3.5" fill="#840909"/>
<rect x="398" y="63" width="3.5" height="3.5" fill="#8a0808"/>
<rect x="347" y="66" width="3.5" height="3.5" fill="#760909"/>
<rect x="350" y="66" width="3.5" height="3.5" fill="#7b0909"/>
<rect x="353" y="66" width="6.5" height="3.5" fill="#7f0909"/>
<rect x="359" y="66" width="15.5" height="3.5" fill="#870808"/>
<rect x="374" y="66" width="3.5" height="3.5" fill="#7e0909"/>
<rect x="377" y="66" width="9.5" height="3.5" fill="#780909"/>
<rect x="386" y="66" width="3.5" height="3.5" fill="#7d0909"/>
<rect x="389" y="66" width="3.5" height="3.5" fill="#810909"/>
<rect x="392" y="66" width="3.5" height="3.5" fill="#850808"/>
<rect x="395" y="66" width="3.5" height="3.5" fill="#8a0808"/>
<rect x="335" y="69" width="3.5" height="3.5" fill="#700a0a"/>
<rect x="338" y="69" width="3.5" height="3.5" fill="#740909"/>
<rect x="341" y="69" width="3.5" height="3.5" fill="#790909"/>
<rect x="344" y="69" width="3.5" height="3.5" fill="#7e0909"/>
<rect x="347" y="69" width="3.5" height="3.5" fill="#820909"/>
<rect x="350" y="69" width="6.5" height="3.5" fill="#860808"/>
<rect x="356" y="69" width="15.5" height="3.5" fill="#8e0808"/>
<rect x="371" y="69" width="3.5" height="3.5" fill="#870808"/>
<rect x="374" y="69" width="3.5" height="3.5" fill="#820909"/>
<rect x="377" y="69" width="12.5" height="3.5" fill="#7c0909"/>
<rect x="389" y="69" width="3.5" height="3.5" fill="#840909"/>
<rect x="392" y="69" width="3.5" height="3.5" fill="#880808"/>
<rect x="326" y="72" width="3.5" height="3.5" fill="#710a0a"/>
<rect x="329" y="72" width="3.5" height="3.5" fill="#760909"/>
<rect x="332" y="72" width="3.5" height="3.5" fill="#7a0909"/>
<rect x="335" y="72" width="3.5" height="3.5" fill="#7f0909"/>
<rect x="338" y="72" width="3.5" height="3.5" fill="#830909"/>
<rect x="341" y="72" width="6.5" height="3.5" fill="#870808"/>
<rect x="347" y="72" width="6.5" height="3.5" fill="#8e0808"/>
<rect x="353" y="72" width="18.5" height="3.5" fill="#970707"/>
<rect x="371" y="72" width="3.5" height="3.5" fill="#8e0808"/>
<rect x="374" y="72" width="3.5" height="3.5" fill="#890808"/>
<rect x="377" y="72" width="12.5" height="3.5" fill="#830909"/>
<rect x="389" y="72" width="3.5" height="3.5" fill="#890808"/>
<rect x="311" y="75" width="6.5" height="3.5" fill="#6a0a0a"/>
<rect x="317" y="75" width="3.5" height="3.5" fill="#720a0a"/>
<rect x="320" y="75" width="3.5" height="3.5" fill="#780909"/>
<rect x="323" y="75" width="3.5" height="3.5" fill="#7e0909"/>
<rect x="326" y="75" width="3.5" height="3.5" fill="#830909"/>
<rect x="329" y="75" width="3.5" height="3.5" fill="#870808"/>
<rect x="332" y="75" width="6.5" height="3.5" fill="#8b0808"/>
<rect x="338" y="75" width="6.5" height="3.5" fill="#910808"/>
<rect x="344" y="75" width="6.5" height="3.5" fill="#970707"/>
<rect x="350" y="75" width="9.5" height="3.5" fill="#9f0707"/>
<rect x="359" y="75" width="9.5" height="3.5" fill="#a00707"/>
<rect x="368" y="75" width="3.5" height="3.5" fill="#9a0707"/>
<rect x="371" y="75" width="3.5" height="3.5" fill="#960707"/>
<rect x="374" y="75" width="3.5" height="3.5" fill="#920808"/>
<rect x="377" y="75" width="12.5" height="3.5" fill="#8c0808"/>
<rect x="296" y="78" width="9.5" height="3.5" fill="#6a0a0a"/>
<rect x="305" y="78" width="3.5" height="3.5" fill="#6f0a0a"/>
<rect x="308" y="78" width="3.5" height="3.5" fill="#740909"/>
<rect x="311" y="78" width="3.5" height="3.5" fill="#790909"/>
<rect x="314" y="78" width="3.5" height="3.5" fill="#7f0909"/>
<rect x="317" y="78" width="3.5" height="3.5" fill="#860808"/>
<rect x="320" y="78" width="3.5" height="3.5" fill="#8b0808"/>
<rect x="323" y="78" width="3.5" height="3.5" fill="#910808"/>
<rect x="326" y="78" width="3.5" height="3.5" fill="#950808"/>
<rect x="329" y="78" width="6.5" height="3.5" fill="#990707"/>
<rect x="335" y="78" width="9.5" height="3.5" fill="#a10707"/>
<rect x="344" y="78" width="6.5" height="3.5" fill="#a40707"/>
<rect x="350" y="78" width="18.5" height="3.5" fill="#ab0606"/>
<rect x="368" y="78" width="3.5" height="3.5" fill="#a40707"/>
<rect x="371" y="78" width="3.5" height="3.5" fill="#a00707"/>
<rect x="374" y="78" width="3.5" height="3.5" fill="#9c0707"/>
<rect x="377" y="78" width="12.5" height="3.5" fill="#960707"/>
<rect x="284" y="81" width="9.5" height="3.5" fill="#6a0a0a"/>
<rect x="293" y="81" width="3.5" height="3.5" fill="#730a0a"/>
<rect x="296" y="81" width="3.5" height="3.5" fill="#790909"/>
<rect x="299" y="81" width="6.5" height="3.5" fill="#7e0909"/>
<rect x="305" y="81" width="3.5" height="3.5" fill="#840909"/>
<rect x="308" y="81" width="3.5" height="3.5" fill="#880808"/>
<rect x="311" y="81" width="3.5" height="3.5" fill="#8e0808"/>
<rect x="314" y="81" width="3.5" height="3.5" fill="#940808"/>
<rect x="317" y="81" width="3.5" height="3.5" fill="#9a0707"/>
<rect x="320" y="81" width="3.5" height="3.5" fill="#9f0707"/>
<rect x="323" y="81" width="3.5" height="3.5" fill="#a40707"/>
<rect x="326" y="81" width="3.5" height="3.5" fill="#a80606"/>
<rect x="329" y="81" width="6.5" height="3.5" fill="#ac0606"/>
<rect x="335" y="81" width="15.5" height="3.5" fill="#b10606"/>
<rect x="350" y="81" width="15.5" height="3.5" fill="#b50607"/>
<rect x="365" y="81" width="6.5" height="3.5" fill="#b10606"/>
<rect x="371" y="81" width="3.5" height="3.5" fill="#aa0606"/>
<rect x="374" y="81" width="6.5" height="3.5" fill="#a60707"/>
<rect x="380" y="81" width="6.5" height="3.5" fill="#a00707"/>
<rect x="272" y="84" width="12.5" height="3.5" fill="#6a0a0a"/>
<rect x="284" y="84" width="3.5" height="3.5" fill="#740909"/>
<rect x="287" y="84" width="3.5" height="3.5" fill="#7d0909"/>
<rect x="290" y="84" width="3.5" height="3.5" fill="#850808"/>
<rect x="293" y="84" width="3.5" height="3.5" fill="#8d0808"/>
<rect x="296" y="84" width="3.5" height="3.5" fill="#920808"/>
<rect x="299" y="84" width="9.5" height="3.5" fill="#970707"/>
<rect x="308" y="84" width="3.5" height="3.5" fill="#9d0707"/>
<rect x="311" y="84" width="3.5" height="3.5" fill="#a30707"/>
<rect x="314" y="84" width="3.5" height="3.5" fill="#a90606"/>
<rect x="317" y="84" width="3.5" height="3.5" fill="#af0606"/>
<rect x="320" y="84" width="6.5" height="3.5" fill="#b30606"/>
<rect x="326" y="84" width="6.5" height="3.5" fill="#b90707"/>
<rect x="332" y="84" width="33.5" height="3.5" fill="#be0708"/>
<rect x="365" y="84" width="6.5" height="3.5" fill="#b90707"/>
<rect x="371" y="84" width="6.5" height="3.5" fill="#b30606"/>
<rect x="377" y="84" width="6.5" height="3.5" fill="#ad0606"/>
<rect x="254" y="87" width="9.5" height="3.5" fill="#6a0a0a"/>
<rect x="263" y="87" width="3.5" height="3.5" fill="#6f0a0a"/>
<rect x="266" y="87" width="3.5" height="3.5" fill="#740909"/>
<rect x="269" y="87" width="3.5" height="3.5" fill="#780909"/>
<rect x="272" y="87" width="6.5" height="3.5" fill="#7c0909"/>
<rect x="278" y="87" width="3.5" height="3.5" fill="#820909"/>
<rect x="281" y="87" width="3.5" height="3.5" fill="#890808"/>
<rect x="284" y="87" width="3.5" height="3.5" fill="#920808"/>
<rect x="287" y="87" width="3.5" height="3.5" fill="#9a0707"/>
<rect x="290" y="87" width="3.5" height="3.5" fill="#a10707"/>
<rect x="293" y="87" width="3.5" height="3.5" fill="#a70606"/>
<rect x="296" y="87" width="6.5" height="3.5" fill="#ac0606"/>
<rect x="302" y="87" width="6.5" height="3.5" fill="#b00606"/>
<rect x="308" y="87" width="3.5" height="3.5" fill="#b40607"/>
<rect x="311" y="87" width="3.5" height="3.5" fill="#b90707"/>
<rect x="314" y="87" width="3.5" height="3.5" fill="#bd0708"/>
<rect x="317" y="87" width="6.5" height="3.5" fill="#c10808"/>
<rect x="323" y="87" width="9.5" height="3.5" fill="#c80809"/>
<rect x="332" y="87" width="27.5" height="3.5" fill="#ca0809"/>
<rect x="359" y="87" width="6.5" height="3.5" fill="#c60809"/>
<rect x="365" y="87" width="6.5" height="3.5" fill="#c10808"/>
<rect x="371" y="87" width="6.5" height="3.5" fill="#bb0708"/>
<rect x="377" y="87" width="3.5" height="3.5" fill="#b60707"/>
<rect x="242" y="90" width="3.5" height="3.5" fill="#720a0a"/>
<rect x="245" y="90" width="3.5" height="3.5" fill="#780909"/>
<rect x="248" y="90" width="3.5" height="3.5" fill="#7d0909"/>
<rect x="251" y="90" width="6.5" height="3.5" fill="#810909"/>
<rect x="257" y="90" width="3.5" height="3.5" fill="#870808"/>
<rect x="260" y="90" width="3.5" height="3.5" fill="#8d0808"/>
<rect x="263" y="90" width="3.5" height="3.5" fill="#930808"/>
<rect x="266" y="90" width="3.5" height="3.5" fill="#970707"/>
<rect x="269" y="90" width="3.5" height="3.5" fill="#9b0707"/>
<rect x="272" y="90" width="6.5" height="3.5" fill="#9f0707"/>
<rect x="278" y="90" width="3.5" height="3.5" fill="#a60707"/>
<rect x="281" y="90" width="3.5" height="3.5" fill="#ab0606"/>
<rect x="284" y="90" width="3.5" height="3.5" fill="#b10606"/>
<rect x="287" y="90" width="3.5" height="3.5" fill="#b60707"/>
<rect x="290" y="90" width="3.5" height="3.5" fill="#ba0707"/>
<rect x="293" y="90" width="6.5" height="3.5" fill="#bf0708"/>
<rect x="299" y="90" width="9.5" height="3.5" fill="#c70809"/>
<rect x="308" y="90" width="3.5" height="3.5" fill="#ca080a"/>
<rect x="311" y="90" width="6.5" height="3.5" fill="#ce090a"/>
<rect x="317" y="90" width="9.5" height="3.5" fill="#d4090b"/>
<rect x="326" y="90" width="30.5" height="3.5" fill="#d6090b"/>
<rect x="356" y="90" width="6.5" height="3.5" fill="#d1090a"/>
<rect x="362" y="90" width="6.5" height="3.5" fill="#cb080a"/>
<rect x="368" y="90" width="6.5" height="3.5" fill="#c60809"/>
<rect x="374" y="90" width="3.5" height="3.5" fill="#c10808"/>
<rect x="242" y="93" width="3.5" height="3.5" fill="#8d0808"/>
<rect x="245" y="93" width="3.5" height="3.5" fill="#950808"/>
<rect x="248" y="93" width="3.5" height="3.5" fill="#9e0707"/>
<rect x="251" y="93" width="3.5" height="3.5" fill="#a50707"/>
<rect x="254" y="93" width="3.5" height="3.5" fill="#ac0606"/>
<rect x="257" y="93" width="6.5" height="3.5" fill="#b10606"/>
<rect x="263" y="93" width="6.5" height="3.5" fill="#b60707"/>
<rect x="269" y="93" width="6.5" height="3.5" fill="#ba0707"/>
<rect x="275" y="93" width="3.5" height="3.5" fill="#c00708"/>
<rect x="278" y="93" width="6.5" height="3.5" fill="#c40809"/>
<rect x="284" y="93" width="6.5" height="3.5" fill="#c90809"/>
<rect x="290" y="93" width="3.5" height="3.5" fill="#cf090a"/>
<rect x="293" y="93" width="3.5" height="3.5" fill="#d3090b"/>
<rect x="296" y="93" width="3.5" height="3.5" fill="#d80a0b"/>
<rect x="299" y="93" width="9.5" height="3.5" fill="#de0a0c"/>
<rect x="308" y="93" width="45.5" height="3.5" fill="#df0a0c"/>
<rect x="353" y="93" width="6.5" height="3.5" fill="#db0a0c"/>
<rect x="359" y="93" width="6.5" height="3.5" fill="#d5090b"/>
<rect x="365" y="93" width="6.5" height="3.5" fill="#d0090a"/>
<rect x="371" y="93" width="3.5" height="3.5" fill="#cb080a"/>
<rect x="239" y="96" width="3.5" height="3.5" fill="#9c0707"/>
<rect x="242" y="96" width="3.5" height="3.5" fill="#a50707"/>
<rect x="245" y="96" width="3.5" height="3.5" fill="#b00606"/>
<rect x="248" y="96" width="3.5" height="3.5" fill="#b90707"/>
<rect x="251" y="96" width="3.5" height="3.5" fill="#c20808"/>
<rect x="254" y="96" width="3.5" height="3.5" fill="#cb080a"/>
<rect x="257" y="96" width="15.5" height="3.5" fill="#d1090a"/>
<rect x="272" y="96" width="6.5" height="3.5" fill="#d5090b"/>
<rect x="278" y="96" width="12.5" height="3.5" fill="#dc0a0c"/>
<rect x="290" y="96" width="6.5" height="3.5" fill="#df0a0c"/>
<rect x="296" y="96" width="6.5" height="3.5" fill="#e30a0c"/>
<rect x="302" y="96" width="21.5" height="3.5" fill="#e90a0c"/>
<rect x="323" y="96" width="24.5" height="3.5" fill="#e40a0c"/>
<rect x="347" y="96" width="9.5" height="3.5" fill="#e00a0c"/>
<rect x="356" y="96" width="6.5" height="3.5" fill="#dd0a0c"/>
<rect x="362" y="96" width="6.5" height="3.5" fill="#d90a0c"/>
<rect x="368" y="96" width="6.5" height="3.5" fill="#d4090b"/>
<rect x="236" y="99" width="3.5" height="3.5" fill="#a70707"/>
<rect x="239" y="99" width="3.5" height="3.5" fill="#b00606"/>
<rect x="242" y="99" width="3.5" height="3.5" fill="#b90707"/>
<rect x="245" y="99" width="3.5" height="3.5" fill="#c20808"/>
<rect x="248" y="99" width="3.5" height="3.5" fill="#cd090a"/>
<rect x="251" y="99" width="3.5" height="3.5" fill="#d70a0b"/>
<rect x="254" y="99" width="6.5" height="3.5" fill="#de0a0c"/>
<rect x="260" y="99" width="27.5" height="3.5" fill="#e20a0c"/>
<rect x="287" y="99" width="9.5" height="3.5" fill="#e70a0c"/>
<rect x="296" y="99" width="6.5" height="3.5" fill="#ea0a0c"/>
<rect x="302" y="99" width="15.5" height="3.5" fill="#f10a0c"/>
<rect x="317" y="99" width="12.5" height="3.5" fill="#eb0a0c"/>
<rect x="329" y="99" width="18.5" height="3.5" fill="#e70a0c"/>
<rect x="347" y="99" width="9.5" height="3.5" fill="#e30a0c"/>
<rect x="356" y="99" width="9.5" height="3.5" fill="#df0a0c"/>
<rect x="365" y="99" width="6.5" height="3.5" fill="#dc0a0c"/>
<rect x="233" y="102" width="3.5" height="3.5" fill="#b20606"/>
<rect x="236" y="102" width="3.5" height="3.5" fill="#b80707"/>
<rect x="239" y="102" width="3.5" height="3.5" fill="#bf0708"/>
<rect x="242" y="102" width="3.5" height="3.5" fill="#c70809"/>
<rect x="245" y="102" width="3.5" height="3.5" fill="#d1090b"/>
<rect x="248" y="102" width="3.5" height="3.5" fill="#dc0a0c"/>
<rect x="251" y="102" width="3.5" height="3.5" fill="#e10a0c"/>
<rect x="254" y="102" width="6.5" height="3.5" fill="#e50a0c"/>
<rect x="260" y="102" width="30.5" height="3.5" fill="#ea0a0c"/>
<rect x="290" y="102" width="12.5" height="3.5" fill="#ed0a0c"/>
<rect x="302" y="102" width="21.5" height="3.5" fill="#f20a0c"/>
<rect x="323" y="102" width="9.5" height="3.5" fill="#ed0a0c"/>
<rect x="332" y="102" width="15.5" height="3.5" fill="#e80a0c"/>
<rect x="347" y="102" width="12.5" height="3.5" fill="#e50a0c"/>
<rect x="359" y="102" width="9.5" height="3.5" fill="#e00a0c"/>
<rect x="230" y="105" width="3.5" height="3.5" fill="#bc0708"/>
<rect x="233" y="105" width="3.5" height="3.5" fill="#c00708"/>
<rect x="236" y="105" width="3.5" height="3.5" fill="#c50809"/>
<rect x="239" y="105" width="3.5" height="3.5" fill="#cc090a"/>
<rect x="242" y="105" width="3.5" height="3.5" fill="#d4090b"/>
<rect x="245" y="105" width="3.5" height="3.5" fill="#dd0a0c"/>
<rect x="248" y="105" width="3.5" height="3.5" fill="#e20a0c"/>
<rect x="251" y="105" width="3.5" height="3.5" fill="#e60a0c"/>
<rect x="254" y="105" width="6.5" height="3.5" fill="#ea0a0c"/>
<rect x="260" y="105" width="36.5" height="3.5" fill="#f00a0c"/>
<rect x="296" y="105" width="33.5" height="3.5" fill="#f20a0c"/>
<rect x="329" y="105" width="9.5" height="3.5" fill="#ec0a0c"/>
<rect x="338" y="105" width="15.5" height="3.5" fill="#e90a0c"/>
<rect x="353" y="105" width="12.5" height="3.5" fill="#e50a0c"/>
<rect x="230" y="108" width="3.5" height="3.5" fill="#cb080a"/>
<rect x="233" y="108" width="3.5" height="3.5" fill="#cf090a"/>
<rect x="236" y="108" width="3.5" height="3.5" fill="#d3090b"/>
<rect x="239" y="108" width="3.5" height="3.5" fill="#d90a0c"/>
<rect x="242" y="108" width="3.5" height="3.5" fill="#de0a0c"/>
<rect x="245" y="108" width="3.5" height="3.5" fill="#e30a0c"/>
<rect x="248" y="108" width="3.5" height="3.5" fill="#e70a0c"/>
<rect x="251" y="108" width="6.5" height="3.5" fill="#eb0a0c"/>
<rect x="257" y="108" width="78.5" height="3.5" fill="#f20a0c"/>
<rect x="335" y="108" width="18.5" height="3.5" fill="#eb0a0c"/>
<rect x="353" y="108" width="12.5" height="3.5" fill="#e70a0c"/>
<rect x="227" y="111" width="3.5" height="3.5" fill="#d5090b"/>
<rect x="230" y="111" width="6.5" height="3.5" fill="#d90a0c"/>
<rect x="236" y="111" width="6.5" height="3.5" fill="#df0a0c"/>
<rect x="242" y="111" width="3.5" height="3.5" fill="#e40a0c"/>
<rect x="245" y="111" width="6.5" height="3.5" fill="#e80a0c"/>
<rect x="251" y="111" width="6.5" height="3.5" fill="#ee0a0c"/>
<rect x="257" y="111" width="78.5" height="3.5" fill="#f30a0b"/>
<rect x="335" y="111" width="27.5" height="3.5" fill="#ec0a0c"/>
<rect x="224" y="114" width="6.5" height="3.5" fill="#de0a0c"/>
<rect x="230" y="114" width="9.5" height="3.5" fill="#e30a0c"/>
<rect x="239" y="114" width="6.5" height="3.5" fill="#e80a0c"/>
<rect x="245" y="114" width="6.5" height="3.5" fill="#ed0a0c"/>
<rect x="251" y="114" width="102.5" height="3.5" fill="#f40b0b"/>
<rect x="353" y="114" width="6.5" height="3.5" fill="#ee0a0c"/>
<rect x="221" y="117" width="6.5" height="3.5" fill="#e20a0c"/>
<rect x="227" y="117" width="6.5" height="3.5" fill="#e60a0c"/>
<rect x="233" y="117" width="9.5" height="3.5" fill="#ec0a0c"/>
<rect x="242" y="117" width="9.5" height="3.5" fill="#f10a0c"/>
<rect x="251" y="117" width="105.5" height="3.5" fill="#f50b0a"/>
<rect x="221" y="120" width="6.5" height="3.5" fill="#e80a0c"/>
<rect x="227" y="120" width="6.5" height="3.5" fill="#ec0a0c"/>
<rect x="233" y="120" width="18.5" height="3.5" fill="#f20a0c"/>
<rect x="251" y="120" width="102.5" height="3.5" fill="#f50b0a"/>
<rect x="218" y="123" width="6.5" height="3.5" fill="#ea0a0c"/>
<rect x="224" y="123" width="9.5" height="3.5" fill="#f10a0c"/>
<rect x="233" y="123" width="117.5" height="3.5" fill="#f50b0a"/>
<rect x="215" y="126" width="6.5" height="3.5" fill="#ec0a0c"/>
<rect x="221" y="126" width="54.5" height="3.5" fill="#f50b0a"/>
<rect x="275" y="126" width="75.5" height="3.5" fill="#f70c09"/>
<rect x="212" y="129" width="6.5" height="3.5" fill="#ed0a0c"/>
<rect x="218" y="129" width="33.5" height="3.5" fill="#f50b0a"/>
<rect x="251" y="129" width="81.5" height="3.5" fill="#f70c09"/>
<rect x="332" y="129" width="15.5" height="3.5" fill="#f91007"/>
<rect x="209" y="132" width="6.5" height="3.5" fill="#ef0a0c"/>
<rect x="215" y="132" width="45.5" height="3.5" fill="#f60b09"/>
<rect x="260" y="132" width="30.5" height="3.5" fill="#f70c09"/>
<rect x="290" y="132" width="21.5" height="3.5" fill="#f91007"/>
<rect x="311" y="132" width="3.5" height="3.5" fill="#fa1506"/>
<rect x="314" y="132" width="3.5" height="3.5" fill="#fb1a05"/>
<rect x="317" y="132" width="6.5" height="3.5" fill="#fc1f04"/>
<rect x="323" y="132" width="6.5" height="3.5" fill="#fd2403"/>
<rect x="329" y="132" width="15.5" height="3.5" fill="#fe2a01"/>
<rect x="206" y="135" width="15.5" height="3.5" fill="#f30a0b"/>
<rect x="221" y="135" width="42.5" height="3.5" fill="#f70c09"/>
<rect x="263" y="135" width="3.5" height="3.5" fill="#f90f07"/>
<rect x="266" y="135" width="18.5" height="3.5" fill="#fa1506"/>
<rect x="284" y="135" width="3.5" height="3.5" fill="#fb1c04"/>
<rect x="287" y="135" width="3.5" height="3.5" fill="#fc2303"/>
<rect x="290" y="135" width="15.5" height="3.5" fill="#fe2902"/>
<rect x="305" y="135" width="3.5" height="3.5" fill="#fc2203"/>
<rect x="308" y="135" width="3.5" height="3.5" fill="#fd2602"/>
<rect x="311" y="135" width="3.5" height="3.5" fill="#fe2c01"/>
<rect x="314" y="135" width="3.5" height="3.5" fill="#ff3500"/>
<rect x="317" y="135" width="3.5" height="3.5" fill="#ff4200"/>
<rect x="320" y="135" width="3.5" height="3.5" fill="#ff4c00"/>
<rect x="323" y="135" width="3.5" height="3.5" fill="#ff5400"/>
<rect x="326" y="135" width="12.5" height="3.5" fill="#ff5c00"/>
<rect x="203" y="138" width="24.5" height="3.5" fill="#f40b0b"/>
<rect x="227" y="138" width="21.5" height="3.5" fill="#f70c08"/>
<rect x="248" y="138" width="9.5" height="3.5" fill="#f91307"/>
<rect x="257" y="138" width="3.5" height="3.5" fill="#fa1805"/>
<rect x="260" y="138" width="3.5" height="3.5" fill="#fc1f04"/>
<rect x="263" y="138" width="3.5" height="3.5" fill="#fd2702"/>
<rect x="266" y="138" width="3.5" height="3.5" fill="#ff2e01"/>
<rect x="269" y="138" width="9.5" height="3.5" fill="#ff3500"/>
<rect x="278" y="138" width="3.5" height="3.5" fill="#ff2e01"/>
<rect x="281" y="138" width="3.5" height="3.5" fill="#ff3700"/>
<rect x="284" y="138" width="3.5" height="3.5" fill="#ff4700"/>
<rect x="287" y="138" width="3.5" height="3.5" fill="#ff5300"/>
<rect x="290" y="138" width="6.5" height="3.5" fill="#ff5b00"/>
<rect x="296" y="138" width="6.5" height="3.5" fill="#ff5f00"/>
<rect x="302" y="138" width="9.5" height="3.5" fill="#ff5400"/>
<rect x="311" y="138" width="3.5" height="3.5" fill="#ff6300"/>
<rect x="314" y="138" width="3.5" height="3.5" fill="#ff7000"/>
<rect x="317" y="138" width="3.5" height="3.5" fill="#ff7800"/>
<rect x="320" y="138" width="3.5" height="3.5" fill="#ff8000"/>
<rect x="323" y="138" width="6.5" height="3.5" fill="#ff8600"/>
<rect x="329" y="138" width="6.5" height="3.5" fill="#ff8a00"/>
<rect x="200" y="141" width="24.5" height="3.5" fill="#f50b0a"/>
<rect x="224" y="141" width="15.5" height="3.5" fill="#f80c08"/>
<rect x="239" y="141" width="3.5" height="3.5" fill="#f91306"/>
<rect x="242" y="141" width="3.5" height="3.5" fill="#fb1a05"/>
<rect x="245" y="141" width="3.5" height="3.5" fill="#fc2103"/>
<rect x="248" y="141" width="3.5" height="3.5" fill="#fd2702"/>
<rect x="251" y="141" width="6.5" height="3.5" fill="#fe2c01"/>
<rect x="257" y="141" width="3.5" height="3.5" fill="#ff3700"/>
<rect x="260" y="141" width="3.5" height="3.5" fill="#ff4b00"/>
<rect x="263" y="141" width="3.5" height="3.5" fill="#ff5f00"/>
<rect x="266" y="141" width="3.5" height="3.5" fill="#ff7000"/>
<rect x="269" y="141" width="3.5" height="3.5" fill="#ff7700"/>
<rect x="272" y="141" width="6.5" height="3.5" fill="#ff7c00"/>
<rect x="278" y="141" width="6.5" height="3.5" fill="#ff8100"/>
<rect x="284" y="141" width="3.5" height="3.5" fill="#ff8800"/>
<rect x="287" y="141" width="24.5" height="3.5" fill="#ff8f00"/>
<rect x="311" y="141" width="3.5" height="3.5" fill="#ff9000"/>
<rect x="314" y="141" width="3.5" height="3.5" fill="#ff9500"/>
<rect x="317" y="141" width="3.5" height="3.5" fill="#ff9d00"/>
<rect x="320" y="141" width="3.5" height="3.5" fill="#ffa500"/>
<rect x="323" y="141" width="9.5" height="3.5" fill="#ffaf00"/>
<rect x="197" y="144" width="27.5" height="3.5" fill="#f60b0a"/>
<rect x="224" y="144" width="6.5" height="3.5" fill="#f80c08"/>
<rect x="230" y="144" width="3.5" height="3.5" fill="#f91007"/>
<rect x="233" y="144" width="3.5" height="3.5" fill="#fa1506"/>
<rect x="236" y="144" width="3.5" height="3.5" fill="#fb1b05"/>
<rect x="239" y="144" width="3.5" height="3.5" fill="#fc2203"/>
<rect x="242" y="144" width="3.5" height="3.5" fill="#ff2e01"/>
<rect x="245" y="144" width="3.5" height="3.5" fill="#ff4400"/>
<rect x="248" y="144" width="3.5" height="3.5" fill="#ff5a00"/>
<rect x="251" y="144" width="3.5" height="3.5" fill="#ff6c00"/>
<rect x="254" y="144" width="3.5" height="3.5" fill="#ff7400"/>
<rect x="257" y="144" width="3.5" height="3.5" fill="#ff7c00"/>
<rect x="260" y="144" width="3.5" height="3.5" fill="#ff8700"/>
<rect x="263" y="144" width="3.5" height="3.5" fill="#ff9400"/>
<rect x="266" y="144" width="3.5" height="3.5" fill="#ff9f00"/>
<rect x="269" y="144" width="3.5" height="3.5" fill="#ffa900"/>
<rect x="272" y="144" width="3.5" height="3.5" fill="#ffb100"/>
<rect x="275" y="144" width="3.5" height="3.5" fill="#fdb800"/>
<rect x="278" y="144" width="12.5" height="3.5" fill="#fcbf00"/>
<rect x="290" y="144" width="21.5" height="3.5" fill="#fcbb00"/>
<rect x="311" y="144" width="6.5" height="3.5" fill="#fdb700"/>
<rect x="317" y="144" width="3.5" height="3.5" fill="#fcbf00"/>
<rect x="320" y="144" width="3.5" height="3.5" fill="#fac700"/>
<rect x="323" y="144" width="6.5" height="3.5" fill="#f8cd00"/>
<rect x="194" y="147" width="30.5" height="3.5" fill="#f60b09"/>
<rect x="224" y="147" width="3.5" height="3.5" fill="#f91007"/>
<rect x="227" y="147" width="3.5" height="3.5" fill="#fa1706"/>
<rect x="230" y="147" width="3.5" height="3.5" fill="#fc1e04"/>
<rect x="233" y="147" width="3.5" height="3.5" fill="#fd2502"/>
<rect x="236" y="147" width="3.5" height="3.5" fill="#fe2d01"/>
<rect x="239" y="147" width="3.5" height="3.5" fill="#ff3f00"/>
<rect x="242" y="147" width="3.5" height="3.5" fill="#ff5f00"/>
<rect x="245" y="147" width="3.5" height="3.5" fill="#ff7a00"/>
<rect x="248" y="147" width="3.5" height="3.5" fill="#ff8d00"/>
<rect x="251" y="147" width="3.5" height="3.5" fill="#ff9d00"/>
<rect x="254" y="147" width="3.5" height="3.5" fill="#ffa900"/>
<rect x="257" y="147" width="3.5" height="3.5" fill="#ffb100"/>
<rect x="260" y="147" width="3.5" height="3.5" fill="#fdba00"/>
<rect x="263" y="147" width="3.5" height="3.5" fill="#fac400"/>
<rect x="266" y="147" width="3.5" height="3.5" fill="#f8cf00"/>
<rect x="269" y="147" width="3.5" height="3.5" fill="#f6d800"/>
<rect x="272" y="147" width="3.5" height="3.5" fill="#f4e100"/>
<rect x="275" y="147" width="3.5" height="3.5" fill="#f2e900"/>
<rect x="278" y="147" width="9.5" height="3.5" fill="#f0ef00"/>
<rect x="287" y="147" width="6.5" height="3.5" fill="#f2e900"/>
<rect x="293" y="147" width="15.5" height="3.5" fill="#f3e300"/>
<rect x="308" y="147" width="3.5" height="3.5" fill="#f5dc00"/>
<rect x="311" y="147" width="6.5" height="3.5" fill="#f6d700"/>
<rect x="317" y="147" width="3.5" height="3.5" fill="#f4de00"/>
<rect x="320" y="147" width="3.5" height="3.5" fill="#f3e400"/>
<rect x="194" y="150" width="24.5" height="3.5" fill="#f70c09"/>
<rect x="218" y="150" width="3.5" height="3.5" fill="#f91007"/>
<rect x="221" y="150" width="3.5" height="3.5" fill="#fa1606"/>
<rect x="224" y="150" width="3.5" height="3.5" fill="#fb1d04"/>
<rect x="227" y="150" width="3.5" height="3.5" fill="#fd2702"/>
<rect x="230" y="150" width="3.5" height="3.5" fill="#ff3300"/>
<rect x="233" y="150" width="3.5" height="3.5" fill="#ff4900"/>
<rect x="236" y="150" width="3.5" height="3.5" fill="#ff6100"/>
<rect x="239" y="150" width="3.5" height="3.5" fill="#ff7700"/>
<rect x="242" y="150" width="3.5" height="3.5" fill="#ff8d00"/>
<rect x="245" y="150" width="3.5" height="3.5" fill="#ffa300"/>
<rect x="248" y="150" width="3.5" height="3.5" fill="#fdb800"/>
<rect x="251" y="150" width="3.5" height="3.5" fill="#f9cb00"/>
<rect x="254" y="150" width="3.5" height="3.5" fill="#f5d900"/>
<rect x="257" y="150" width="3.5" height="3.5" fill="#f3e100"/>
<rect x="260" y="150" width="3.5" height="3.5" fill="#f2e900"/>
<rect x="263" y="150" width="3.5" height="3.5" fill="#eef000"/>
<rect x="302" y="150" width="3.5" height="3.5" fill="#d7f000"/>
<rect x="305" y="150" width="3.5" height="3.5" fill="#ddf000"/>
<rect x="308" y="150" width="3.5" height="3.5" fill="#e6f000"/>
<rect x="311" y="150" width="6.5" height="3.5" fill="#ebf000"/>
<rect x="191" y="153" width="18.5" height="3.5" fill="#f70c08"/>
<rect x="209" y="153" width="6.5" height="3.5" fill="#f91107"/>
<rect x="215" y="153" width="3.5" height="3.5" fill="#fa1805"/>
<rect x="218" y="153" width="3.5" height="3.5" fill="#fb1d04"/>
<rect x="221" y="153" width="3.5" height="3.5" fill="#fd2403"/>
<rect x="224" y="153" width="3.5" height="3.5" fill="#fe2d01"/>
<rect x="227" y="153" width="3.5" height="3.5" fill="#ff4500"/>
<rect x="230" y="153" width="3.5" height="3.5" fill="#ff6300"/>
<rect x="233" y="153" width="3.5" height="3.5" fill="#ff7c00"/>
<rect x="236" y="153" width="3.5" height="3.5" fill="#ff9000"/>
<rect x="239" y="153" width="3.5" height="3.5" fill="#ffa500"/>
<rect x="242" y="153" width="3.5" height="3.5" fill="#fdb900"/>
<rect x="245" y="153" width="3.5" height="3.5" fill="#f8cd00"/>
<rect x="248" y="153" width="3.5" height="3.5" fill="#f4e100"/>
<rect x="251" y="153" width="3.5" height="3.5" fill="#edf000"/>
<rect x="188" y="156" width="9.5" height="3.5" fill="#f70c08"/>
<rect x="197" y="156" width="3.5" height="3.5" fill="#f91107"/>
<rect x="200" y="156" width="6.5" height="3.5" fill="#fa1506"/>
<rect x="206" y="156" width="6.5" height="3.5" fill="#fb1a05"/>
<rect x="212" y="156" width="3.5" height="3.5" fill="#fc2004"/>
<rect x="215" y="156" width="3.5" height="3.5" fill="#fd2602"/>
<rect x="218" y="156" width="3.5" height="3.5" fill="#fe2d01"/>
<rect x="221" y="156" width="3.5" height="3.5" fill="#ff3b00"/>
<rect x="224" y="156" width="3.5" height="3.5" fill="#ff5300"/>
<rect x="227" y="156" width="3.5" height="3.5" fill="#ff7300"/>
<rect x="230" y="156" width="3.5" height="3.5" fill="#ff8a00"/>
<rect x="233" y="156" width="3.5" height="3.5" fill="#ffa100"/>
<rect x="236" y="156" width="3.5" height="3.5" fill="#fdb900"/>
<rect x="239" y="156" width="3.5" height="3.5" fill="#f8cf00"/>
<rect x="242" y="156" width="3.5" height="3.5" fill="#f3e200"/>
<rect x="185" y="159" width="6.5" height="3.5" fill="#f70c08"/>
<rect x="191" y="159" width="3.5" height="3.5" fill="#f91107"/>
<rect x="194" y="159" width="3.5" height="3.5" fill="#fa1706"/>
<rect x="197" y="159" width="3.5" height="3.5" fill="#fb1d04"/>
<rect x="200" y="159" width="6.5" height="3.5" fill="#fc2103"/>
<rect x="206" y="159" width="6.5" height="3.5" fill="#fd2602"/>
<rect x="212" y="159" width="3.5" height="3.5" fill="#ff2f00"/>
<rect x="215" y="159" width="3.5" height="3.5" fill="#ff4000"/>
<rect x="218" y="159" width="3.5" height="3.5" fill="#ff5600"/>
<rect x="221" y="159" width="3.5" height="3.5" fill="#ff6d00"/>
<rect x="224" y="159" width="3.5" height="3.5" fill="#ff7f00"/>
<rect x="227" y="159" width="3.5" height="3.5" fill="#ff9600"/>
<rect x="230" y="159" width="3.5" height="3.5" fill="#ffaf00"/>
<rect x="233" y="159" width="3.5" height="3.5" fill="#fac600"/>
<rect x="236" y="159" width="3.5" height="3.5" fill="#f4dd00"/>
<rect x="185" y="162" width="3.5" height="3.5" fill="#f91307"/>
<rect x="188" y="162" width="3.5" height="3.5" fill="#fa1805"/>
<rect x="191" y="162" width="3.5" height="3.5" fill="#fb1e04"/>
<rect x="194" y="162" width="3.5" height="3.5" fill="#fd2303"/>
<rect x="197" y="162" width="3.5" height="3.5" fill="#fe2902"/>
<rect x="200" y="162" width="3.5" height="3.5" fill="#fe2d01"/>
<rect x="203" y="162" width="3.5" height="3.5" fill="#ff3100"/>
<rect x="206" y="162" width="3.5" height="3.5" fill="#ff3900"/>
<rect x="209" y="162" width="3.5" height="3.5" fill="#ff4300"/>
<rect x="212" y="162" width="3.5" height="3.5" fill="#ff5500"/>
<rect x="215" y="162" width="3.5" height="3.5" fill="#ff7000"/>
<rect x="218" y="162" width="3.5" height="3.5" fill="#ff8200"/>
<rect x="221" y="162" width="3.5" height="3.5" fill="#ff9500"/>
<rect x="224" y="162" width="3.5" height="3.5" fill="#ffaa00"/>
<rect x="227" y="162" width="3.5" height="3.5" fill="#fcbe00"/>
<rect x="230" y="162" width="3.5" height="3.5" fill="#f7d400"/>
<rect x="233" y="162" width="3.5" height="3.5" fill="#f1ea00"/>
<rect x="179" y="165" width="9.5" height="3.5" fill="#fc2004"/>
<rect x="188" y="165" width="3.5" height="3.5" fill="#fd2802"/>
<rect x="191" y="165" width="3.5" height="3.5" fill="#fe2d01"/>
<rect x="194" y="165" width="3.5" height="3.5" fill="#ff3200"/>
<rect x="197" y="165" width="3.5" height="3.5" fill="#ff3a00"/>
<rect x="200" y="165" width="3.5" height="3.5" fill="#ff4400"/>
<rect x="203" y="165" width="3.5" height="3.5" fill="#ff5000"/>
<rect x="206" y="165" width="3.5" height="3.5" fill="#ff5f00"/>
<rect x="209" y="165" width="3.5" height="3.5" fill="#ff7000"/>
<rect x="212" y="165" width="3.5" height="3.5" fill="#ff7e00"/>
<rect x="215" y="165" width="3.5" height="3.5" fill="#ff9100"/>
<rect x="218" y="165" width="3.5" height="3.5" fill="#ffa600"/>
<rect x="221" y="165" width="3.5" height="3.5" fill="#fcbc00"/>
<rect x="224" y="165" width="3.5" height="3.5" fill="#f7d200"/>
<rect x="227" y="165" width="3.5" height="3.5" fill="#f3e500"/>
<rect x="173" y="168" width="3.5" height="3.5" fill="#ff4200"/>
<rect x="176" y="168" width="6.5" height="3.5" fill="#ff3d00"/>
<rect x="182" y="168" width="3.5" height="3.5" fill="#ff3900"/>
<rect x="185" y="168" width="3.5" height="3.5" fill="#ff3f00"/>
<rect x="188" y="168" width="3.5" height="3.5" fill="#ff4800"/>
<rect x="191" y="168" width="3.5" height="3.5" fill="#ff4e00"/>
<rect x="194" y="168" width="3.5" height="3.5" fill="#ff5300"/>
<rect x="197" y="168" width="3.5" height="3.5" fill="#ff5800"/>
<rect x="200" y="168" width="3.5" height="3.5" fill="#ff6300"/>
<rect x="203" y="168" width="3.5" height="3.5" fill="#ff7300"/>
<rect x="206" y="168" width="3.5" height="3.5" fill="#ff8000"/>
<rect x="209" y="168" width="3.5" height="3.5" fill="#ff9000"/>
<rect x="212" y="168" width="3.5" height="3.5" fill="#ffa100"/>
<rect x="215" y="168" width="3.5" height="3.5" fill="#feb500"/>
<rect x="218" y="168" width="3.5" height="3.5" fill="#f9c900"/>
<rect x="221" y="168" width="3.5" height="3.5" fill="#f4df00"/>
<rect x="224" y="168" width="3.5" height="3.5" fill="#ebf000"/>
<rect x="167" y="171" width="6.5" height="3.5" fill="#ff7500"/>
<rect x="173" y="171" width="3.5" height="3.5" fill="#ff6d00"/>
<rect x="176" y="171" width="9.5" height="3.5" fill="#ff6600"/>
<rect x="185" y="171" width="3.5" height="3.5" fill="#ff6e00"/>
<rect x="188" y="171" width="9.5" height="3.5" fill="#ff7500"/>
<rect x="197" y="171" width="3.5" height="3.5" fill="#ff7700"/>
<rect x="200" y="171" width="3.5" height="3.5" fill="#ff7e00"/>
<rect x="203" y="171" width="3.5" height="3.5" fill="#ff8b00"/>
<rect x="206" y="171" width="3.5" height="3.5" fill="#ff9c00"/>
<rect x="209" y="171" width="3.5" height="3.5" fill="#ffb000"/>
<rect x="212" y="171" width="3.5" height="3.5" fill="#fbc300"/>
<rect x="215" y="171" width="3.5" height="3.5" fill="#f6d500"/>
<rect x="218" y="171" width="3.5" height="3.5" fill="#f2e900"/>
<rect x="164" y="174" width="6.5" height="3.5" fill="#ff8f00"/>
<rect x="170" y="174" width="6.5" height="3.5" fill="#ff8a00"/>
<rect x="176" y="174" width="9.5" height="3.5" fill="#ff8500"/>
<rect x="185" y="174" width="3.5" height="3.5" fill="#ff8a00"/>
<rect x="188" y="174" width="12.5" height="3.5" fill="#ff8e00"/>
<rect x="200" y="174" width="3.5" height="3.5" fill="#ff9700"/>
<rect x="203" y="174" width="3.5" height="3.5" fill="#ffa500"/>
<rect x="206" y="174" width="3.5" height="3.5" fill="#fdb800"/>
<rect x="209" y="174" width="3.5" height="3.5" fill="#f8cc00"/>
<rect x="212" y="174" width="3.5" height="3.5" fill="#f4e100"/>
<rect x="215" y="174" width="3.5" height="3.5" fill="#ecf000"/>
<rect x="167" y="177" width="6.5" height="3.5" fill="#ffa500"/>
<rect x="173" y="177" width="12.5" height="3.5" fill="#ff9e00"/>
<rect x="185" y="177" width="12.5" height="3.5" fill="#ffa500"/>
<rect x="197" y="177" width="3.5" height="3.5" fill="#ffa900"/>
<rect x="200" y="177" width="3.5" height="3.5" fill="#ffb100"/>
<rect x="203" y="177" width="3.5" height="3.5" fill="#fcbe00"/>
<rect x="206" y="177" width="3.5" height="3.5" fill="#f7d000"/>
<rect x="209" y="177" width="3.5" height="3.5" fill="#f3e500"/>
<rect x="173" y="180" width="18.5" height="3.5" fill="#feb600"/>
<rect x="191" y="180" width="6.5" height="3.5" fill="#fcbb00"/>
<rect x="197" y="180" width="3.5" height="3.5" fill="#fbc000"/>
<rect x="200" y="180" width="3.5" height="3.5" fill="#f9c800"/>
<rect x="203" y="180" width="3.5" height="3.5" fill="#f6d500"/>
<rect x="206" y="180" width="3.5" height="3.5" fill="#f2e700"/>
<rect x="179" y="183" width="9.5" height="3.5" fill="#f8cd00"/>
<rect x="188" y="183" width="9.5" height="3.5" fill="#f7d100"/>
<rect x="197" y="183" width="3.5" height="3.5" fill="#f6d800"/>
<rect x="200" y="183" width="3.5" height="3.5" fill="#f4e000"/>
<rect x="203" y="183" width="3.5" height="3.5" fill="#f1ed00"/>
<rect x="185" y="186" width="9.5" height="3.5" fill="#f2e600"/>
<rect x="194" y="186" width="3.5" height="3.5" fill="#f1eb00"/>
<rect x="197" y="186" width="3.5" height="3.5" fill="#eff000"/>
<rect x="194" y="189" width="3.5" height="3.5" fill="#d8f000"/>
</g>
<polyline points="244,92 257.5,88.5 275,86 297,80.5 329.75,73.5 372.5,60.5 390,56.5 413,48" fill="none" stroke="#700808" stroke-width="5" opacity="0.6" filter="url(#bl2)"/>
<polygon points="246,92 237.5,101.5 225,119 212.5,134 200,146.5 185,166.5 175,172 195,176 220,158 245,135 262,118 300,100 300,84 275,89" fill="#a80a0a" opacity="0.32" filter="url(#bl5)"/>
<polygon points="246,92 237.5,101.5 225,119 212.5,134 200,146.5 185,166.5 167.5,174 175,177 193,161 210,143 224,127 238,107 254,96 275,90" fill="#a00a0a" opacity="0.45" filter="url(#bl1_5)"/>
</g>
</g>
<g id="axes">
<line x1="51.5" y1="33.0" x2="62.4" y2="303.5" class="ax" />
<line x1="62.4" y1="303.5" x2="273.0" y2="380.5" class="ax" />
<line x1="273.0" y1="380.5" x2="441.0" y2="292.5" class="ax" />
<line x1="51.5" y1="33.0" x2="56.4" y2="32.2" class="tk" />
<line x1="53.4" y1="79.9" x2="58.3" y2="78.9" class="tk" />
<line x1="55.3" y1="126.8" x2="60.1" y2="125.7" class="tk" />
<line x1="57.1" y1="172.7" x2="62.0" y2="171.4" class="tk" />
<line x1="58.9" y1="217.1" x2="63.7" y2="215.6" class="tk" />
<line x1="60.7" y1="260.8" x2="65.4" y2="259.2" class="tk" />
<line x1="67.1" y1="305.2" x2="72.7" y2="303.1" class="tk" />
<line x1="110.9" y1="321.2" x2="116.5" y2="319.0" class="tk" />
<line x1="157.4" y1="338.2" x2="162.9" y2="335.9" class="tk" />
<line x1="207.5" y1="356.5" x2="212.9" y2="354.0" class="tk" />
<line x1="264.2" y1="377.3" x2="269.5" y2="374.5" class="tk" />
<line x1="88.6" y1="313.1" x2="91.8" y2="311.8" class="tk" />
<line x1="133.7" y1="329.6" x2="136.9" y2="328.2" class="tk" />
<line x1="181.9" y1="347.2" x2="185.1" y2="345.8" class="tk" />
<line x1="235.2" y1="366.7" x2="238.4" y2="365.1" class="tk" />
<line x1="278.6" y1="377.6" x2="272.9" y2="375.5" class="tk" />
<line x1="325.3" y1="353.1" x2="319.6" y2="351.2" class="tk" />
<line x1="365.6" y1="332.0" x2="359.9" y2="330.2" class="tk" />
<line x1="402.1" y1="312.9" x2="396.4" y2="311.2" class="tk" />
<line x1="435.9" y1="295.2" x2="430.1" y2="293.6" class="tk" />
<line x1="302.5" y1="365.0" x2="299.2" y2="363.9" class="tk" />
<line x1="345.9" y1="342.3" x2="342.6" y2="341.2" class="tk" />
<line x1="384.3" y1="322.2" x2="380.9" y2="321.2" class="tk" />
<line x1="419.4" y1="303.8" x2="416.0" y2="302.9" class="tk" />
<text x="27" y="22" class="t21 b" text-anchor="start" >(a)</text>
<text x="48" y="89.5" class="t21" text-anchor="end" >1.0</text>
<text x="53" y="183" class="t21" text-anchor="end" >0.0</text>
<text x="55" y="271" class="t21" text-anchor="end" >-1.0</text>
<text x="35" y="326" class="t21" text-anchor="start" >0.3</text>
<text x="126" y="359" class="t21" text-anchor="start" >0.5</text>
<text x="236.5" y="397.5" class="t21" text-anchor="start" >0.7</text>
<text x="280" y="390.5" class="t21" text-anchor="start" >-0.2</text>
<text x="369" y="348.5" class="t21" text-anchor="start" >0.0</text>
<text x="440.5" y="309.5" class="t21" text-anchor="start" >0.2</text>
<text transform="translate(16.5,170.5) rotate(-90)" class="t21" text-anchor="middle">Energy (eV)</text>
<text transform="translate(88,369.5) rotate(25) scale(1.05,0.93)" class="t21">kx (b<tspan font-size="13" dy="4">1</tspan><tspan dy="-4" dx="3">)</tspan></text>
<text transform="translate(376.5,383) rotate(-30) scale(1.1,0.86)" class="t21">ky (b<tspan font-size="13" dy="4">2</tspan><tspan dy="-4" dx="1">)</tspan></text>
<rect x="279" y="116" width="71" height="66" fill="none" stroke="#000" stroke-width="2.2" stroke-dasharray="7 3.2"/>
</g>
<defs><linearGradient id="cb" x1="0" y1="0" x2="0" y2="1">
<stop offset="0" stop-color="#6a0a0a"/>
<stop offset="0.1" stop-color="#b00000"/>
<stop offset="0.18" stop-color="#e00000"/>
<stop offset="0.26" stop-color="#ff0000"/>
<stop offset="0.332" stop-color="#ff0000"/>
<stop offset="0.364" stop-color="#ff3000"/>
<stop offset="0.392" stop-color="#ff7000"/>
<stop offset="0.44" stop-color="#ffb000"/>
<stop offset="0.492" stop-color="#f0f000"/>
<stop offset="0.56" stop-color="#90f000"/>
<stop offset="0.62" stop-color="#20e000"/>
<stop offset="0.668" stop-color="#00e030"/>
<stop offset="0.7" stop-color="#00e090"/>
<stop offset="0.744" stop-color="#00e0e0"/>
<stop offset="0.792" stop-color="#00a0f0"/>
<stop offset="0.836" stop-color="#0040f0"/>
<stop offset="0.868" stop-color="#1010f0"/>
<stop offset="0.9" stop-color="#4000e0"/>
<stop offset="0.94" stop-color="#7000c0"/>
<stop offset="1" stop-color="#800080"/>
</linearGradient></defs>
<g id="cbar">
<rect x="460.5" y="60.3" width="11.5" height="207.5" fill="url(#cb)"/>
<line x1="472.0" y1="81.0" x2="476.0" y2="81.0" class="tk" />
<line x1="472.0" y1="122.5" x2="476.0" y2="122.5" class="tk" />
<line x1="472.0" y1="164.0" x2="476.0" y2="164.0" class="tk" />
<line x1="472.0" y1="205.5" x2="476.0" y2="205.5" class="tk" />
<line x1="472.0" y1="247.0" x2="476.0" y2="247.0" class="tk" />
<line x1="472.0" y1="101.7" x2="474.5" y2="101.7" class="tk" />
<line x1="472.0" y1="143.2" x2="474.5" y2="143.2" class="tk" />
<line x1="472.0" y1="184.7" x2="474.5" y2="184.7" class="tk" />
<line x1="472.0" y1="226.2" x2="474.5" y2="226.2" class="tk" />
<text x="457" y="47" class="t21" text-anchor="start" >E (eV)</text>
<text x="512.5" y="88.5" class="t21" text-anchor="end" >1.0</text>
<text x="512.5" y="130.0" class="t21" text-anchor="end" >0.5</text>
<text x="512.5" y="171.5" class="t21" text-anchor="end" >0.0</text>
<text x="512.5" y="213.0" class="t21" text-anchor="end" >-0.5</text>
<text x="512.5" y="254.5" class="t21" text-anchor="end" >-1.0</text>
</g>
<g id="polar">
<circle cx="222.0" cy="561.5" r="20.0" fill="none" stroke="#e0e0e0" stroke-width="0.9"/>
<circle cx="222.0" cy="561.5" r="40.0" fill="none" stroke="#e0e0e0" stroke-width="0.9"/>
<circle cx="222.0" cy="561.5" r="60.0" fill="none" stroke="#e0e0e0" stroke-width="0.9"/>
<circle cx="222.0" cy="561.5" r="80.0" fill="none" stroke="#e0e0e0" stroke-width="0.9"/>
<circle cx="222.0" cy="561.5" r="100.0" fill="none" stroke="#e0e0e0" stroke-width="0.9"/>
<circle cx="222.0" cy="561.5" r="120.0" fill="none" stroke="#e0e0e0" stroke-width="0.9"/>
<line x1="242.0" y1="561.5" x2="362.0" y2="561.5" class="" stroke="#dcdcdc" stroke-width="0.8" stroke-dasharray="1 1"/>
<line x1="239.3" y1="551.5" x2="343.2" y2="491.5" class="" stroke="#dcdcdc" stroke-width="0.8" stroke-dasharray="1 1"/>
<line x1="232.0" y1="544.2" x2="292.0" y2="440.3" class="" stroke="#dcdcdc" stroke-width="0.8" stroke-dasharray="1 1"/>
<line x1="222.0" y1="541.5" x2="222.0" y2="421.5" class="" stroke="#dcdcdc" stroke-width="0.8" stroke-dasharray="1 1"/>
<line x1="212.0" y1="544.2" x2="152.0" y2="440.3" class="" stroke="#dcdcdc" stroke-width="0.8" stroke-dasharray="1 1"/>
<line x1="204.7" y1="551.5" x2="100.8" y2="491.5" class="" stroke="#dcdcdc" stroke-width="0.8" stroke-dasharray="1 1"/>
<line x1="202.0" y1="561.5" x2="82.0" y2="561.5" class="" stroke="#dcdcdc" stroke-width="0.8" stroke-dasharray="1 1"/>
<line x1="204.7" y1="571.5" x2="100.8" y2="631.5" class="" stroke="#dcdcdc" stroke-width="0.8" stroke-dasharray="1 1"/>
<line x1="212.0" y1="578.8" x2="152.0" y2="682.7" class="" stroke="#dcdcdc" stroke-width="0.8" stroke-dasharray="1 1"/>
<line x1="222.0" y1="581.5" x2="222.0" y2="701.5" class="" stroke="#dcdcdc" stroke-width="0.8" stroke-dasharray="1 1"/>
<line x1="232.0" y1="578.8" x2="292.0" y2="682.7" class="" stroke="#dcdcdc" stroke-width="0.8" stroke-dasharray="1 1"/>
<line x1="239.3" y1="571.5" x2="343.2" y2="631.5" class="" stroke="#dcdcdc" stroke-width="0.8" stroke-dasharray="1 1"/>
<line x1="241.3" y1="556.3" x2="357.2" y2="525.3" class="" stroke="#f0f0f0" stroke-width="0.7"/>
<line x1="236.1" y1="547.4" x2="321.0" y2="462.5" class="" stroke="#f0f0f0" stroke-width="0.7"/>
<line x1="227.2" y1="542.2" x2="258.2" y2="426.3" class="" stroke="#f0f0f0" stroke-width="0.7"/>
<line x1="216.8" y1="542.2" x2="185.8" y2="426.3" class="" stroke="#f0f0f0" stroke-width="0.7"/>
<line x1="207.9" y1="547.4" x2="123.0" y2="462.5" class="" stroke="#f0f0f0" stroke-width="0.7"/>
<line x1="202.7" y1="556.3" x2="86.8" y2="525.3" class="" stroke="#f0f0f0" stroke-width="0.7"/>
<line x1="202.7" y1="566.7" x2="86.8" y2="597.7" class="" stroke="#f0f0f0" stroke-width="0.7"/>
<line x1="207.9" y1="575.6" x2="123.0" y2="660.5" class="" stroke="#f0f0f0" stroke-width="0.7"/>
<line x1="216.8" y1="580.8" x2="185.8" y2="696.7" class="" stroke="#f0f0f0" stroke-width="0.7"/>
<line x1="227.2" y1="580.8" x2="258.2" y2="696.7" class="" stroke="#f0f0f0" stroke-width="0.7"/>
<line x1="236.1" y1="575.6" x2="321.0" y2="660.5" class="" stroke="#f0f0f0" stroke-width="0.7"/>
<line x1="241.3" y1="566.7" x2="357.2" y2="597.7" class="" stroke="#f0f0f0" stroke-width="0.7"/>
<circle cx="222.0" cy="561.5" r="140.0" fill="none" stroke="#000" stroke-width="2"/>
<line x1="356.0" y1="561.5" x2="362.0" y2="561.5" class="tk" />
<line x1="353.8" y1="526.2" x2="357.2" y2="525.3" class="tk" />
<line x1="338.0" y1="494.5" x2="343.2" y2="491.5" class="tk" />
<line x1="318.5" y1="465.0" x2="321.0" y2="462.5" class="tk" />
<line x1="289.0" y1="445.5" x2="292.0" y2="440.3" class="tk" />
<line x1="257.3" y1="429.7" x2="258.2" y2="426.3" class="tk" />
<line x1="222.0" y1="427.5" x2="222.0" y2="421.5" class="tk" />
<line x1="186.7" y1="429.7" x2="185.8" y2="426.3" class="tk" />
<line x1="155.0" y1="445.5" x2="152.0" y2="440.3" class="tk" />
<line x1="125.5" y1="465.0" x2="123.0" y2="462.5" class="tk" />
<line x1="106.0" y1="494.5" x2="100.8" y2="491.5" class="tk" />
<line x1="90.2" y1="526.2" x2="86.8" y2="525.3" class="tk" />
<line x1="88.0" y1="561.5" x2="82.0" y2="561.5" class="tk" />
<line x1="90.2" y1="596.8" x2="86.8" y2="597.7" class="tk" />
<line x1="106.0" y1="628.5" x2="100.8" y2="631.5" class="tk" />
<line x1="125.5" y1="658.0" x2="123.0" y2="660.5" class="tk" />
<line x1="155.0" y1="677.5" x2="152.0" y2="682.7" class="tk" />
<line x1="186.7" y1="693.3" x2="185.8" y2="696.7" class="tk" />
<line x1="222.0" y1="695.5" x2="222.0" y2="701.5" class="tk" />
<line x1="257.3" y1="693.3" x2="258.2" y2="696.7" class="tk" />
<line x1="289.0" y1="677.5" x2="292.0" y2="682.7" class="tk" />
<line x1="318.5" y1="658.0" x2="321.0" y2="660.5" class="tk" />
<line x1="338.0" y1="628.5" x2="343.2" y2="631.5" class="tk" />
<line x1="353.8" y1="596.8" x2="357.2" y2="597.7" class="tk" />
<polygon points="344.0,561.5 344.0,559.4 343.9,557.2 343.7,555.1 343.4,553.0 343.1,550.9 342.8,548.8 342.3,546.7 341.8,544.7 341.2,542.6 340.6,540.6 339.8,538.6 339.1,536.6 338.2,534.7 337.3,532.7 336.4,530.9 335.3,529.0 334.3,527.2 333.1,525.4 331.9,523.6 330.7,521.9 329.4,520.3 328.0,518.7 326.6,517.1 325.2,515.6 323.7,514.1 322.2,512.7 320.6,511.3 319.0,510.0 317.3,508.7 315.6,507.5 313.9,506.3 312.1,505.2 310.3,504.1 308.5,503.2 306.7,502.2 304.8,501.4 302.9,500.5 301.0,499.8 299.1,499.1 297.1,498.5 295.2,497.9 293.2,497.4 291.2,496.9 289.3,496.5 287.3,496.2 285.3,495.9 283.3,495.7 281.4,495.6 279.4,495.5 277.4,495.4 275.5,495.5 273.5,495.5 271.6,495.6 269.7,495.8 267.8,496.0 266.0,496.3 264.1,496.6 262.3,497.0 260.5,497.4 258.7,497.9 257.0,498.3 255.3,498.9 253.6,499.4 252.0,500.0 250.4,500.6 248.8,501.2 247.3,501.9 245.8,502.6 244.4,503.3 242.9,504.0 241.6,504.7 240.2,505.4 238.9,506.1 237.7,506.8 236.5,507.4 235.3,508.1 234.2,508.8 233.1,509.4 232.0,510.0 231.0,510.6 230.0,511.1 229.0,511.6 228.1,512.0 227.2,512.4 226.3,512.7 225.4,513.0 224.5,513.2 223.7,513.4 222.8,513.5 222.0,513.5 221.2,513.5 220.3,513.4 219.5,513.2 218.6,513.0 217.7,512.7 216.8,512.4 215.9,512.0 215.0,511.6 214.0,511.1 213.0,510.6 212.0,510.0 210.9,509.4 209.8,508.8 208.7,508.1 207.5,507.4 206.3,506.8 205.1,506.1 203.8,505.4 202.4,504.7 201.1,504.0 199.6,503.3 198.2,502.6 196.7,501.9 195.2,501.2 193.6,500.6 192.0,500.0 190.4,499.4 188.7,498.9 187.0,498.3 185.3,497.9 183.5,497.4 181.7,497.0 179.9,496.6 178.0,496.3 176.2,496.0 174.3,495.8 172.4,495.6 170.5,495.5 168.5,495.5 166.6,495.4 164.6,495.5 162.6,495.6 160.7,495.7 158.7,495.9 156.7,496.2 154.7,496.5 152.8,496.9 150.8,497.4 148.8,497.9 146.9,498.5 144.9,499.1 143.0,499.8 141.1,500.5 139.2,501.4 137.3,502.2 135.5,503.2 133.7,504.1 131.9,505.2 130.1,506.3 128.4,507.5 126.7,508.7 125.0,510.0 123.4,511.3 121.8,512.7 120.3,514.1 118.8,515.6 117.4,517.1 116.0,518.7 114.6,520.3 113.3,521.9 112.1,523.6 110.9,525.4 109.7,527.2 108.7,529.0 107.6,530.9 106.7,532.7 105.8,534.7 104.9,536.6 104.2,538.6 103.4,540.6 102.8,542.6 102.2,544.7 101.7,546.7 101.2,548.8 100.9,550.9 100.6,553.0 100.3,555.1 100.1,557.2 100.0,559.4 100.0,561.5 100.0,563.6 100.1,565.8 100.3,567.9 100.6,570.0 100.9,572.1 101.3,574.2 101.7,576.3 102.2,578.3 102.8,580.4 103.5,582.4 104.2,584.4 105.0,586.4 105.8,588.3 106.7,590.2 107.7,592.1 108.7,594.0 109.8,595.8 111.0,597.6 112.2,599.3 113.5,601.0 114.8,602.7 116.2,604.3 117.6,605.8 119.1,607.3 120.6,608.8 122.1,610.2 123.8,611.6 125.4,612.9 127.1,614.1 128.8,615.3 130.6,616.4 132.4,617.5 134.2,618.5 136.1,619.4 138.0,620.3 139.9,621.1 141.8,621.9 143.8,622.6 145.8,623.2 147.8,623.8 149.8,624.3 151.8,624.7 153.8,625.1 155.9,625.4 157.9,625.6 159.9,625.8 162.0,625.9 164.0,625.9 166.0,625.9 168.0,625.8 170.0,625.7 172.0,625.5 174.0,625.2 176.0,624.9 177.9,624.5 179.8,624.0 181.7,623.6 183.6,623.0 185.4,622.4 187.2,621.8 189.0,621.1 190.7,620.3 192.4,619.6 194.1,618.8 195.7,617.9 197.3,617.0 198.8,616.1 200.3,615.2 201.8,614.2 203.2,613.3 204.5,612.3 205.8,611.3 207.1,610.3 208.3,609.4 209.4,608.4 210.5,607.4 211.6,606.5 212.6,605.6 213.6,604.7 214.5,603.9 215.4,603.1 216.2,602.4 217.1,601.8 217.8,601.2 218.6,600.7 219.3,600.3 220.0,599.9 220.7,599.7 221.3,599.5 222.0,599.5 222.7,599.5 223.3,599.7 224.0,599.9 224.7,600.3 225.4,600.7 226.2,601.2 226.9,601.8 227.8,602.4 228.6,603.1 229.5,603.9 230.4,604.7 231.4,605.6 232.4,606.5 233.5,607.4 234.6,608.4 235.7,609.4 236.9,610.3 238.2,611.3 239.5,612.3 240.8,613.3 242.2,614.2 243.7,615.2 245.2,616.1 246.7,617.0 248.3,617.9 249.9,618.8 251.6,619.6 253.3,620.3 255.0,621.1 256.8,621.8 258.6,622.4 260.4,623.0 262.3,623.6 264.2,624.0 266.1,624.5 268.0,624.9 270.0,625.2 272.0,625.5 274.0,625.7 276.0,625.8 278.0,625.9 280.0,625.9 282.0,625.9 284.1,625.8 286.1,625.6 288.1,625.4 290.2,625.1 292.2,624.7 294.2,624.3 296.2,623.8 298.2,623.2 300.2,622.6 302.2,621.9 304.1,621.1 306.0,620.3 307.9,619.4 309.8,618.5 311.6,617.5 313.4,616.4 315.2,615.3 316.9,614.1 318.6,612.9 320.2,611.6 321.9,610.2 323.4,608.8 324.9,607.3 326.4,605.8 327.8,604.3 329.2,602.7 330.5,601.0 331.8,599.3 333.0,597.6 334.2,595.8 335.3,594.0 336.3,592.1 337.3,590.2 338.2,588.3 339.0,586.4 339.8,584.4 340.5,582.4 341.2,580.4 341.8,578.3 342.3,576.3 342.7,574.2 343.1,572.1 343.4,570.0 343.7,567.9 343.9,565.8 344.0,563.6 344.0,561.5" fill="none" stroke="#c2c2c2" stroke-width="4.5" stroke-linejoin="round"/>
<polygon points="261.0,561.5 261.0,560.8 261.2,560.1 261.4,559.4 261.7,558.7 262.1,558.0 262.6,557.2 263.1,556.5 263.7,555.6 264.4,554.8 265.1,553.9 265.8,553.0 266.7,552.0 267.5,551.0 268.4,549.9 269.3,548.8 270.2,547.7 271.1,546.5 272.0,545.3 272.9,544.0 273.8,542.6 274.8,541.2 275.6,539.8 276.5,538.4 277.4,536.8 278.2,535.3 279.0,533.7 279.8,532.1 280.5,530.4 281.2,528.7 281.8,527.0 282.4,525.2 283.0,523.4 283.5,521.6 284.0,519.7 284.4,517.8 284.7,515.9 285.0,514.0 285.3,512.1 285.4,510.1 285.6,508.2 285.6,506.2 285.6,504.2 285.6,502.2 285.5,500.2 285.3,498.2 285.0,496.2 284.7,494.2 284.3,492.3 283.9,490.3 283.4,488.3 282.8,486.4 282.2,484.4 281.5,482.5 280.8,480.6 280.0,478.7 279.1,476.9 278.1,475.1 277.1,473.3 276.1,471.5 275.0,469.8 273.8,468.1 272.6,466.4 271.3,464.8 269.9,463.2 268.6,461.7 267.1,460.2 265.6,458.7 264.1,457.3 262.5,456.0 260.9,454.7 259.2,453.5 257.5,452.3 255.7,451.1 254.0,450.1 252.1,449.0 250.3,448.1 248.4,447.2 246.5,446.4 244.5,445.6 242.6,444.9 240.6,444.3 238.6,443.7 236.5,443.2 234.5,442.7 232.4,442.4 230.4,442.0 228.3,441.8 226.2,441.6 224.1,441.5 222.0,441.5 219.9,441.5 217.8,441.6 215.7,441.8 213.6,442.0 211.6,442.4 209.5,442.7 207.5,443.2 205.4,443.7 203.4,444.2 201.4,444.9 199.5,445.6 197.5,446.3 195.6,447.2 193.7,448.1 191.9,449.0 190.0,450.0 188.2,451.1 186.5,452.2 184.8,453.4 183.1,454.6 181.4,455.9 179.9,457.2 178.3,458.6 176.8,460.0 175.3,461.5 173.9,463.0 172.6,464.5 171.3,466.1 170.0,467.7 168.8,469.4 167.7,471.1 166.6,472.8 165.6,474.6 164.6,476.4 163.7,478.2 162.8,480.1 162.0,481.9 161.3,483.8 160.6,485.7 160.0,487.6 159.4,489.5 158.9,491.4 158.5,493.4 158.1,495.3 157.8,497.3 157.5,499.2 157.3,501.2 157.2,503.1 157.1,505.0 157.0,507.0 157.0,508.9 157.1,510.8 157.2,512.7 157.4,514.6 157.6,516.4 157.9,518.3 158.2,520.1 158.6,521.9 159.0,523.6 159.4,525.4 159.9,527.1 160.4,528.8 161.0,530.4 161.6,532.0 162.2,533.6 162.8,535.1 163.5,536.6 164.1,538.1 164.8,539.5 165.5,540.9 166.2,542.3 166.9,543.6 167.6,544.9 168.3,546.1 169.0,547.3 169.6,548.4 170.3,549.6 170.9,550.6 171.5,551.7 172.1,552.7 172.6,553.7 173.1,554.6 173.5,555.5 173.9,556.4 174.2,557.3 174.5,558.2 174.7,559.0 174.9,559.9 175.0,560.7 175.0,561.5 175.0,562.3 174.9,563.1 174.7,564.0 174.5,564.8 174.2,565.7 173.8,566.6 173.4,567.5 173.0,568.4 172.5,569.3 171.9,570.3 171.3,571.3 170.7,572.4 170.1,573.5 169.4,574.6 168.7,575.8 168.0,577.0 167.3,578.2 166.5,579.5 165.8,580.9 165.1,582.2 164.3,583.6 163.6,585.1 162.9,586.6 162.2,588.1 161.6,589.7 160.9,591.3 160.3,592.9 159.8,594.6 159.2,596.3 158.7,598.0 158.2,599.8 157.8,601.6 157.4,603.4 157.1,605.3 156.8,607.1 156.6,609.0 156.4,611.0 156.2,612.9 156.2,614.8 156.1,616.8 156.2,618.7 156.2,620.7 156.4,622.7 156.6,624.7 156.8,626.7 157.2,628.6 157.5,630.6 158.0,632.6 158.5,634.6 159.0,636.5 159.7,638.5 160.4,640.4 161.1,642.3 161.9,644.2 162.8,646.1 163.7,647.9 164.7,649.8 165.7,651.6 166.8,653.3 168.0,655.1 169.2,656.8 170.5,658.4 171.8,660.0 173.2,661.6 174.6,663.2 176.1,664.7 177.6,666.1 179.2,667.5 180.8,668.9 182.4,670.2 184.2,671.4 185.9,672.6 187.7,673.8 189.5,674.8 191.4,675.9 193.2,676.8 195.2,677.7 197.1,678.6 199.1,679.3 201.1,680.1 203.1,680.7 205.2,681.3 207.2,681.8 209.3,682.3 211.4,682.6 213.5,682.9 215.6,683.2 217.7,683.4 219.9,683.5 222.0,683.5 224.1,683.5 226.3,683.4 228.4,683.2 230.5,682.9 232.6,682.6 234.7,682.2 236.8,681.8 238.8,681.3 240.9,680.7 242.9,680.0 244.9,679.3 246.9,678.5 248.8,677.7 250.7,676.8 252.6,675.8 254.5,674.8 256.3,673.7 258.1,672.5 259.8,671.3 261.5,670.1 263.2,668.7 264.8,667.4 266.3,665.9 267.8,664.5 269.3,663.0 270.7,661.4 272.1,659.8 273.4,658.1 274.6,656.4 275.8,654.7 276.9,652.9 278.0,651.1 279.0,649.3 280.0,647.5 280.9,645.6 281.7,643.7 282.5,641.7 283.1,639.8 283.8,637.8 284.4,635.8 284.9,633.8 285.3,631.8 285.7,629.8 286.0,627.8 286.2,625.7 286.4,623.7 286.5,621.7 286.6,619.6 286.6,617.6 286.5,615.6 286.3,613.6 286.2,611.6 285.9,609.7 285.6,607.7 285.2,605.8 284.8,603.9 284.3,602.0 283.8,600.1 283.2,598.3 282.6,596.5 281.9,594.7 281.2,593.0 280.4,591.3 279.7,589.6 278.8,588.0 278.0,586.4 277.1,584.9 276.2,583.4 275.3,581.9 274.3,580.5 273.4,579.2 272.4,577.9 271.5,576.6 270.5,575.4 269.6,574.2 268.7,573.1 267.8,572.1 266.9,571.0 266.0,570.1 265.2,569.1 264.5,568.2 263.8,567.4 263.2,566.6 262.6,565.8 262.1,565.0 261.7,564.3 261.4,563.6 261.2,562.9 261.0,562.2 261.0,561.5" fill="none" stroke="#c2c2c2" stroke-width="4.5" stroke-linejoin="round"/>
<circle cx="221.9" cy="513.5" r="2.9" fill="#0a0ae6"/>
<circle cx="207.9" cy="507.7" r="2.9" fill="#0a0ae6"/>
<circle cx="209.3" cy="508.5" r="2.9" fill="#0a0ae6"/>
<circle cx="203.3" cy="505.1" r="2.9" fill="#0a0ae6"/>
<circle cx="194.1" cy="500.8" r="2.9" fill="#0a0ae6"/>
<circle cx="175.1" cy="495.9" r="2.9" fill="#0a0ae6"/>
<circle cx="177.4" cy="496.2" r="2.9" fill="#0a0ae6"/>
<circle cx="178.3" cy="496.4" r="2.9" fill="#0a0ae6"/>
<circle cx="154.8" cy="496.5" r="2.9" fill="#0a0ae6"/>
<circle cx="156.6" cy="496.2" r="2.9" fill="#0a0ae6"/>
<circle cx="146.3" cy="498.6" r="2.9" fill="#0a0ae6"/>
<circle cx="147.8" cy="498.2" r="2.9" fill="#0a0ae6"/>
<circle cx="139.1" cy="501.4" r="2.9" fill="#0a0ae6"/>
<circle cx="141.7" cy="500.3" r="2.9" fill="#0a0ae6"/>
<circle cx="137.6" cy="502.1" r="2.9" fill="#0a0ae6"/>
<circle cx="128.3" cy="507.5" r="2.9" fill="#0a0ae6"/>
<circle cx="123.1" cy="511.6" r="2.9" fill="#0a0ae6"/>
<circle cx="124.6" cy="510.3" r="2.9" fill="#0a0ae6"/>
<circle cx="114.3" cy="520.6" r="2.9" fill="#0a0ae6"/>
<circle cx="109.5" cy="527.5" r="2.9" fill="#0a0ae6"/>
<circle cx="101.0" cy="550.3" r="2.9" fill="#0a0ae6"/>
<circle cx="100.6" cy="552.9" r="2.9" fill="#0a0ae6"/>
<circle cx="100.2" cy="556.4" r="2.9" fill="#0a0ae6"/>
<circle cx="100.1" cy="558.3" r="2.9" fill="#0a0ae6"/>
<circle cx="235.4" cy="508.0" r="2.9" fill="#0a0ae6"/>
<circle cx="242.3" cy="504.3" r="2.9" fill="#0a0ae6"/>
<circle cx="265.3" cy="496.4" r="2.9" fill="#0a0ae6"/>
<circle cx="267.7" cy="496.1" r="2.9" fill="#0a0ae6"/>
<circle cx="270.0" cy="495.8" r="2.9" fill="#0a0ae6"/>
<circle cx="291.1" cy="496.9" r="2.9" fill="#0a0ae6"/>
<circle cx="297.9" cy="498.7" r="2.9" fill="#0a0ae6"/>
<circle cx="301.2" cy="499.9" r="2.9" fill="#0a0ae6"/>
<circle cx="304.1" cy="501.0" r="2.9" fill="#0a0ae6"/>
<circle cx="306.9" cy="502.3" r="2.9" fill="#0a0ae6"/>
<circle cx="308.5" cy="503.2" r="2.9" fill="#0a0ae6"/>
<circle cx="314.2" cy="506.5" r="2.9" fill="#0a0ae6"/>
<circle cx="317.1" cy="508.6" r="2.9" fill="#0a0ae6"/>
<circle cx="319.9" cy="510.7" r="2.9" fill="#0a0ae6"/>
<circle cx="322.2" cy="512.7" r="2.9" fill="#0a0ae6"/>
<circle cx="323.9" cy="514.3" r="2.9" fill="#0a0ae6"/>
<circle cx="327.6" cy="518.1" r="2.9" fill="#0a0ae6"/>
<circle cx="329.3" cy="520.1" r="2.9" fill="#0a0ae6"/>
<circle cx="334.4" cy="527.4" r="2.9" fill="#0a0ae6"/>
<circle cx="335.9" cy="530.1" r="2.9" fill="#0a0ae6"/>
<circle cx="337.3" cy="532.7" r="2.9" fill="#0a0ae6"/>
<circle cx="338.6" cy="535.5" r="2.9" fill="#0a0ae6"/>
<circle cx="343.0" cy="550.3" r="2.9" fill="#0a0ae6"/>
<circle cx="343.4" cy="553.0" r="2.9" fill="#0a0ae6"/>
<circle cx="343.7" cy="555.6" r="2.9" fill="#0a0ae6"/>
<circle cx="343.9" cy="558.3" r="2.9" fill="#0a0ae6"/>
<circle cx="343.9" cy="557.7" r="2.9" fill="#0a0ae6"/>
<circle cx="342.5" cy="575.5" r="2.9" fill="#0a0ae6"/>
<circle cx="341.6" cy="578.9" r="2.9" fill="#0a0ae6"/>
<circle cx="340.6" cy="582.1" r="2.9" fill="#0a0ae6"/>
<circle cx="339.5" cy="585.3" r="2.9" fill="#0a0ae6"/>
<circle cx="338.0" cy="588.8" r="2.9" fill="#0a0ae6"/>
<circle cx="335.2" cy="594.1" r="2.9" fill="#0a0ae6"/>
<circle cx="330.4" cy="601.1" r="2.9" fill="#0a0ae6"/>
<circle cx="328.8" cy="603.2" r="2.9" fill="#0a0ae6"/>
<circle cx="327.2" cy="605.0" r="2.9" fill="#0a0ae6"/>
<circle cx="321.7" cy="610.4" r="2.9" fill="#0a0ae6"/>
<circle cx="319.2" cy="612.4" r="2.9" fill="#0a0ae6"/>
<circle cx="316.4" cy="614.5" r="2.9" fill="#0a0ae6"/>
<circle cx="313.4" cy="616.4" r="2.9" fill="#0a0ae6"/>
<circle cx="311.1" cy="617.8" r="2.9" fill="#0a0ae6"/>
<circle cx="303.2" cy="621.5" r="2.9" fill="#0a0ae6"/>
<circle cx="300.2" cy="622.6" r="2.9" fill="#0a0ae6"/>
<circle cx="297.0" cy="623.6" r="2.9" fill="#0a0ae6"/>
<circle cx="294.2" cy="624.3" r="2.9" fill="#0a0ae6"/>
<circle cx="289.9" cy="625.1" r="2.9" fill="#0a0ae6"/>
<circle cx="285.4" cy="625.7" r="2.9" fill="#0a0ae6"/>
<circle cx="281.2" cy="625.9" r="2.9" fill="#0a0ae6"/>
<circle cx="278.5" cy="625.9" r="2.9" fill="#0a0ae6"/>
<circle cx="275.7" cy="625.8" r="2.9" fill="#0a0ae6"/>
<circle cx="272.7" cy="625.5" r="2.9" fill="#0a0ae6"/>
<circle cx="270.4" cy="625.3" r="2.9" fill="#0a0ae6"/>
<circle cx="260.8" cy="623.1" r="2.9" fill="#0a0ae6"/>
<circle cx="258.3" cy="622.3" r="2.9" fill="#0a0ae6"/>
<circle cx="255.6" cy="621.3" r="2.9" fill="#0a0ae6"/>
<circle cx="252.7" cy="620.1" r="2.9" fill="#0a0ae6"/>
<circle cx="250.1" cy="618.9" r="2.9" fill="#0a0ae6"/>
<circle cx="247.4" cy="617.4" r="2.9" fill="#0a0ae6"/>
<circle cx="244.6" cy="615.7" r="2.9" fill="#0a0ae6"/>
<circle cx="241.6" cy="613.8" r="2.9" fill="#0a0ae6"/>
<circle cx="238.6" cy="611.7" r="2.9" fill="#0a0ae6"/>
<circle cx="235.6" cy="609.3" r="2.9" fill="#0a0ae6"/>
<circle cx="232.6" cy="606.7" r="2.9" fill="#0a0ae6"/>
<circle cx="229.8" cy="604.2" r="2.9" fill="#0a0ae6"/>
<circle cx="227.0" cy="601.9" r="2.9" fill="#0a0ae6"/>
<circle cx="222.5" cy="599.5" r="2.9" fill="#0a0ae6"/>
<circle cx="100.1" cy="557.2" r="2.9" fill="#0a0ae6"/>
<circle cx="101.5" cy="575.4" r="2.9" fill="#0a0ae6"/>
<circle cx="102.4" cy="578.9" r="2.9" fill="#0a0ae6"/>
<circle cx="103.4" cy="582.2" r="2.9" fill="#0a0ae6"/>
<circle cx="104.6" cy="585.5" r="2.9" fill="#0a0ae6"/>
<circle cx="106.1" cy="588.9" r="2.9" fill="#0a0ae6"/>
<circle cx="108.9" cy="594.2" r="2.9" fill="#0a0ae6"/>
<circle cx="115.3" cy="603.3" r="2.9" fill="#0a0ae6"/>
<circle cx="123.3" cy="611.2" r="2.9" fill="#0a0ae6"/>
<circle cx="129.2" cy="615.5" r="2.9" fill="#0a0ae6"/>
<circle cx="131.6" cy="617.0" r="2.9" fill="#0a0ae6"/>
<circle cx="137.7" cy="620.2" r="2.9" fill="#0a0ae6"/>
<circle cx="143.6" cy="622.5" r="2.9" fill="#0a0ae6"/>
<circle cx="146.3" cy="623.4" r="2.9" fill="#0a0ae6"/>
<circle cx="161.0" cy="625.8" r="2.9" fill="#0a0ae6"/>
<circle cx="165.1" cy="625.9" r="2.9" fill="#0a0ae6"/>
<circle cx="167.9" cy="625.8" r="2.9" fill="#0a0ae6"/>
<circle cx="170.7" cy="625.6" r="2.9" fill="#0a0ae6"/>
<circle cx="172.8" cy="625.4" r="2.9" fill="#0a0ae6"/>
<circle cx="182.8" cy="623.2" r="2.9" fill="#0a0ae6"/>
<circle cx="186.3" cy="622.1" r="2.9" fill="#0a0ae6"/>
<circle cx="191.6" cy="619.9" r="2.9" fill="#0a0ae6"/>
<circle cx="195.0" cy="618.3" r="2.9" fill="#0a0ae6"/>
<circle cx="198.1" cy="616.6" r="2.9" fill="#0a0ae6"/>
<circle cx="200.6" cy="615.0" r="2.9" fill="#0a0ae6"/>
<circle cx="202.5" cy="613.7" r="2.9" fill="#0a0ae6"/>
<circle cx="206.6" cy="610.7" r="2.9" fill="#0a0ae6"/>
<circle cx="208.8" cy="608.9" r="2.9" fill="#0a0ae6"/>
<circle cx="210.9" cy="607.1" r="2.9" fill="#0a0ae6"/>
<circle cx="215.6" cy="603.0" r="2.9" fill="#0a0ae6"/>
<circle cx="211.4" cy="442.4" r="2.9" fill="#ee0808"/>
<circle cx="215.3" cy="441.8" r="2.9" fill="#ee0808"/>
<circle cx="219.2" cy="441.6" r="2.9" fill="#ee0808"/>
<circle cx="187.6" cy="451.4" r="2.9" fill="#ee0808"/>
<circle cx="192.8" cy="448.5" r="2.9" fill="#ee0808"/>
<circle cx="196.7" cy="446.7" r="2.9" fill="#ee0808"/>
<circle cx="179.9" cy="457.2" r="2.9" fill="#ee0808"/>
<circle cx="182.3" cy="455.2" r="2.9" fill="#ee0808"/>
<circle cx="174.6" cy="462.3" r="2.9" fill="#ee0808"/>
<circle cx="176.8" cy="460.0" r="2.9" fill="#ee0808"/>
<circle cx="169.7" cy="468.2" r="2.9" fill="#ee0808"/>
<circle cx="171.6" cy="465.7" r="2.9" fill="#ee0808"/>
<circle cx="168.1" cy="470.4" r="2.9" fill="#ee0808"/>
<circle cx="164.0" cy="477.5" r="2.9" fill="#ee0808"/>
<circle cx="165.0" cy="475.6" r="2.9" fill="#ee0808"/>
<circle cx="162.8" cy="480.2" r="2.9" fill="#ee0808"/>
<circle cx="161.0" cy="484.5" r="2.9" fill="#ee0808"/>
<circle cx="160.7" cy="485.3" r="2.9" fill="#ee0808"/>
<circle cx="158.8" cy="491.9" r="2.9" fill="#ee0808"/>
<circle cx="158.2" cy="494.7" r="2.9" fill="#ee0808"/>
<circle cx="157.2" cy="512.1" r="2.9" fill="#ee0808"/>
<circle cx="157.5" cy="515.7" r="2.9" fill="#ee0808"/>
<circle cx="157.9" cy="518.3" r="2.9" fill="#ee0808"/>
<circle cx="162.1" cy="533.4" r="2.9" fill="#ee0808"/>
<circle cx="165.7" cy="541.4" r="2.9" fill="#ee0808"/>
<circle cx="166.6" cy="543.1" r="2.9" fill="#ee0808"/>
<circle cx="170.4" cy="549.8" r="2.9" fill="#ee0808"/>
<circle cx="174.5" cy="558.4" r="2.9" fill="#ee0808"/>
<circle cx="175.0" cy="561.0" r="2.9" fill="#ee0808"/>
<circle cx="217.7" cy="441.6" r="2.9" fill="#ee0808"/>
<circle cx="220.4" cy="441.5" r="2.9" fill="#ee0808"/>
<circle cx="236.6" cy="443.2" r="2.9" fill="#ee0808"/>
<circle cx="239.2" cy="443.9" r="2.9" fill="#ee0808"/>
<circle cx="241.9" cy="444.7" r="2.9" fill="#ee0808"/>
<circle cx="244.5" cy="445.6" r="2.9" fill="#ee0808"/>
<circle cx="247.2" cy="446.7" r="2.9" fill="#ee0808"/>
<circle cx="249.8" cy="447.9" r="2.9" fill="#ee0808"/>
<circle cx="254.5" cy="450.4" r="2.9" fill="#ee0808"/>
<circle cx="260.4" cy="454.3" r="2.9" fill="#ee0808"/>
<circle cx="262.4" cy="455.9" r="2.9" fill="#ee0808"/>
<circle cx="264.4" cy="457.7" r="2.9" fill="#ee0808"/>
<circle cx="269.9" cy="463.2" r="2.9" fill="#ee0808"/>
<circle cx="271.5" cy="465.0" r="2.9" fill="#ee0808"/>
<circle cx="273.7" cy="468.0" r="2.9" fill="#ee0808"/>
<circle cx="275.2" cy="470.1" r="2.9" fill="#ee0808"/>
<circle cx="276.7" cy="472.5" r="2.9" fill="#ee0808"/>
<circle cx="277.8" cy="474.4" r="2.9" fill="#ee0808"/>
<circle cx="281.4" cy="482.3" r="2.9" fill="#ee0808"/>
<circle cx="282.5" cy="485.3" r="2.9" fill="#ee0808"/>
<circle cx="283.5" cy="488.5" r="2.9" fill="#ee0808"/>
<circle cx="284.1" cy="491.3" r="2.9" fill="#ee0808"/>
<circle cx="284.8" cy="494.5" r="2.9" fill="#ee0808"/>
<circle cx="285.2" cy="497.5" r="2.9" fill="#ee0808"/>
<circle cx="285.6" cy="502.4" r="2.9" fill="#ee0808"/>
<circle cx="285.6" cy="505.8" r="2.9" fill="#ee0808"/>
<circle cx="285.6" cy="508.5" r="2.9" fill="#ee0808"/>
<circle cx="285.3" cy="511.3" r="2.9" fill="#ee0808"/>
<circle cx="285.1" cy="513.5" r="2.9" fill="#ee0808"/>
<circle cx="284.7" cy="515.8" r="2.9" fill="#ee0808"/>
<circle cx="281.8" cy="527.0" r="2.9" fill="#ee0808"/>
<circle cx="280.7" cy="529.8" r="2.9" fill="#ee0808"/>
<circle cx="279.6" cy="532.5" r="2.9" fill="#ee0808"/>
<circle cx="278.2" cy="535.3" r="2.9" fill="#ee0808"/>
<circle cx="277.3" cy="537.0" r="2.9" fill="#ee0808"/>
<circle cx="276.2" cy="539.0" r="2.9" fill="#ee0808"/>
<circle cx="274.6" cy="541.5" r="2.9" fill="#ee0808"/>
<circle cx="273.3" cy="543.5" r="2.9" fill="#ee0808"/>
<circle cx="271.6" cy="545.8" r="2.9" fill="#ee0808"/>
<circle cx="270.1" cy="547.8" r="2.9" fill="#ee0808"/>
<circle cx="268.8" cy="549.4" r="2.9" fill="#ee0808"/>
<circle cx="267.1" cy="551.5" r="2.9" fill="#ee0808"/>
<circle cx="264.8" cy="554.2" r="2.9" fill="#ee0808"/>
<circle cx="262.8" cy="557.0" r="2.9" fill="#ee0808"/>
<circle cx="261.7" cy="558.8" r="2.9" fill="#ee0808"/>
<circle cx="261.0" cy="560.9" r="2.9" fill="#ee0808"/>
<circle cx="263.0" cy="556.6" r="2.9" fill="#ee0808"/>
<circle cx="261.5" cy="559.1" r="2.9" fill="#ee0808"/>
<circle cx="261.0" cy="561.7" r="2.9" fill="#ee0808"/>
<circle cx="263.5" cy="566.9" r="2.9" fill="#ee0808"/>
<circle cx="265.7" cy="569.6" r="2.9" fill="#ee0808"/>
<circle cx="267.9" cy="572.3" r="2.9" fill="#ee0808"/>
<circle cx="270.2" cy="575.0" r="2.9" fill="#ee0808"/>
<circle cx="272.3" cy="577.7" r="2.9" fill="#ee0808"/>
<circle cx="274.2" cy="580.4" r="2.9" fill="#ee0808"/>
<circle cx="276.0" cy="583.1" r="2.9" fill="#ee0808"/>
<circle cx="277.5" cy="585.6" r="2.9" fill="#ee0808"/>
<circle cx="279.0" cy="588.4" r="2.9" fill="#ee0808"/>
<circle cx="280.3" cy="591.0" r="2.9" fill="#ee0808"/>
<circle cx="281.9" cy="594.6" r="2.9" fill="#ee0808"/>
<circle cx="283.0" cy="597.6" r="2.9" fill="#ee0808"/>
<circle cx="283.9" cy="600.4" r="2.9" fill="#ee0808"/>
<circle cx="286.0" cy="610.6" r="2.9" fill="#ee0808"/>
<circle cx="286.3" cy="612.8" r="2.9" fill="#ee0808"/>
<circle cx="286.4" cy="615.0" r="2.9" fill="#ee0808"/>
<circle cx="286.6" cy="619.1" r="2.9" fill="#ee0808"/>
<circle cx="286.4" cy="623.5" r="2.9" fill="#ee0808"/>
<circle cx="286.1" cy="627.1" r="2.9" fill="#ee0808"/>
<circle cx="284.4" cy="635.7" r="2.9" fill="#ee0808"/>
<circle cx="283.6" cy="638.4" r="2.9" fill="#ee0808"/>
<circle cx="282.4" cy="641.8" r="2.9" fill="#ee0808"/>
<circle cx="279.7" cy="648.0" r="2.9" fill="#ee0808"/>
<circle cx="277.5" cy="652.0" r="2.9" fill="#ee0808"/>
<circle cx="275.3" cy="655.5" r="2.9" fill="#ee0808"/>
<circle cx="271.5" cy="660.5" r="2.9" fill="#ee0808"/>
<circle cx="263.2" cy="668.7" r="2.9" fill="#ee0808"/>
<circle cx="261.6" cy="670.0" r="2.9" fill="#ee0808"/>
<circle cx="255.2" cy="674.3" r="2.9" fill="#ee0808"/>
<circle cx="247.3" cy="678.4" r="2.9" fill="#ee0808"/>
<circle cx="244.6" cy="679.4" r="2.9" fill="#ee0808"/>
<circle cx="242.0" cy="680.3" r="2.9" fill="#ee0808"/>
<circle cx="239.3" cy="681.1" r="2.9" fill="#ee0808"/>
<circle cx="236.7" cy="681.8" r="2.9" fill="#ee0808"/>
<circle cx="217.8" cy="683.4" r="2.9" fill="#ee0808"/>
<circle cx="215.1" cy="683.1" r="2.9" fill="#ee0808"/>
<circle cx="175.0" cy="561.7" r="2.9" fill="#ee0808"/>
<circle cx="169.5" cy="574.4" r="2.9" fill="#ee0808"/>
<circle cx="165.2" cy="582.0" r="2.9" fill="#ee0808"/>
<circle cx="161.0" cy="591.1" r="2.9" fill="#ee0808"/>
<circle cx="157.3" cy="603.9" r="2.9" fill="#ee0808"/>
<circle cx="156.9" cy="606.3" r="2.9" fill="#ee0808"/>
<circle cx="156.6" cy="608.8" r="2.9" fill="#ee0808"/>
<circle cx="156.6" cy="624.9" r="2.9" fill="#ee0808"/>
<circle cx="157.2" cy="628.6" r="2.9" fill="#ee0808"/>
<circle cx="157.8" cy="631.9" r="2.9" fill="#ee0808"/>
<circle cx="159.9" cy="639.2" r="2.9" fill="#ee0808"/>
<circle cx="161.0" cy="642.0" r="2.9" fill="#ee0808"/>
<circle cx="162.0" cy="644.3" r="2.9" fill="#ee0808"/>
<circle cx="163.0" cy="646.6" r="2.9" fill="#ee0808"/>
<circle cx="168.7" cy="656.1" r="2.9" fill="#ee0808"/>
<circle cx="171.6" cy="659.8" r="2.9" fill="#ee0808"/>
<circle cx="173.0" cy="661.4" r="2.9" fill="#ee0808"/>
<circle cx="182.1" cy="669.9" r="2.9" fill="#ee0808"/>
<circle cx="188.0" cy="673.9" r="2.9" fill="#ee0808"/>
<circle cx="211.3" cy="682.6" r="2.9" fill="#ee0808"/>
<circle cx="214.0" cy="683.0" r="2.9" fill="#ee0808"/>
<circle cx="216.6" cy="683.3" r="2.9" fill="#ee0808"/>
<path d="M222.6,541.5 V562.0 H243.0" fill="none" stroke="#000" stroke-width="2.8"/>
<polygon points="222.6,534.0 218.0,544.5 222.6,542.0 227.2,544.5" fill="#000"/>
<polygon points="250.5,562.0 240.0,557.3 242.5,562.0 240.0,566.7" fill="#000"/>
<text transform="translate(210,544) scale(0.85,1)" style="font-size:21px">y</text>
<text transform="translate(246,578) scale(0.85,1)" style="font-size:21px">x</text>
<text transform="translate(222,415.5) scale(0.83,1)" class="t21" text-anchor="middle">90</text>
<text transform="translate(300.75,434.5) scale(0.83,1)" class="t21" text-anchor="middle">60</text>
<text transform="translate(355.7,489.5) scale(0.83,1)" class="t21" text-anchor="middle">30</text>
<text transform="translate(371.75,569.5) scale(0.83,1)" class="t21" text-anchor="middle">0</text>
<text transform="translate(360.2,648.5) scale(0.83,1)" class="t21" text-anchor="middle">330</text>
<text transform="translate(303.9,704.0) scale(0.83,1)" class="t21" text-anchor="middle">300</text>
<text transform="translate(221.5,721.5) scale(0.83,1)" class="t21" text-anchor="middle">270</text>
<text transform="translate(141,705.5) scale(0.83,1)" class="t21" text-anchor="middle">240</text>
<text transform="translate(84.8,650.0) scale(0.83,1)" class="t21" text-anchor="middle">210</text>
<text transform="translate(63.7,570.5) scale(0.83,1)" class="t21" text-anchor="middle">180</text>
<text transform="translate(83.3,491.5) scale(0.83,1)" class="t21" text-anchor="middle">150</text>
<text transform="translate(137.8,436.5) scale(0.83,1)" class="t21" text-anchor="middle">120</text>
<line x1="45.2" y1="421.5" x2="45.2" y2="702.5" class="" stroke="#000" stroke-width="1.8"/>
<line x1="45.2" y1="420.5" x2="49.2" y2="420.5" class="tk" />
<line x1="45.2" y1="440.7" x2="50.2" y2="440.7" class="tk" />
<line x1="45.2" y1="460.8" x2="48.2" y2="460.8" class="tk" />
<line x1="45.2" y1="480.9" x2="50.2" y2="480.9" class="tk" />
<line x1="45.2" y1="501.1" x2="48.2" y2="501.1" class="tk" />
<line x1="45.2" y1="521.2" x2="50.2" y2="521.2" class="tk" />
<line x1="45.2" y1="541.4" x2="48.2" y2="541.4" class="tk" />
<line x1="45.2" y1="561.5" x2="50.2" y2="561.5" class="tk" />
<line x1="45.2" y1="581.6" x2="48.2" y2="581.6" class="tk" />
<line x1="45.2" y1="601.8" x2="50.2" y2="601.8" class="tk" />
<line x1="45.2" y1="621.9" x2="48.2" y2="621.9" class="tk" />
<line x1="45.2" y1="642.1" x2="50.2" y2="642.1" class="tk" />
<line x1="45.2" y1="662.2" x2="48.2" y2="662.2" class="tk" />
<line x1="45.2" y1="682.3" x2="50.2" y2="682.3" class="tk" />
<line x1="45.2" y1="702.5" x2="49.2" y2="702.5" class="tk" />
<text x="40.7" y="448.2" class="t21" text-anchor="end">6</text>
<text x="40.7" y="488.4" class="t21" text-anchor="end">4</text>
<text x="40.7" y="528.7" class="t21" text-anchor="end">2</text>
<text x="40.7" y="569.0" class="t21" text-anchor="end">0</text>
<text x="40.7" y="609.3" class="t21" text-anchor="end">2</text>
<text x="40.7" y="649.6" class="t21" text-anchor="end">4</text>
<text x="40.7" y="689.8" class="t21" text-anchor="end">6</text>
<text transform="translate(14.8,554.5) rotate(-90)" style="font-size:22.6px" text-anchor="middle">Fermi velocity (10<tspan font-size="13" dy="-8">5</tspan><tspan dy="8"> m/s)</tspan></text>
<text x="54.5" y="717" class="t21 b" text-anchor="start" >(c)</text>
</g>
<g id="panels">
<text x="453" y="427.5" class="t21 b" text-anchor="middle" >(b)</text>
<defs>
<linearGradient id="p1u" x1="0" y1="440" x2="0" y2="510" gradientUnits="userSpaceOnUse">
<stop offset="0" stop-color="#5a2226"/><stop offset="0.3" stop-color="#7e2a24"/><stop offset="0.55" stop-color="#a83a1c"/><stop offset="0.75" stop-color="#cc6a14"/><stop offset="0.9" stop-color="#d8a418"/><stop offset="1" stop-color="#dcd424"/>
</linearGradient>
<linearGradient id="p1l" x1="0" y1="510" x2="0" y2="561" gradientUnits="userSpaceOnUse">
<stop offset="0" stop-color="#d4dc24"/><stop offset="0.3" stop-color="#b6d62c"/><stop offset="0.55" stop-color="#94c860"/><stop offset="0.75" stop-color="#7cb898"/><stop offset="0.9" stop-color="#62c4b8"/><stop offset="1" stop-color="#50ccc4"/>
</linearGradient>
<linearGradient id="p2u" x1="0" y1="581" x2="0" y2="647" gradientUnits="userSpaceOnUse">
<stop offset="0" stop-color="#c01414"/><stop offset="0.07" stop-color="#de1a1a"/><stop offset="0.28" stop-color="#e42418"/><stop offset="0.45" stop-color="#e85018"/><stop offset="0.6" stop-color="#ec8418"/><stop offset="0.75" stop-color="#eeb01c"/><stop offset="0.9" stop-color="#f0d820"/><stop offset="1" stop-color="#f4f022"/>
</linearGradient>
<linearGradient id="p2l" x1="0" y1="647" x2="0" y2="703" gradientUnits="userSpaceOnUse">
<stop offset="0" stop-color="#f2f022"/><stop offset="0.25" stop-color="#dcec20"/><stop offset="0.45" stop-color="#b8e620"/><stop offset="0.65" stop-color="#84e024"/><stop offset="0.85" stop-color="#40dc28"/><stop offset="1" stop-color="#22d82a"/>
</linearGradient>
<pattern id="mesh" width="4" height="3.5" patternUnits="userSpaceOnUse"><path d="M0,0 H4 M0,3.5 L2,0 L4,3.5" fill="none" stroke="#402000" stroke-width="0.5" opacity="0.28"/></pattern>
</defs>
<polygon points="398.0,440.0 453.5,510.3 509.0,440.0 508.6,440.0 506.7,440.0 504.9,440.0 503.0,441.7 501.2,444.0 499.3,446.2 497.5,448.5 495.6,450.8 493.7,453.0 491.9,455.2 490.0,457.4 488.2,459.6 486.3,461.8 484.5,464.0 482.6,466.1 480.7,468.3 478.9,470.4 477.0,472.7 475.2,474.9 473.3,477.1 471.4,479.2 469.6,481.3 467.7,483.3 465.9,485.1 464.0,486.9 462.2,488.5 460.3,489.8 458.4,491.0 456.6,491.9 454.7,492.5 452.9,492.6 451.0,492.1 449.2,491.3 447.3,490.2 445.4,488.9 443.6,487.4 441.7,485.7 439.9,483.9 438.0,481.9 436.2,479.9 434.3,477.8 432.4,475.6 430.6,473.4 428.7,471.1 426.9,468.9 425.0,466.8 423.1,464.7 421.3,462.5 419.4,460.3 417.6,458.1 415.7,455.9 413.9,453.7 412.0,451.5 410.1,449.2 408.3,447.0 406.4,444.7 404.6,442.4 402.7,440.2 400.9,440.0 399.0,440.0" fill="url(#p1u)"/>
<polygon points="398.0,549.4 400.3,548.9 402.6,548.3 404.9,547.7 407.2,547.0 409.6,546.3 411.9,545.5 414.2,544.7 416.5,543.8 418.8,542.9 421.1,541.9 423.4,540.8 425.8,539.7 428.1,538.4 430.4,537.2 432.7,535.8 435.0,534.4 437.3,532.8 439.6,530.9 441.9,528.9 444.2,526.5 446.6,523.4 448.9,519.6 451.2,515.1 453.5,510.3 454.1,510.3 456.4,515.1 458.7,519.6 461.0,523.4 463.4,526.5 465.7,528.9 468.0,530.9 470.3,532.8 472.6,534.4 474.9,535.8 477.2,537.2 479.5,538.4 481.9,539.7 484.2,540.8 486.5,541.9 488.8,542.9 491.1,543.8 493.4,544.7 495.7,545.5 498.0,546.3 500.4,547.0 502.7,547.7 505.0,548.3 507.3,548.9 509.6,549.4 509.0,561.0 507.1,561.0 505.2,561.0 503.4,561.0 501.5,561.0 499.6,561.0 497.7,561.0 495.8,559.5 493.9,557.7 492.1,555.9 490.2,554.1 488.3,552.3 486.4,550.6 484.5,548.8 482.7,547.1 480.8,545.4 478.9,543.8 477.0,542.2 475.1,540.6 473.3,539.0 471.4,537.5 469.5,535.8 467.6,534.2 465.7,532.7 463.8,531.3 462.0,530.1 460.1,529.0 458.2,528.1 456.3,527.4 454.4,526.9 452.6,526.9 450.7,527.4 448.8,528.1 446.9,529.0 445.0,530.1 443.2,531.3 441.3,532.7 439.4,534.2 437.5,535.8 435.6,537.5 433.7,539.0 431.9,540.6 430.0,542.2 428.1,543.8 426.2,545.4 424.3,547.1 422.5,548.8 420.6,550.6 418.7,552.3 416.8,554.1 414.9,555.9 413.1,557.7 411.2,559.5 409.3,561.0 407.4,561.0 405.5,561.0 403.6,561.0 401.8,561.0 399.9,561.0 398.0,561.0" fill="url(#p1l)"/>
<rect x="397.2" y="439.2" width="111.2" height="122.4" rx="2" fill="none" stroke="#000" stroke-width="2.1"/>
<polygon points="399.0,581.0 510.0,581.0 510.0,629.5 507.4,630.9 504.9,632.2 502.4,633.4 499.8,634.6 497.2,635.7 494.7,636.7 492.1,637.6 489.6,638.6 487.1,639.8 484.5,641.0 481.9,642.3 479.4,643.7 476.9,645.2 474.3,646.7 471.2,645.9 468.0,645.1 464.9,644.2 461.8,643.4 458.6,642.6 455.5,641.8 452.3,641.0 449.2,640.2 446.1,639.4 442.9,638.5 439.8,637.7 436.6,636.9 433.5,636.1 430.4,635.4 427.2,634.7 424.1,634.0 421.0,633.3 417.8,632.7 414.7,632.0 411.6,631.4 408.4,630.8 405.3,630.3 402.1,629.7 399.0,629.2" fill="url(#p2u)"/><polygon points="399.0,581.0 510.0,581.0 510.0,629.5 507.4,630.9 504.9,632.2 502.4,633.4 499.8,634.6 497.2,635.7 494.7,636.7 492.1,637.6 489.6,638.6 487.1,639.8 484.5,641.0 481.9,642.3 479.4,643.7 476.9,645.2 474.3,646.7 471.2,645.9 468.0,645.1 464.9,644.2 461.8,643.4 458.6,642.6 455.5,641.8 452.3,641.0 449.2,640.2 446.1,639.4 442.9,638.5 439.8,637.7 436.6,636.9 433.5,636.1 430.4,635.4 427.2,634.7 424.1,634.0 421.0,633.3 417.8,632.7 414.7,632.0 411.6,631.4 408.4,630.8 405.3,630.3 402.1,629.7 399.0,629.2" fill="url(#mesh)"/>
<polygon points="399.0,667.0 402.1,666.8 405.3,666.5 408.4,666.2 411.6,665.7 414.7,665.3 417.8,664.8 421.0,664.1 424.1,663.3 427.2,662.4 430.4,661.5 433.5,660.5 436.6,659.5 439.8,658.6 442.9,657.6 446.1,656.6 449.2,655.5 452.3,654.4 455.5,653.4 458.6,652.3 461.8,651.2 464.9,650.1 468.0,649.0 471.2,647.8 474.3,646.7 476.9,647.9 479.4,649.1 481.9,650.3 484.5,651.4 487.1,652.5 489.6,653.6 492.1,654.6 494.7,655.7 497.2,656.7 499.8,657.7 502.4,658.8 504.9,659.8 507.4,660.9 510.0,662.0 510.0,703.0 399.0,703.0" fill="url(#p2l)"/><polygon points="399.0,667.0 402.1,666.8 405.3,666.5 408.4,666.2 411.6,665.7 414.7,665.3 417.8,664.8 421.0,664.1 424.1,663.3 427.2,662.4 430.4,661.5 433.5,660.5 436.6,659.5 439.8,658.6 442.9,657.6 446.1,656.6 449.2,655.5 452.3,654.4 455.5,653.4 458.6,652.3 461.8,651.2 464.9,650.1 468.0,649.0 471.2,647.8 474.3,646.7 476.9,647.9 479.4,649.1 481.9,650.3 484.5,651.4 487.1,652.5 489.6,653.6 492.1,654.6 494.7,655.7 497.2,656.7 499.8,657.7 502.4,658.8 504.9,659.8 507.4,660.9 510.0,662.0 510.0,703.0 399.0,703.0" fill="url(#mesh)"/>
<rect x="398.2" y="580.2" width="111.3" height="122.8" rx="2" fill="none" stroke="#000" stroke-width="2.1"/>
</g>
</svg>
</body></html>
